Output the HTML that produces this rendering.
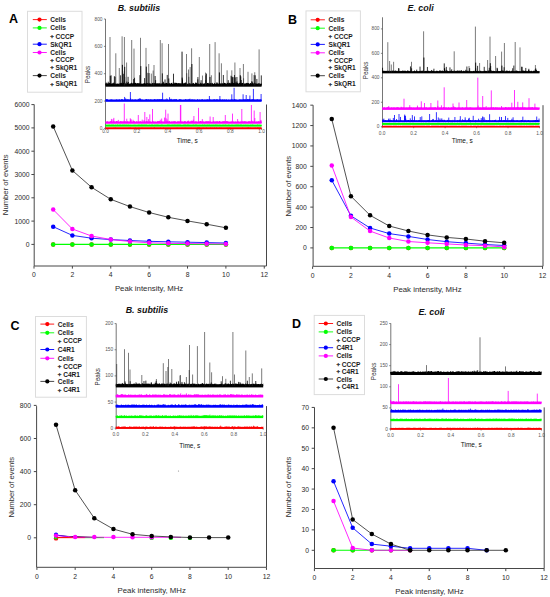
<!DOCTYPE html>
<html><head><meta charset="utf-8"><style>
html,body{margin:0;padding:0;background:#fff;width:550px;height:597px;overflow:hidden}
svg{display:block;font-family:"Liberation Sans", sans-serif}
</style></head><body>
<svg width="550" height="597" viewBox="0 0 550 597" font-family='"Liberation Sans", sans-serif'>
<rect width="550" height="597" fill="#fff"/>
<path d="M34.2 104.5 V266 H266.5 V104.5" fill="none" stroke="#474747" stroke-width="1"/>
<line x1="31.4" y1="244.4" x2="34.2" y2="244.4" stroke="#474747" stroke-width="1"/>
<text x="29.5" y="244.4" font-size="6.8" text-anchor="end" font-weight="normal" font-style="normal" fill="#2a2a2a" dominant-baseline="central">0</text>
<line x1="31.4" y1="221.1" x2="34.2" y2="221.1" stroke="#474747" stroke-width="1"/>
<text x="29.5" y="221.1" font-size="6.8" text-anchor="end" font-weight="normal" font-style="normal" fill="#2a2a2a" dominant-baseline="central">1000</text>
<line x1="31.4" y1="197.8" x2="34.2" y2="197.8" stroke="#474747" stroke-width="1"/>
<text x="29.5" y="197.8" font-size="6.8" text-anchor="end" font-weight="normal" font-style="normal" fill="#2a2a2a" dominant-baseline="central">2000</text>
<line x1="31.4" y1="174.5" x2="34.2" y2="174.5" stroke="#474747" stroke-width="1"/>
<text x="29.5" y="174.5" font-size="6.8" text-anchor="end" font-weight="normal" font-style="normal" fill="#2a2a2a" dominant-baseline="central">3000</text>
<line x1="31.4" y1="151.2" x2="34.2" y2="151.2" stroke="#474747" stroke-width="1"/>
<text x="29.5" y="151.2" font-size="6.8" text-anchor="end" font-weight="normal" font-style="normal" fill="#2a2a2a" dominant-baseline="central">4000</text>
<line x1="31.4" y1="127.9" x2="34.2" y2="127.9" stroke="#474747" stroke-width="1"/>
<text x="29.5" y="127.9" font-size="6.8" text-anchor="end" font-weight="normal" font-style="normal" fill="#2a2a2a" dominant-baseline="central">5000</text>
<line x1="31.4" y1="104.6" x2="34.2" y2="104.6" stroke="#474747" stroke-width="1"/>
<text x="29.5" y="104.6" font-size="6.8" text-anchor="end" font-weight="normal" font-style="normal" fill="#2a2a2a" dominant-baseline="central">6000</text>
<line x1="34" y1="266" x2="34" y2="268.6" stroke="#474747" stroke-width="1"/>
<text x="34" y="274.5" font-size="6.8" text-anchor="middle" font-weight="normal" font-style="normal" fill="#2a2a2a" dominant-baseline="central">0</text>
<line x1="72.38" y1="266" x2="72.38" y2="268.6" stroke="#474747" stroke-width="1"/>
<text x="72.38" y="274.5" font-size="6.8" text-anchor="middle" font-weight="normal" font-style="normal" fill="#2a2a2a" dominant-baseline="central">2</text>
<line x1="110.76" y1="266" x2="110.76" y2="268.6" stroke="#474747" stroke-width="1"/>
<text x="110.76" y="274.5" font-size="6.8" text-anchor="middle" font-weight="normal" font-style="normal" fill="#2a2a2a" dominant-baseline="central">4</text>
<line x1="149.14" y1="266" x2="149.14" y2="268.6" stroke="#474747" stroke-width="1"/>
<text x="149.14" y="274.5" font-size="6.8" text-anchor="middle" font-weight="normal" font-style="normal" fill="#2a2a2a" dominant-baseline="central">6</text>
<line x1="187.52" y1="266" x2="187.52" y2="268.6" stroke="#474747" stroke-width="1"/>
<text x="187.52" y="274.5" font-size="6.8" text-anchor="middle" font-weight="normal" font-style="normal" fill="#2a2a2a" dominant-baseline="central">8</text>
<line x1="225.9" y1="266" x2="225.9" y2="268.6" stroke="#474747" stroke-width="1"/>
<text x="225.9" y="274.5" font-size="6.8" text-anchor="middle" font-weight="normal" font-style="normal" fill="#2a2a2a" dominant-baseline="central">10</text>
<line x1="264.28" y1="266" x2="264.28" y2="268.6" stroke="#474747" stroke-width="1"/>
<text x="264.28" y="274.5" font-size="6.8" text-anchor="middle" font-weight="normal" font-style="normal" fill="#2a2a2a" dominant-baseline="central">12</text>
<text x="149.1" y="288.3" font-size="7.8" text-anchor="middle" font-weight="normal" font-style="normal" fill="#2a2a2a" dominant-baseline="central">Peak intensity, MHz</text>
<text x="5.2" y="184.8" font-size="7.7" text-anchor="middle" font-weight="normal" font-style="normal" fill="#2a2a2a" dominant-baseline="central" transform="rotate(-90 5.2 184.8)">Number of events</text>
<path d="M53.19 244.4 L72.38 244.4 L91.57 244.4 L110.76 244.4 L129.95 244.4 L149.14 244.4 L168.33 244.4 L187.52 244.4 L206.71 244.4 L225.9 244.4" fill="none" stroke="#ff0000" stroke-width="0"/>
<circle cx="53.19" cy="244.4" r="2.25" fill="#ff0000"/>
<circle cx="72.38" cy="244.4" r="2.25" fill="#ff0000"/>
<circle cx="91.57" cy="244.4" r="2.25" fill="#ff0000"/>
<circle cx="110.76" cy="244.4" r="2.25" fill="#ff0000"/>
<circle cx="129.95" cy="244.4" r="2.25" fill="#ff0000"/>
<circle cx="149.14" cy="244.4" r="2.25" fill="#ff0000"/>
<circle cx="168.33" cy="244.4" r="2.25" fill="#ff0000"/>
<circle cx="187.52" cy="244.4" r="2.25" fill="#ff0000"/>
<circle cx="206.71" cy="244.4" r="2.25" fill="#ff0000"/>
<circle cx="225.9" cy="244.4" r="2.25" fill="#ff0000"/>
<path d="M53.19 244.4 L72.38 244.4 L91.57 244.4 L110.76 244.4 L129.95 244.4 L149.14 244.4 L168.33 244.4 L187.52 244.4 L206.71 244.4 L225.9 244.4" fill="none" stroke="#00ff00" stroke-width="1.1"/>
<circle cx="53.19" cy="244.4" r="2.25" fill="#00ff00"/>
<circle cx="72.38" cy="244.4" r="2.25" fill="#00ff00"/>
<circle cx="91.57" cy="244.4" r="2.25" fill="#00ff00"/>
<circle cx="110.76" cy="244.4" r="2.25" fill="#00ff00"/>
<circle cx="129.95" cy="244.4" r="2.25" fill="#00ff00"/>
<circle cx="149.14" cy="244.4" r="2.25" fill="#00ff00"/>
<circle cx="168.33" cy="244.4" r="2.25" fill="#00ff00"/>
<circle cx="187.52" cy="244.4" r="2.25" fill="#00ff00"/>
<circle cx="206.71" cy="244.4" r="2.25" fill="#00ff00"/>
<circle cx="225.9" cy="244.4" r="2.25" fill="#00ff00"/>
<path d="M53.19 226.7 L72.38 235.4 L91.57 238.2 L110.76 239.6 L129.95 240.5 L149.14 241.3 L168.33 241.8 L187.52 242.2 L206.71 242.6 L225.9 243" fill="none" stroke="#0000ff" stroke-width="0.85"/>
<circle cx="53.19" cy="226.7" r="2.25" fill="#0000ff"/>
<circle cx="72.38" cy="235.4" r="2.25" fill="#0000ff"/>
<circle cx="91.57" cy="238.2" r="2.25" fill="#0000ff"/>
<circle cx="110.76" cy="239.6" r="2.25" fill="#0000ff"/>
<circle cx="129.95" cy="240.5" r="2.25" fill="#0000ff"/>
<circle cx="149.14" cy="241.3" r="2.25" fill="#0000ff"/>
<circle cx="168.33" cy="241.8" r="2.25" fill="#0000ff"/>
<circle cx="187.52" cy="242.2" r="2.25" fill="#0000ff"/>
<circle cx="206.71" cy="242.6" r="2.25" fill="#0000ff"/>
<circle cx="225.9" cy="243" r="2.25" fill="#0000ff"/>
<path d="M53.19 209.6 L72.38 229 L91.57 236 L110.76 239.5 L129.95 241.5 L149.14 242.8 L168.33 243.3 L187.52 243.6 L206.71 243.8 L225.9 244" fill="none" stroke="#ff00ff" stroke-width="0.85"/>
<circle cx="53.19" cy="209.6" r="2.25" fill="#ff00ff"/>
<circle cx="72.38" cy="229" r="2.25" fill="#ff00ff"/>
<circle cx="91.57" cy="236" r="2.25" fill="#ff00ff"/>
<circle cx="110.76" cy="239.5" r="2.25" fill="#ff00ff"/>
<circle cx="129.95" cy="241.5" r="2.25" fill="#ff00ff"/>
<circle cx="149.14" cy="242.8" r="2.25" fill="#ff00ff"/>
<circle cx="168.33" cy="243.3" r="2.25" fill="#ff00ff"/>
<circle cx="187.52" cy="243.6" r="2.25" fill="#ff00ff"/>
<circle cx="206.71" cy="243.8" r="2.25" fill="#ff00ff"/>
<circle cx="225.9" cy="244" r="2.25" fill="#ff00ff"/>
<path d="M53.19 126.4 L72.38 170.5 L91.57 187.3 L110.76 199.3 L129.95 206.6 L149.14 212.5 L168.33 217.3 L187.52 220.9 L206.71 224.2 L225.9 227.8" fill="none" stroke="#333" stroke-width="0.85"/>
<circle cx="53.19" cy="126.4" r="2.25" fill="#000000"/>
<circle cx="72.38" cy="170.5" r="2.25" fill="#000000"/>
<circle cx="91.57" cy="187.3" r="2.25" fill="#000000"/>
<circle cx="110.76" cy="199.3" r="2.25" fill="#000000"/>
<circle cx="129.95" cy="206.6" r="2.25" fill="#000000"/>
<circle cx="149.14" cy="212.5" r="2.25" fill="#000000"/>
<circle cx="168.33" cy="217.3" r="2.25" fill="#000000"/>
<circle cx="187.52" cy="220.9" r="2.25" fill="#000000"/>
<circle cx="206.71" cy="224.2" r="2.25" fill="#000000"/>
<circle cx="225.9" cy="227.8" r="2.25" fill="#000000"/>
<path d="M313.1 105.2 V266.3 H543 V105.2" fill="none" stroke="#474747" stroke-width="1"/>
<line x1="310.3" y1="247.9" x2="313.1" y2="247.9" stroke="#474747" stroke-width="1"/>
<text x="306.9" y="247.9" font-size="6.8" text-anchor="end" font-weight="normal" font-style="normal" fill="#2a2a2a" dominant-baseline="central">0</text>
<line x1="310.3" y1="227.51" x2="313.1" y2="227.51" stroke="#474747" stroke-width="1"/>
<text x="306.9" y="227.51" font-size="6.8" text-anchor="end" font-weight="normal" font-style="normal" fill="#2a2a2a" dominant-baseline="central">200</text>
<line x1="310.3" y1="207.12" x2="313.1" y2="207.12" stroke="#474747" stroke-width="1"/>
<text x="306.9" y="207.12" font-size="6.8" text-anchor="end" font-weight="normal" font-style="normal" fill="#2a2a2a" dominant-baseline="central">400</text>
<line x1="310.3" y1="186.73" x2="313.1" y2="186.73" stroke="#474747" stroke-width="1"/>
<text x="306.9" y="186.73" font-size="6.8" text-anchor="end" font-weight="normal" font-style="normal" fill="#2a2a2a" dominant-baseline="central">600</text>
<line x1="310.3" y1="166.34" x2="313.1" y2="166.34" stroke="#474747" stroke-width="1"/>
<text x="306.9" y="166.34" font-size="6.8" text-anchor="end" font-weight="normal" font-style="normal" fill="#2a2a2a" dominant-baseline="central">800</text>
<line x1="310.3" y1="145.95" x2="313.1" y2="145.95" stroke="#474747" stroke-width="1"/>
<text x="306.9" y="145.95" font-size="6.8" text-anchor="end" font-weight="normal" font-style="normal" fill="#2a2a2a" dominant-baseline="central">1000</text>
<line x1="310.3" y1="125.56" x2="313.1" y2="125.56" stroke="#474747" stroke-width="1"/>
<text x="306.9" y="125.56" font-size="6.8" text-anchor="end" font-weight="normal" font-style="normal" fill="#2a2a2a" dominant-baseline="central">1200</text>
<line x1="310.3" y1="105.17" x2="313.1" y2="105.17" stroke="#474747" stroke-width="1"/>
<text x="306.9" y="105.17" font-size="6.8" text-anchor="end" font-weight="normal" font-style="normal" fill="#2a2a2a" dominant-baseline="central">1400</text>
<line x1="312.6" y1="266.3" x2="312.6" y2="268.9" stroke="#474747" stroke-width="1"/>
<text x="312.6" y="275" font-size="6.8" text-anchor="middle" font-weight="normal" font-style="normal" fill="#2a2a2a" dominant-baseline="central">0</text>
<line x1="350.92" y1="266.3" x2="350.92" y2="268.9" stroke="#474747" stroke-width="1"/>
<text x="350.92" y="275" font-size="6.8" text-anchor="middle" font-weight="normal" font-style="normal" fill="#2a2a2a" dominant-baseline="central">2</text>
<line x1="389.24" y1="266.3" x2="389.24" y2="268.9" stroke="#474747" stroke-width="1"/>
<text x="389.24" y="275" font-size="6.8" text-anchor="middle" font-weight="normal" font-style="normal" fill="#2a2a2a" dominant-baseline="central">4</text>
<line x1="427.56" y1="266.3" x2="427.56" y2="268.9" stroke="#474747" stroke-width="1"/>
<text x="427.56" y="275" font-size="6.8" text-anchor="middle" font-weight="normal" font-style="normal" fill="#2a2a2a" dominant-baseline="central">6</text>
<line x1="465.88" y1="266.3" x2="465.88" y2="268.9" stroke="#474747" stroke-width="1"/>
<text x="465.88" y="275" font-size="6.8" text-anchor="middle" font-weight="normal" font-style="normal" fill="#2a2a2a" dominant-baseline="central">8</text>
<line x1="504.2" y1="266.3" x2="504.2" y2="268.9" stroke="#474747" stroke-width="1"/>
<text x="504.2" y="275" font-size="6.8" text-anchor="middle" font-weight="normal" font-style="normal" fill="#2a2a2a" dominant-baseline="central">10</text>
<line x1="542.52" y1="266.3" x2="542.52" y2="268.9" stroke="#474747" stroke-width="1"/>
<text x="542.52" y="275" font-size="6.8" text-anchor="middle" font-weight="normal" font-style="normal" fill="#2a2a2a" dominant-baseline="central">12</text>
<text x="427.4" y="289" font-size="7.8" text-anchor="middle" font-weight="normal" font-style="normal" fill="#2a2a2a" dominant-baseline="central">Peak intensity, MHz</text>
<text x="289" y="186.2" font-size="7.7" text-anchor="middle" font-weight="normal" font-style="normal" fill="#2a2a2a" dominant-baseline="central" transform="rotate(-90 289 186.2)">Number of events</text>
<path d="M331.76 247.9 L350.92 247.9 L370.08 247.9 L389.24 247.9 L408.4 247.9 L427.56 247.9 L446.72 247.9 L465.88 247.9 L485.04 247.9 L504.2 247.9" fill="none" stroke="#ff0000" stroke-width="0"/>
<circle cx="331.76" cy="247.9" r="2.25" fill="#ff0000"/>
<circle cx="350.92" cy="247.9" r="2.25" fill="#ff0000"/>
<circle cx="370.08" cy="247.9" r="2.25" fill="#ff0000"/>
<circle cx="389.24" cy="247.9" r="2.25" fill="#ff0000"/>
<circle cx="408.4" cy="247.9" r="2.25" fill="#ff0000"/>
<circle cx="427.56" cy="247.9" r="2.25" fill="#ff0000"/>
<circle cx="446.72" cy="247.9" r="2.25" fill="#ff0000"/>
<circle cx="465.88" cy="247.9" r="2.25" fill="#ff0000"/>
<circle cx="485.04" cy="247.9" r="2.25" fill="#ff0000"/>
<circle cx="504.2" cy="247.9" r="2.25" fill="#ff0000"/>
<path d="M331.76 247.9 L350.92 247.9 L370.08 247.9 L389.24 247.9 L408.4 247.9 L427.56 247.9 L446.72 247.9 L465.88 247.9 L485.04 247.9 L504.2 247.9" fill="none" stroke="#00ff00" stroke-width="1.1"/>
<circle cx="331.76" cy="247.9" r="2.25" fill="#00ff00"/>
<circle cx="350.92" cy="247.9" r="2.25" fill="#00ff00"/>
<circle cx="370.08" cy="247.9" r="2.25" fill="#00ff00"/>
<circle cx="389.24" cy="247.9" r="2.25" fill="#00ff00"/>
<circle cx="408.4" cy="247.9" r="2.25" fill="#00ff00"/>
<circle cx="427.56" cy="247.9" r="2.25" fill="#00ff00"/>
<circle cx="446.72" cy="247.9" r="2.25" fill="#00ff00"/>
<circle cx="465.88" cy="247.9" r="2.25" fill="#00ff00"/>
<circle cx="485.04" cy="247.9" r="2.25" fill="#00ff00"/>
<circle cx="504.2" cy="247.9" r="2.25" fill="#00ff00"/>
<path d="M331.76 180.2 L350.92 215.8 L370.08 228 L389.24 233.6 L408.4 236.4 L427.56 239.5 L446.72 241.7 L465.88 243.1 L485.04 244.5 L504.2 245.5" fill="none" stroke="#0000ff" stroke-width="0.85"/>
<circle cx="331.76" cy="180.2" r="2.25" fill="#0000ff"/>
<circle cx="350.92" cy="215.8" r="2.25" fill="#0000ff"/>
<circle cx="370.08" cy="228" r="2.25" fill="#0000ff"/>
<circle cx="389.24" cy="233.6" r="2.25" fill="#0000ff"/>
<circle cx="408.4" cy="236.4" r="2.25" fill="#0000ff"/>
<circle cx="427.56" cy="239.5" r="2.25" fill="#0000ff"/>
<circle cx="446.72" cy="241.7" r="2.25" fill="#0000ff"/>
<circle cx="465.88" cy="243.1" r="2.25" fill="#0000ff"/>
<circle cx="485.04" cy="244.5" r="2.25" fill="#0000ff"/>
<circle cx="504.2" cy="245.5" r="2.25" fill="#0000ff"/>
<path d="M331.76 165.5 L350.92 217 L370.08 231.1 L389.24 238 L408.4 241.5 L427.56 242.8 L446.72 243.9 L465.88 245 L485.04 245.7 L504.2 246.9" fill="none" stroke="#ff00ff" stroke-width="0.85"/>
<circle cx="331.76" cy="165.5" r="2.25" fill="#ff00ff"/>
<circle cx="350.92" cy="217" r="2.25" fill="#ff00ff"/>
<circle cx="370.08" cy="231.1" r="2.25" fill="#ff00ff"/>
<circle cx="389.24" cy="238" r="2.25" fill="#ff00ff"/>
<circle cx="408.4" cy="241.5" r="2.25" fill="#ff00ff"/>
<circle cx="427.56" cy="242.8" r="2.25" fill="#ff00ff"/>
<circle cx="446.72" cy="243.9" r="2.25" fill="#ff00ff"/>
<circle cx="465.88" cy="245" r="2.25" fill="#ff00ff"/>
<circle cx="485.04" cy="245.7" r="2.25" fill="#ff00ff"/>
<circle cx="504.2" cy="246.9" r="2.25" fill="#ff00ff"/>
<path d="M331.76 119 L350.92 196.2 L370.08 215.3 L389.24 226 L408.4 231 L427.56 234.9 L446.72 237.4 L465.88 239 L485.04 241.2 L504.2 242.8" fill="none" stroke="#333" stroke-width="0.85"/>
<circle cx="331.76" cy="119" r="2.25" fill="#000000"/>
<circle cx="350.92" cy="196.2" r="2.25" fill="#000000"/>
<circle cx="370.08" cy="215.3" r="2.25" fill="#000000"/>
<circle cx="389.24" cy="226" r="2.25" fill="#000000"/>
<circle cx="408.4" cy="231" r="2.25" fill="#000000"/>
<circle cx="427.56" cy="234.9" r="2.25" fill="#000000"/>
<circle cx="446.72" cy="237.4" r="2.25" fill="#000000"/>
<circle cx="465.88" cy="239" r="2.25" fill="#000000"/>
<circle cx="485.04" cy="241.2" r="2.25" fill="#000000"/>
<circle cx="504.2" cy="242.8" r="2.25" fill="#000000"/>
<path d="M36.6 406.1 V567.3 H266.5 V406.1" fill="none" stroke="#474747" stroke-width="1"/>
<line x1="33.8" y1="537.8" x2="36.6" y2="537.8" stroke="#474747" stroke-width="1"/>
<text x="31.1" y="537.8" font-size="6.8" text-anchor="end" font-weight="normal" font-style="normal" fill="#2a2a2a" dominant-baseline="central">0</text>
<line x1="33.8" y1="504.7" x2="36.6" y2="504.7" stroke="#474747" stroke-width="1"/>
<text x="31.1" y="504.7" font-size="6.8" text-anchor="end" font-weight="normal" font-style="normal" fill="#2a2a2a" dominant-baseline="central">200</text>
<line x1="33.8" y1="471.6" x2="36.6" y2="471.6" stroke="#474747" stroke-width="1"/>
<text x="31.1" y="471.6" font-size="6.8" text-anchor="end" font-weight="normal" font-style="normal" fill="#2a2a2a" dominant-baseline="central">400</text>
<line x1="33.8" y1="438.5" x2="36.6" y2="438.5" stroke="#474747" stroke-width="1"/>
<text x="31.1" y="438.5" font-size="6.8" text-anchor="end" font-weight="normal" font-style="normal" fill="#2a2a2a" dominant-baseline="central">600</text>
<line x1="33.8" y1="405.4" x2="36.6" y2="405.4" stroke="#474747" stroke-width="1"/>
<text x="31.1" y="405.4" font-size="6.8" text-anchor="end" font-weight="normal" font-style="normal" fill="#2a2a2a" dominant-baseline="central">800</text>
<line x1="36.9" y1="567.3" x2="36.9" y2="569.9" stroke="#474747" stroke-width="1"/>
<text x="36.9" y="576.5" font-size="6.8" text-anchor="middle" font-weight="normal" font-style="normal" fill="#2a2a2a" dominant-baseline="central">0</text>
<line x1="75.16" y1="567.3" x2="75.16" y2="569.9" stroke="#474747" stroke-width="1"/>
<text x="75.16" y="576.5" font-size="6.8" text-anchor="middle" font-weight="normal" font-style="normal" fill="#2a2a2a" dominant-baseline="central">2</text>
<line x1="113.42" y1="567.3" x2="113.42" y2="569.9" stroke="#474747" stroke-width="1"/>
<text x="113.42" y="576.5" font-size="6.8" text-anchor="middle" font-weight="normal" font-style="normal" fill="#2a2a2a" dominant-baseline="central">4</text>
<line x1="151.68" y1="567.3" x2="151.68" y2="569.9" stroke="#474747" stroke-width="1"/>
<text x="151.68" y="576.5" font-size="6.8" text-anchor="middle" font-weight="normal" font-style="normal" fill="#2a2a2a" dominant-baseline="central">6</text>
<line x1="189.94" y1="567.3" x2="189.94" y2="569.9" stroke="#474747" stroke-width="1"/>
<text x="189.94" y="576.5" font-size="6.8" text-anchor="middle" font-weight="normal" font-style="normal" fill="#2a2a2a" dominant-baseline="central">8</text>
<line x1="228.2" y1="567.3" x2="228.2" y2="569.9" stroke="#474747" stroke-width="1"/>
<text x="228.2" y="576.5" font-size="6.8" text-anchor="middle" font-weight="normal" font-style="normal" fill="#2a2a2a" dominant-baseline="central">10</text>
<line x1="266.46" y1="567.3" x2="266.46" y2="569.9" stroke="#474747" stroke-width="1"/>
<text x="266.46" y="576.5" font-size="6.8" text-anchor="middle" font-weight="normal" font-style="normal" fill="#2a2a2a" dominant-baseline="central">12</text>
<text x="151.75" y="590" font-size="7.8" text-anchor="middle" font-weight="normal" font-style="normal" fill="#2a2a2a" dominant-baseline="central">Peak intensity, MHz</text>
<text x="11.4" y="487.2" font-size="7.7" text-anchor="middle" font-weight="normal" font-style="normal" fill="#2a2a2a" dominant-baseline="central" transform="rotate(-90 11.4 487.2)">Number of events</text>
<circle cx="151.68" cy="537.9" r="2.2" fill="#00ff00"/><circle cx="170.81" cy="537.9" r="2.2" fill="#00ff00"/><circle cx="189.94" cy="537.9" r="2.2" fill="#00ff00"/><circle cx="56.03" cy="538.4" r="2.2" fill="#ff0000"/><circle cx="56.03" cy="537.6" r="2" fill="#00ff00"/><path d="M56 537.6 H85" stroke="#ff0000" stroke-width="1.1"/><path d="M85 537.6 H104" stroke="#00ff00" stroke-width="1.1"/><path d="M56 535 L68 536.6" stroke="#0000ff" stroke-width="1"/><circle cx="56.03" cy="534.7" r="2.1" fill="#0000ff"/><path d="M56 535.6 L75.16 537.2 H104" stroke="#ff00ff" stroke-width="0.8"/><path d="M104 537.4 H181" stroke="#ff55ff" stroke-width="1.2"/><circle cx="56.03" cy="535.6" r="2.2" fill="#ff00ff"/><circle cx="75.16" cy="537.1" r="2.25" fill="#ff00ff"/><circle cx="94.29" cy="537.1" r="2.25" fill="#ff00ff"/><circle cx="113.42" cy="537.1" r="2.25" fill="#ff00ff"/><circle cx="132.55" cy="537.2" r="2.25" fill="#ff00ff"/><circle cx="151.68" cy="537.2" r="2.2" fill="#ff00ff"/><circle cx="178.5" cy="471" r="0.6" fill="#888"/>
<path d="M56.03 424.8 L75.16 490.2 L94.29 518.2 L113.42 529.1 L132.55 534.3 L151.68 536 L170.81 536.9 L189.94 537.5 L209.07 537.6 L228.2 537.6" fill="none" stroke="#333" stroke-width="0.85"/>
<circle cx="56.03" cy="424.8" r="2.25" fill="#000000"/>
<circle cx="75.16" cy="490.2" r="2.25" fill="#000000"/>
<circle cx="94.29" cy="518.2" r="2.25" fill="#000000"/>
<circle cx="113.42" cy="529.1" r="2.25" fill="#000000"/>
<circle cx="132.55" cy="534.3" r="2.25" fill="#000000"/>
<circle cx="151.68" cy="536" r="2.25" fill="#000000"/>
<circle cx="170.81" cy="536.9" r="2.25" fill="#000000"/>
<circle cx="189.94" cy="537.5" r="2.25" fill="#000000"/>
<circle cx="209.07" cy="537.6" r="2.25" fill="#000000"/>
<circle cx="228.2" cy="537.6" r="2.25" fill="#000000"/>
<path d="M314.5 407.4 V568.5 H544.2 V407.4" fill="none" stroke="#474747" stroke-width="1"/>
<line x1="311.7" y1="550.3" x2="314.5" y2="550.3" stroke="#474747" stroke-width="1"/>
<text x="309.1" y="550.3" font-size="6.8" text-anchor="end" font-weight="normal" font-style="normal" fill="#2a2a2a" dominant-baseline="central">0</text>
<line x1="311.7" y1="529.89" x2="314.5" y2="529.89" stroke="#474747" stroke-width="1"/>
<text x="309.1" y="529.89" font-size="6.8" text-anchor="end" font-weight="normal" font-style="normal" fill="#2a2a2a" dominant-baseline="central">10</text>
<line x1="311.7" y1="509.48" x2="314.5" y2="509.48" stroke="#474747" stroke-width="1"/>
<text x="309.1" y="509.48" font-size="6.8" text-anchor="end" font-weight="normal" font-style="normal" fill="#2a2a2a" dominant-baseline="central">20</text>
<line x1="311.7" y1="489.07" x2="314.5" y2="489.07" stroke="#474747" stroke-width="1"/>
<text x="309.1" y="489.07" font-size="6.8" text-anchor="end" font-weight="normal" font-style="normal" fill="#2a2a2a" dominant-baseline="central">30</text>
<line x1="311.7" y1="468.66" x2="314.5" y2="468.66" stroke="#474747" stroke-width="1"/>
<text x="309.1" y="468.66" font-size="6.8" text-anchor="end" font-weight="normal" font-style="normal" fill="#2a2a2a" dominant-baseline="central">40</text>
<line x1="311.7" y1="448.25" x2="314.5" y2="448.25" stroke="#474747" stroke-width="1"/>
<text x="309.1" y="448.25" font-size="6.8" text-anchor="end" font-weight="normal" font-style="normal" fill="#2a2a2a" dominant-baseline="central">50</text>
<line x1="311.7" y1="427.84" x2="314.5" y2="427.84" stroke="#474747" stroke-width="1"/>
<text x="309.1" y="427.84" font-size="6.8" text-anchor="end" font-weight="normal" font-style="normal" fill="#2a2a2a" dominant-baseline="central">60</text>
<line x1="311.7" y1="407.43" x2="314.5" y2="407.43" stroke="#474747" stroke-width="1"/>
<text x="309.1" y="407.43" font-size="6.8" text-anchor="end" font-weight="normal" font-style="normal" fill="#2a2a2a" dominant-baseline="central">70</text>
<line x1="314.4" y1="568.5" x2="314.4" y2="571.1" stroke="#474747" stroke-width="1"/>
<text x="314.4" y="577.5" font-size="6.8" text-anchor="middle" font-weight="normal" font-style="normal" fill="#2a2a2a" dominant-baseline="central">0</text>
<line x1="352.68" y1="568.5" x2="352.68" y2="571.1" stroke="#474747" stroke-width="1"/>
<text x="352.68" y="577.5" font-size="6.8" text-anchor="middle" font-weight="normal" font-style="normal" fill="#2a2a2a" dominant-baseline="central">2</text>
<line x1="390.96" y1="568.5" x2="390.96" y2="571.1" stroke="#474747" stroke-width="1"/>
<text x="390.96" y="577.5" font-size="6.8" text-anchor="middle" font-weight="normal" font-style="normal" fill="#2a2a2a" dominant-baseline="central">4</text>
<line x1="429.24" y1="568.5" x2="429.24" y2="571.1" stroke="#474747" stroke-width="1"/>
<text x="429.24" y="577.5" font-size="6.8" text-anchor="middle" font-weight="normal" font-style="normal" fill="#2a2a2a" dominant-baseline="central">6</text>
<line x1="467.52" y1="568.5" x2="467.52" y2="571.1" stroke="#474747" stroke-width="1"/>
<text x="467.52" y="577.5" font-size="6.8" text-anchor="middle" font-weight="normal" font-style="normal" fill="#2a2a2a" dominant-baseline="central">8</text>
<line x1="505.8" y1="568.5" x2="505.8" y2="571.1" stroke="#474747" stroke-width="1"/>
<text x="505.8" y="577.5" font-size="6.8" text-anchor="middle" font-weight="normal" font-style="normal" fill="#2a2a2a" dominant-baseline="central">10</text>
<line x1="544.08" y1="568.5" x2="544.08" y2="571.1" stroke="#474747" stroke-width="1"/>
<text x="544.08" y="577.5" font-size="6.8" text-anchor="middle" font-weight="normal" font-style="normal" fill="#2a2a2a" dominant-baseline="central">12</text>
<text x="429.5" y="591" font-size="7.8" text-anchor="middle" font-weight="normal" font-style="normal" fill="#2a2a2a" dominant-baseline="central">Peak intensity, MHz</text>
<text x="288.7" y="487" font-size="7.7" text-anchor="middle" font-weight="normal" font-style="normal" fill="#2a2a2a" dominant-baseline="central" transform="rotate(-90 288.7 487)">Number of events</text>
<path d="M333.54 550.3 L352.68 550.3 L371.82 550.3 L390.96 550.3 L410.1 550.3" fill="none" stroke="#ff0000" stroke-width="0"/>
<circle cx="333.54" cy="550.3" r="2.25" fill="#ff0000"/>
<circle cx="352.68" cy="550.3" r="2.25" fill="#ff0000"/>
<circle cx="371.82" cy="550.3" r="2.25" fill="#ff0000"/>
<circle cx="390.96" cy="550.3" r="2.25" fill="#ff0000"/>
<circle cx="410.1" cy="550.3" r="2.25" fill="#ff0000"/>
<path d="M333.54 550.3 L352.68 550.3 L371.82 550.3 L390.96 550.3 L410.1 550.3" fill="none" stroke="#00ff00" stroke-width="1.1"/>
<circle cx="333.54" cy="550.3" r="2.25" fill="#00ff00"/>
<circle cx="352.68" cy="550.3" r="2.25" fill="#00ff00"/>
<circle cx="371.82" cy="550.3" r="2.25" fill="#00ff00"/>
<circle cx="390.96" cy="550.3" r="2.25" fill="#00ff00"/>
<circle cx="410.1" cy="550.3" r="2.25" fill="#00ff00"/>
<path d="M333.54 501.1 L352.68 548 L371.82 550.3 L390.96 550.3 L410.1 550.3" fill="none" stroke="#ff00ff" stroke-width="0.85"/>
<circle cx="333.54" cy="501.1" r="2.25" fill="#ff00ff"/>
<circle cx="352.68" cy="548" r="2.25" fill="#ff00ff"/>
<circle cx="371.82" cy="550.3" r="2.25" fill="#ff00ff"/>
<circle cx="390.96" cy="550.3" r="2.25" fill="#ff00ff"/>
<circle cx="410.1" cy="550.3" r="2.25" fill="#ff00ff"/>
<path d="M333.54 481.3 L352.68 527.8 L371.82 544.1 L390.96 546.2 L410.1 548.3 L429.24 548.3 L448.38 548.3 L467.52 548.3 L486.66 550.3" fill="none" stroke="#0000ff" stroke-width="0.85"/>
<circle cx="333.54" cy="481.3" r="2.25" fill="#0000ff"/>
<circle cx="352.68" cy="527.8" r="2.25" fill="#0000ff"/>
<circle cx="371.82" cy="544.1" r="2.25" fill="#0000ff"/>
<circle cx="390.96" cy="546.2" r="2.25" fill="#0000ff"/>
<circle cx="410.1" cy="548.3" r="2.25" fill="#0000ff"/>
<circle cx="429.24" cy="548.3" r="2.25" fill="#0000ff"/>
<circle cx="448.38" cy="548.3" r="2.25" fill="#0000ff"/>
<circle cx="467.52" cy="548.3" r="2.25" fill="#0000ff"/>
<circle cx="486.66" cy="550.3" r="2.25" fill="#0000ff"/>
<path d="M333.54 427.7 L352.68 519.5 L371.82 534 L390.96 544.1 L410.1 550.3 L429.24 550.3 L448.38 550.3 L467.52 550.3 L486.66 550.3 L505.8 550.3" fill="none" stroke="#333" stroke-width="0.85"/>
<circle cx="333.54" cy="427.7" r="2.25" fill="#000000"/>
<circle cx="352.68" cy="519.5" r="2.25" fill="#000000"/>
<circle cx="371.82" cy="534" r="2.25" fill="#000000"/>
<circle cx="390.96" cy="544.1" r="2.25" fill="#000000"/>
<circle cx="410.1" cy="550.3" r="2.25" fill="#000000"/>
<circle cx="429.24" cy="550.3" r="2.25" fill="#000000"/>
<circle cx="448.38" cy="550.3" r="2.25" fill="#000000"/>
<circle cx="467.52" cy="550.3" r="2.25" fill="#000000"/>
<circle cx="486.66" cy="550.3" r="2.25" fill="#000000"/>
<circle cx="505.8" cy="550.3" r="2.25" fill="#000000"/>
<rect x="27.5" y="11.3" width="54.5" height="80.9" fill="#fff" stroke="#dcdcdc" stroke-width="1"/>
<line x1="32.8" y1="19.6" x2="46.8" y2="19.6" stroke="#ff0000" stroke-width="0.9"/>
<circle cx="39.5" cy="19.6" r="2.1" fill="#ff0000"/>
<line x1="32.8" y1="27.9" x2="46.8" y2="27.9" stroke="#00ff00" stroke-width="0.9"/>
<circle cx="39.5" cy="27.9" r="2.1" fill="#00ff00"/>
<line x1="32.8" y1="44.2" x2="46.8" y2="44.2" stroke="#0000ff" stroke-width="0.9"/>
<circle cx="39.5" cy="44.2" r="2.1" fill="#0000ff"/>
<line x1="32.8" y1="52.5" x2="46.8" y2="52.5" stroke="#ff00ff" stroke-width="0.9"/>
<circle cx="39.5" cy="52.5" r="2.1" fill="#ff00ff"/>
<line x1="32.8" y1="75.6" x2="46.8" y2="75.6" stroke="#333" stroke-width="0.9"/>
<circle cx="39.5" cy="75.6" r="2.1" fill="#000000"/>
<text x="50.2" y="19.6" font-size="6.6" text-anchor="start" font-weight="bold" font-style="normal" fill="#1a1a1a" dominant-baseline="central">Cells</text>
<text x="50.2" y="27.9" font-size="6.6" text-anchor="start" font-weight="bold" font-style="normal" fill="#1a1a1a" dominant-baseline="central">Cells</text>
<text x="50.2" y="35.6" font-size="6.6" text-anchor="start" font-weight="bold" font-style="normal" fill="#1a1a1a" dominant-baseline="central"><tspan font-size="6" dy="0.6" stroke="#1a1a1a" stroke-width="0.25">+</tspan><tspan dy="-0.6"> CCCP</tspan></text>
<text x="50.2" y="44.2" font-size="6.6" text-anchor="start" font-weight="bold" font-style="normal" fill="#1a1a1a" dominant-baseline="central">SkQR1</text>
<text x="50.2" y="52.5" font-size="6.6" text-anchor="start" font-weight="bold" font-style="normal" fill="#1a1a1a" dominant-baseline="central">Cells</text>
<text x="50.2" y="59" font-size="6.6" text-anchor="start" font-weight="bold" font-style="normal" fill="#1a1a1a" dominant-baseline="central"><tspan font-size="6" dy="0.6" stroke="#1a1a1a" stroke-width="0.25">+</tspan><tspan dy="-0.6"> CCCP</tspan></text>
<text x="50.2" y="66.5" font-size="6.6" text-anchor="start" font-weight="bold" font-style="normal" fill="#1a1a1a" dominant-baseline="central"><tspan font-size="6" dy="0.6" stroke="#1a1a1a" stroke-width="0.25">+</tspan><tspan dy="-0.6"> SkQR1</tspan></text>
<text x="50.2" y="75.6" font-size="6.6" text-anchor="start" font-weight="bold" font-style="normal" fill="#1a1a1a" dominant-baseline="central">Cells</text>
<text x="50.2" y="83" font-size="6.6" text-anchor="start" font-weight="bold" font-style="normal" fill="#1a1a1a" dominant-baseline="central"><tspan font-size="6" dy="0.6" stroke="#1a1a1a" stroke-width="0.25">+</tspan><tspan dy="-0.6"> SkQR1</tspan></text>
<rect x="306" y="10.9" width="54.4" height="80.9" fill="#fff" stroke="#dcdcdc" stroke-width="1"/>
<line x1="310.7" y1="19.8" x2="324.9" y2="19.8" stroke="#ff0000" stroke-width="0.9"/>
<circle cx="317.7" cy="19.8" r="2.1" fill="#ff0000"/>
<line x1="310.7" y1="28.2" x2="324.9" y2="28.2" stroke="#00ff00" stroke-width="0.9"/>
<circle cx="317.7" cy="28.2" r="2.1" fill="#00ff00"/>
<line x1="310.7" y1="44.4" x2="324.9" y2="44.4" stroke="#0000ff" stroke-width="0.9"/>
<circle cx="317.7" cy="44.4" r="2.1" fill="#0000ff"/>
<line x1="310.7" y1="52.8" x2="324.9" y2="52.8" stroke="#ff00ff" stroke-width="0.9"/>
<circle cx="317.7" cy="52.8" r="2.1" fill="#ff00ff"/>
<line x1="310.7" y1="75.7" x2="324.9" y2="75.7" stroke="#333" stroke-width="0.9"/>
<circle cx="317.7" cy="75.7" r="2.1" fill="#000000"/>
<text x="328.6" y="19.8" font-size="6.6" text-anchor="start" font-weight="bold" font-style="normal" fill="#1a1a1a" dominant-baseline="central">Cells</text>
<text x="328.6" y="28.2" font-size="6.6" text-anchor="start" font-weight="bold" font-style="normal" fill="#1a1a1a" dominant-baseline="central">Cells</text>
<text x="328.6" y="35.5" font-size="6.6" text-anchor="start" font-weight="bold" font-style="normal" fill="#1a1a1a" dominant-baseline="central"><tspan font-size="6" dy="0.6" stroke="#1a1a1a" stroke-width="0.25">+</tspan><tspan dy="-0.6"> CCCP</tspan></text>
<text x="328.6" y="44.4" font-size="6.6" text-anchor="start" font-weight="bold" font-style="normal" fill="#1a1a1a" dominant-baseline="central">SkQR1</text>
<text x="328.6" y="52.8" font-size="6.6" text-anchor="start" font-weight="bold" font-style="normal" fill="#1a1a1a" dominant-baseline="central">Cells</text>
<text x="328.6" y="59.5" font-size="6.6" text-anchor="start" font-weight="bold" font-style="normal" fill="#1a1a1a" dominant-baseline="central"><tspan font-size="6" dy="0.6" stroke="#1a1a1a" stroke-width="0.25">+</tspan><tspan dy="-0.6"> CCCP</tspan></text>
<text x="328.6" y="66.5" font-size="6.6" text-anchor="start" font-weight="bold" font-style="normal" fill="#1a1a1a" dominant-baseline="central"><tspan font-size="6" dy="0.6" stroke="#1a1a1a" stroke-width="0.25">+</tspan><tspan dy="-0.6"> SkQR1</tspan></text>
<text x="328.6" y="75.7" font-size="6.6" text-anchor="start" font-weight="bold" font-style="normal" fill="#1a1a1a" dominant-baseline="central">Cells</text>
<text x="328.6" y="83.3" font-size="6.6" text-anchor="start" font-weight="bold" font-style="normal" fill="#1a1a1a" dominant-baseline="central"><tspan font-size="6" dy="0.6" stroke="#1a1a1a" stroke-width="0.25">+</tspan><tspan dy="-0.6"> SkQR1</tspan></text>
<rect x="35.5" y="316.5" width="50.9" height="80.7" fill="#fff" stroke="#dcdcdc" stroke-width="1"/>
<line x1="40.4" y1="324.1" x2="54.2" y2="324.1" stroke="#ff0000" stroke-width="0.9"/>
<circle cx="47.3" cy="324.1" r="2.1" fill="#ff0000"/>
<line x1="40.4" y1="332.8" x2="54.2" y2="332.8" stroke="#00ff00" stroke-width="0.9"/>
<circle cx="47.3" cy="332.8" r="2.1" fill="#00ff00"/>
<line x1="40.4" y1="349.5" x2="54.2" y2="349.5" stroke="#0000ff" stroke-width="0.9"/>
<circle cx="47.3" cy="349.5" r="2.1" fill="#0000ff"/>
<line x1="40.4" y1="358.3" x2="54.2" y2="358.3" stroke="#ff00ff" stroke-width="0.9"/>
<circle cx="47.3" cy="358.3" r="2.1" fill="#ff00ff"/>
<line x1="40.4" y1="381.4" x2="54.2" y2="381.4" stroke="#333" stroke-width="0.9"/>
<circle cx="47.3" cy="381.4" r="2.1" fill="#000000"/>
<text x="57.8" y="324.1" font-size="6.6" text-anchor="start" font-weight="bold" font-style="normal" fill="#1a1a1a" dominant-baseline="central">Cells</text>
<text x="57.8" y="332.8" font-size="6.6" text-anchor="start" font-weight="bold" font-style="normal" fill="#1a1a1a" dominant-baseline="central">Cells</text>
<text x="57.8" y="340.1" font-size="6.6" text-anchor="start" font-weight="bold" font-style="normal" fill="#1a1a1a" dominant-baseline="central"><tspan font-size="6" dy="0.6" stroke="#1a1a1a" stroke-width="0.25">+</tspan><tspan dy="-0.6"> CCCP</tspan></text>
<text x="57.8" y="349.5" font-size="6.6" text-anchor="start" font-weight="bold" font-style="normal" fill="#1a1a1a" dominant-baseline="central">C4R1</text>
<text x="57.8" y="358.3" font-size="6.6" text-anchor="start" font-weight="bold" font-style="normal" fill="#1a1a1a" dominant-baseline="central">Cells</text>
<text x="57.8" y="365.5" font-size="6.6" text-anchor="start" font-weight="bold" font-style="normal" fill="#1a1a1a" dominant-baseline="central"><tspan font-size="6" dy="0.6" stroke="#1a1a1a" stroke-width="0.25">+</tspan><tspan dy="-0.6"> CCCP</tspan></text>
<text x="57.8" y="373.5" font-size="6.6" text-anchor="start" font-weight="bold" font-style="normal" fill="#1a1a1a" dominant-baseline="central"><tspan font-size="6" dy="0.6" stroke="#1a1a1a" stroke-width="0.25">+</tspan><tspan dy="-0.6"> C4R1</tspan></text>
<text x="57.8" y="381.4" font-size="6.6" text-anchor="start" font-weight="bold" font-style="normal" fill="#1a1a1a" dominant-baseline="central">Cells</text>
<text x="57.8" y="389" font-size="6.6" text-anchor="start" font-weight="bold" font-style="normal" fill="#1a1a1a" dominant-baseline="central"><tspan font-size="6" dy="0.6" stroke="#1a1a1a" stroke-width="0.25">+</tspan><tspan dy="-0.6"> C4R1</tspan></text>
<rect x="314.2" y="315.4" width="50.3" height="79.2" fill="#fff" stroke="#dcdcdc" stroke-width="1"/>
<line x1="318.7" y1="323.5" x2="333.1" y2="323.5" stroke="#ff0000" stroke-width="0.9"/>
<circle cx="325.8" cy="323.5" r="2.1" fill="#ff0000"/>
<line x1="318.7" y1="331.9" x2="333.1" y2="331.9" stroke="#00ff00" stroke-width="0.9"/>
<circle cx="325.8" cy="331.9" r="2.1" fill="#00ff00"/>
<line x1="318.7" y1="347.7" x2="333.1" y2="347.7" stroke="#0000ff" stroke-width="0.9"/>
<circle cx="325.8" cy="347.7" r="2.1" fill="#0000ff"/>
<line x1="318.7" y1="355.9" x2="333.1" y2="355.9" stroke="#ff00ff" stroke-width="0.9"/>
<circle cx="325.8" cy="355.9" r="2.1" fill="#ff00ff"/>
<line x1="318.7" y1="379" x2="333.1" y2="379" stroke="#333" stroke-width="0.9"/>
<circle cx="325.8" cy="379" r="2.1" fill="#000000"/>
<text x="336.4" y="323.5" font-size="6.6" text-anchor="start" font-weight="bold" font-style="normal" fill="#1a1a1a" dominant-baseline="central">Cells</text>
<text x="336.4" y="331.9" font-size="6.6" text-anchor="start" font-weight="bold" font-style="normal" fill="#1a1a1a" dominant-baseline="central">Cells</text>
<text x="336.4" y="339.2" font-size="6.6" text-anchor="start" font-weight="bold" font-style="normal" fill="#1a1a1a" dominant-baseline="central"><tspan font-size="6" dy="0.6" stroke="#1a1a1a" stroke-width="0.25">+</tspan><tspan dy="-0.6"> CCCP</tspan></text>
<text x="336.4" y="347.7" font-size="6.6" text-anchor="start" font-weight="bold" font-style="normal" fill="#1a1a1a" dominant-baseline="central">C4R1</text>
<text x="336.4" y="355.9" font-size="6.6" text-anchor="start" font-weight="bold" font-style="normal" fill="#1a1a1a" dominant-baseline="central">Cells</text>
<text x="336.4" y="363.5" font-size="6.6" text-anchor="start" font-weight="bold" font-style="normal" fill="#1a1a1a" dominant-baseline="central"><tspan font-size="6" dy="0.6" stroke="#1a1a1a" stroke-width="0.25">+</tspan><tspan dy="-0.6"> CCCP</tspan></text>
<text x="336.4" y="370.5" font-size="6.6" text-anchor="start" font-weight="bold" font-style="normal" fill="#1a1a1a" dominant-baseline="central"><tspan font-size="6" dy="0.6" stroke="#1a1a1a" stroke-width="0.25">+</tspan><tspan dy="-0.6"> C4R1</tspan></text>
<text x="336.4" y="379" font-size="6.6" text-anchor="start" font-weight="bold" font-style="normal" fill="#1a1a1a" dominant-baseline="central">Cells</text>
<text x="336.4" y="386.3" font-size="6.6" text-anchor="start" font-weight="bold" font-style="normal" fill="#1a1a1a" dominant-baseline="central"><tspan font-size="6" dy="0.6" stroke="#1a1a1a" stroke-width="0.25">+</tspan><tspan dy="-0.6"> C4R1</tspan></text>
<text x="13.6" y="19" font-size="12.5" text-anchor="middle" font-weight="bold" font-style="normal" fill="#000" dominant-baseline="central">A</text>
<text x="292.4" y="20" font-size="12.5" text-anchor="middle" font-weight="bold" font-style="normal" fill="#000" dominant-baseline="central">B</text>
<text x="15" y="325.6" font-size="12.5" text-anchor="middle" font-weight="bold" font-style="normal" fill="#000" dominant-baseline="central">C</text>
<text x="296.5" y="323.8" font-size="12.5" text-anchor="middle" font-weight="bold" font-style="normal" fill="#000" dominant-baseline="central">D</text>
<rect x="105.5" y="19" width="156.1" height="109.4" fill="#fff"/>
<line x1="105.5" y1="19" x2="105.5" y2="128.4" stroke="#666" stroke-width="0.9"/>
<line x1="105.5" y1="128.4" x2="261.6" y2="128.4" stroke="#666" stroke-width="0.9"/>
<line x1="103.9" y1="128.4" x2="105.5" y2="128.4" stroke="#555" stroke-width="0.7"/>
<text x="102.5" y="128.4" font-size="4.8" text-anchor="end" font-weight="normal" font-style="normal" fill="#555" dominant-baseline="central">0</text>
<line x1="103.9" y1="101.05" x2="105.5" y2="101.05" stroke="#555" stroke-width="0.7"/>
<text x="102.5" y="101.05" font-size="4.8" text-anchor="end" font-weight="normal" font-style="normal" fill="#555" dominant-baseline="central">200</text>
<line x1="103.9" y1="73.7" x2="105.5" y2="73.7" stroke="#555" stroke-width="0.7"/>
<text x="102.5" y="73.7" font-size="4.8" text-anchor="end" font-weight="normal" font-style="normal" fill="#555" dominant-baseline="central">400</text>
<line x1="103.9" y1="46.35" x2="105.5" y2="46.35" stroke="#555" stroke-width="0.7"/>
<text x="102.5" y="46.35" font-size="4.8" text-anchor="end" font-weight="normal" font-style="normal" fill="#555" dominant-baseline="central">600</text>
<line x1="103.9" y1="19" x2="105.5" y2="19" stroke="#555" stroke-width="0.7"/>
<text x="102.5" y="19" font-size="4.8" text-anchor="end" font-weight="normal" font-style="normal" fill="#555" dominant-baseline="central">800</text>
<line x1="105.5" y1="128.4" x2="105.5" y2="129.9" stroke="#555" stroke-width="0.7"/>
<text x="105.5" y="131.8" font-size="4.8" text-anchor="middle" font-weight="normal" font-style="normal" fill="#555" dominant-baseline="central">0.0</text>
<line x1="136.72" y1="128.4" x2="136.72" y2="129.9" stroke="#555" stroke-width="0.7"/>
<text x="136.72" y="131.8" font-size="4.8" text-anchor="middle" font-weight="normal" font-style="normal" fill="#555" dominant-baseline="central">0.2</text>
<line x1="167.94" y1="128.4" x2="167.94" y2="129.9" stroke="#555" stroke-width="0.7"/>
<text x="167.94" y="131.8" font-size="4.8" text-anchor="middle" font-weight="normal" font-style="normal" fill="#555" dominant-baseline="central">0.4</text>
<line x1="199.16" y1="128.4" x2="199.16" y2="129.9" stroke="#555" stroke-width="0.7"/>
<text x="199.16" y="131.8" font-size="4.8" text-anchor="middle" font-weight="normal" font-style="normal" fill="#555" dominant-baseline="central">0.6</text>
<line x1="230.38" y1="128.4" x2="230.38" y2="129.9" stroke="#555" stroke-width="0.7"/>
<text x="230.38" y="131.8" font-size="4.8" text-anchor="middle" font-weight="normal" font-style="normal" fill="#555" dominant-baseline="central">0.8</text>
<line x1="261.6" y1="128.4" x2="261.6" y2="129.9" stroke="#555" stroke-width="0.7"/>
<text x="261.6" y="131.8" font-size="4.8" text-anchor="middle" font-weight="normal" font-style="normal" fill="#555" dominant-baseline="central">1.0</text>
<text x="87.9" y="74.5" font-size="6.3" text-anchor="middle" font-weight="normal" font-style="normal" fill="#333" dominant-baseline="central" transform="rotate(-90 87.9 74.5)">Peaks</text>
<text x="187.3" y="140.3" font-size="6.5" text-anchor="middle" font-weight="normal" font-style="normal" fill="#111" dominant-baseline="central">Time, s</text>
<text x="138.9" y="7.6" font-size="8.9" text-anchor="middle" font-weight="bold" font-style="italic" fill="#111" dominant-baseline="central">B. subtilis</text>
<rect x="105.5" y="127.55" width="156.1" height="1.7" fill="#ff0000"/>
<path d="M105.5 128.4 L105.5 127.49 L106 127.52 L106.5 127.42 L107 127.54 L107.5 127.44 L108 127.48 L108.5 127.54 L109 127.45 L109.5 127.54 L110 127.46 L110.5 127.54 L111 127.53 L111.5 127.47 L112 127.38 L112.5 127.53 L113 127.51 L113.51 127.42 L114.01 127.36 L114.51 127.43 L115.01 127.47 L115.51 127.35 L116.01 127.54 L116.51 127.38 L117.01 127.49 L117.51 127.52 L118.01 127.53 L118.51 127.49 L119.01 127.39 L119.51 127.51 L120.01 127.43 L120.51 127.42 L121.01 127.48 L121.51 127.44 L122.01 127.54 L122.51 127.54 L123.01 127.51 L123.51 127.41 L124.01 127.46 L124.51 127.49 L125.01 127.43 L125.51 127.46 L126.01 127.49 L126.51 127.39 L127.01 127.41 L127.51 127.5 L128.01 127.44 L128.51 127.44 L129.02 127.37 L129.52 127.4 L130.02 127.49 L130.52 127.35 L131.02 127.53 L131.52 127.47 L132.02 127.4 L132.52 127.52 L133.02 127.45 L133.52 127.54 L134.02 127.42 L134.52 127.4 L135.02 127.44 L135.52 127.37 L136.02 127.49 L136.52 127.41 L137.02 127.43 L137.52 127.43 L138.02 127.46 L138.52 127.38 L139.02 127.36 L139.52 127.46 L140.02 127.42 L140.52 127.54 L141.02 127.41 L141.52 127.42 L142.02 127.35 L142.52 127.39 L143.02 127.49 L143.52 127.47 L144.02 127.42 L144.53 127.55 L145.03 127.46 L145.53 127.52 L146.03 127.53 L146.53 127.54 L147.03 127.4 L147.53 127.52 L148.03 127.5 L148.53 127.47 L149.03 127.38 L149.53 127.53 L150.03 127.46 L150.53 127.44 L151.03 127.37 L151.53 127.39 L152.03 127.38 L152.53 127.49 L153.03 127.47 L153.53 127.48 L154.03 127.37 L154.53 127.36 L155.03 127.52 L155.53 127.51 L156.03 127.5 L156.53 127.5 L157.03 127.45 L157.53 127.43 L158.03 127.5 L158.53 127.55 L159.03 127.47 L159.53 127.48 L160.03 127.44 L160.54 127.36 L161.04 127.41 L161.54 127.45 L162.04 127.43 L162.54 127.41 L163.04 127.54 L163.54 127.37 L164.04 127.39 L164.54 127.38 L165.04 127.39 L165.54 127.47 L166.04 127.47 L166.54 127.53 L167.04 127.42 L167.54 127.54 L168.04 127.54 L168.54 127.51 L169.04 127.52 L169.54 127.48 L170.04 127.54 L170.54 127.55 L171.04 127.52 L171.54 127.53 L172.04 127.48 L172.54 127.54 L173.04 127.38 L173.54 127.43 L174.04 127.52 L174.54 127.5 L175.04 127.48 L175.54 127.48 L176.05 127.53 L176.55 127.38 L177.05 127.35 L177.55 127.46 L178.05 127.45 L178.55 127.53 L179.05 127.53 L179.55 127.48 L180.05 127.5 L180.55 127.38 L181.05 127.52 L181.55 127.55 L182.05 127.36 L182.55 127.44 L183.05 127.52 L183.55 127.44 L184.05 127.54 L184.55 127.44 L185.05 127.35 L185.55 127.38 L186.05 127.41 L186.55 127.5 L187.05 127.48 L187.55 127.52 L188.05 127.4 L188.55 127.44 L189.05 127.39 L189.55 127.48 L190.05 127.51 L190.55 127.39 L191.05 127.35 L191.56 127.38 L192.06 127.39 L192.56 127.39 L193.06 127.4 L193.56 127.5 L194.06 127.45 L194.56 127.48 L195.06 127.54 L195.56 127.54 L196.06 127.49 L196.56 127.5 L197.06 127.41 L197.56 127.36 L198.06 127.46 L198.56 127.36 L199.06 127.35 L199.56 127.36 L200.06 127.48 L200.56 127.51 L201.06 127.5 L201.56 127.51 L202.06 127.51 L202.56 127.43 L203.06 127.37 L203.56 127.38 L204.06 127.45 L204.56 127.42 L205.06 127.39 L205.56 127.53 L206.06 127.42 L206.56 127.37 L207.07 127.39 L207.57 127.4 L208.07 127.45 L208.57 127.51 L209.07 127.39 L209.57 127.48 L210.07 127.39 L210.57 127.36 L211.07 127.47 L211.57 127.47 L212.07 127.36 L212.57 127.41 L213.07 127.52 L213.57 127.52 L214.07 127.52 L214.57 127.37 L215.07 127.39 L215.57 127.52 L216.07 127.38 L216.57 127.35 L217.07 127.42 L217.57 127.48 L218.07 127.44 L218.57 127.52 L219.07 127.55 L219.57 127.36 L220.07 127.42 L220.57 127.44 L221.07 127.36 L221.57 127.46 L222.07 127.38 L222.58 127.38 L223.08 127.51 L223.58 127.5 L224.08 127.49 L224.58 127.5 L225.08 127.43 L225.58 127.5 L226.08 127.47 L226.58 127.52 L227.08 127.37 L227.58 127.48 L228.08 127.46 L228.58 127.43 L229.08 127.37 L229.58 127.47 L230.08 127.37 L230.58 127.45 L231.08 127.44 L231.58 127.45 L232.08 127.55 L232.58 127.46 L233.08 127.51 L233.58 127.55 L234.08 127.39 L234.58 127.52 L235.08 127.46 L235.58 127.4 L236.08 127.44 L236.58 127.48 L237.08 127.45 L237.58 127.44 L238.08 127.39 L238.59 127.53 L239.09 127.44 L239.59 127.5 L240.09 127.49 L240.59 127.4 L241.09 127.45 L241.59 127.44 L242.09 127.4 L242.59 127.37 L243.09 127.46 L243.59 127.43 L244.09 127.45 L244.59 127.45 L245.09 127.41 L245.59 127.46 L246.09 127.44 L246.59 127.45 L247.09 127.36 L247.59 127.41 L248.09 127.37 L248.59 127.36 L249.09 127.5 L249.59 127.44 L250.09 127.36 L250.59 127.38 L251.09 127.52 L251.59 127.53 L252.09 127.46 L252.59 127.54 L253.09 127.5 L253.59 127.54 L254.1 127.42 L254.6 127.39 L255.1 127.37 L255.6 127.52 L256.1 127.41 L256.6 127.42 L257.1 127.52 L257.6 127.37 L258.1 127.36 L258.6 127.51 L259.1 127.36 L259.6 127.47 L260.1 127.45 L260.6 127.35 L261.1 127.38 L261.6 127.52 L261.6 128.4 Z" fill="#ff0000"/>
<rect x="105.5" y="124.75" width="156.1" height="1.9" fill="#00ff00"/>
<path d="M105.5 125.7 L105.5 124.62 L106 124.6 L106.5 124.65 L107 124.69 L107.5 124.65 L108 124.53 L108.5 124.74 L109 124.58 L109.5 124.62 L110 124.74 L110.5 124.65 L111 124.56 L111.5 124.6 L112 124.73 L112.5 124.45 L113 124.51 L113.51 124.46 L114.01 124.72 L114.51 124.67 L115.01 124.74 L115.51 124.52 L116.01 124.67 L116.51 124.71 L117.01 124.62 L117.51 124.48 L118.01 124.5 L118.51 124.67 L119.01 124.71 L119.51 124.47 L120.01 124.58 L120.51 124.54 L121.01 124.72 L121.51 124.73 L122.01 124.54 L122.51 124.62 L123.01 124.73 L123.51 124.47 L124.01 124.56 L124.51 124.51 L125.01 124.72 L125.51 124.49 L126.01 124.73 L126.51 124.49 L127.01 124.61 L127.51 124.65 L128.01 124.58 L128.51 124.47 L129.02 124.67 L129.52 124.71 L130.02 124.59 L130.52 124.68 L131.02 124.72 L131.52 124.7 L132.02 124.73 L132.52 124.69 L133.02 124.66 L133.52 124.66 L134.02 124.52 L134.52 124.66 L135.02 124.6 L135.52 124.7 L136.02 124.65 L136.52 124.74 L137.02 124.67 L137.52 124.75 L138.02 124.53 L138.52 124.58 L139.02 124.69 L139.52 124.61 L140.02 124.47 L140.52 124.72 L141.02 124.5 L141.52 124.62 L142.02 124.6 L142.52 124.5 L143.02 124.63 L143.52 124.6 L144.02 124.54 L144.53 124.46 L145.03 124.65 L145.53 124.5 L146.03 124.54 L146.53 124.56 L147.03 124.63 L147.53 124.65 L148.03 124.73 L148.53 124.71 L149.03 124.73 L149.53 124.53 L150.03 124.67 L150.53 124.7 L151.03 124.72 L151.53 124.5 L152.03 124.49 L152.53 124.55 L153.03 124.67 L153.53 124.68 L154.03 124.66 L154.53 124.61 L155.03 124.7 L155.53 124.62 L156.03 124.67 L156.53 124.46 L157.03 124.46 L157.53 124.59 L158.03 124.68 L158.53 124.46 L159.03 124.66 L159.53 124.64 L160.03 124.75 L160.54 124.64 L161.04 124.61 L161.54 124.6 L162.04 124.69 L162.54 124.6 L163.04 124.75 L163.54 124.67 L164.04 124.72 L164.54 124.63 L165.04 124.74 L165.54 124.74 L166.04 124.66 L166.54 124.68 L167.04 124.57 L167.54 124.59 L168.04 124.52 L168.54 124.55 L169.04 124.54 L169.54 124.49 L170.04 124.63 L170.54 124.65 L171.04 124.45 L171.54 124.71 L172.04 124.53 L172.54 124.56 L173.04 124.74 L173.54 124.5 L174.04 124.48 L174.54 124.56 L175.04 124.53 L175.54 124.51 L176.05 124.71 L176.55 124.59 L177.05 124.6 L177.55 124.5 L178.05 124.51 L178.55 124.5 L179.05 124.57 L179.55 124.48 L180.05 124.55 L180.55 124.54 L181.05 124.68 L181.55 124.74 L182.05 124.71 L182.55 124.64 L183.05 124.72 L183.55 124.5 L184.05 124.58 L184.55 124.56 L185.05 124.56 L185.55 124.55 L186.05 124.6 L186.55 124.75 L187.05 124.51 L187.55 124.53 L188.05 124.6 L188.55 124.59 L189.05 124.55 L189.55 124.73 L190.05 124.53 L190.55 124.67 L191.05 124.73 L191.56 124.67 L192.06 124.53 L192.56 124.69 L193.06 124.53 L193.56 124.46 L194.06 124.6 L194.56 124.64 L195.06 124.61 L195.56 124.54 L196.06 124.52 L196.56 124.56 L197.06 124.56 L197.56 124.73 L198.06 124.71 L198.56 124.67 L199.06 124.53 L199.56 124.66 L200.06 124.58 L200.56 124.75 L201.06 124.73 L201.56 124.67 L202.06 124.55 L202.56 124.54 L203.06 124.55 L203.56 124.66 L204.06 124.6 L204.56 124.61 L205.06 124.61 L205.56 124.71 L206.06 124.48 L206.56 124.69 L207.07 124.46 L207.57 124.47 L208.07 124.74 L208.57 124.61 L209.07 124.5 L209.57 124.46 L210.07 124.62 L210.57 124.67 L211.07 124.69 L211.57 124.47 L212.07 124.69 L212.57 124.58 L213.07 124.71 L213.57 124.59 L214.07 124.46 L214.57 124.71 L215.07 124.5 L215.57 124.6 L216.07 124.48 L216.57 124.54 L217.07 124.68 L217.57 124.48 L218.07 124.6 L218.57 124.74 L219.07 124.75 L219.57 124.6 L220.07 124.61 L220.57 124.66 L221.07 124.71 L221.57 124.65 L222.07 124.66 L222.58 124.5 L223.08 124.75 L223.58 124.52 L224.08 124.5 L224.58 124.71 L225.08 124.47 L225.58 124.54 L226.08 124.48 L226.58 124.66 L227.08 124.64 L227.58 124.63 L228.08 124.45 L228.58 124.57 L229.08 124.64 L229.58 124.62 L230.08 124.67 L230.58 124.74 L231.08 124.72 L231.58 124.5 L232.08 124.66 L232.58 124.47 L233.08 124.68 L233.58 124.67 L234.08 124.6 L234.58 124.69 L235.08 124.64 L235.58 124.46 L236.08 124.48 L236.58 124.51 L237.08 124.56 L237.58 124.48 L238.08 124.47 L238.59 124.59 L239.09 124.53 L239.59 124.74 L240.09 124.53 L240.59 124.61 L241.09 124.52 L241.59 124.56 L242.09 124.66 L242.59 124.74 L243.09 124.47 L243.59 124.71 L244.09 124.61 L244.59 124.65 L245.09 124.66 L245.59 124.53 L246.09 124.46 L246.59 124.67 L247.09 124.55 L247.59 124.66 L248.09 124.58 L248.59 124.63 L249.09 124.7 L249.59 124.7 L250.09 124.69 L250.59 124.48 L251.09 124.6 L251.59 124.68 L252.09 124.48 L252.59 124.45 L253.09 124.62 L253.59 124.71 L254.1 124.69 L254.6 124.72 L255.1 124.65 L255.6 124.72 L256.1 124.68 L256.6 124.67 L257.1 124.58 L257.6 124.48 L258.1 124.53 L258.6 124.63 L259.1 124.63 L259.6 124.59 L260.1 124.64 L260.6 124.65 L261.1 124.73 L261.6 124.67 L261.6 125.7 Z" fill="#00ff00"/>
<rect x="105.5" y="121.85" width="156.1" height="1.9" fill="#ff00ff"/>
<path d="M105.5 122.8 L105.5 120.98 L106 121.74 L106.5 121.4 L107 121.28 L107.5 121.07 L108 121.66 L108.5 121.61 L109 121.63 L109.5 121.49 L110 121.45 L110.5 120.99 L111 121.09 L111.5 121.06 L112 121.83 L112.5 121.82 L113 121.21 L113.51 121.04 L114.01 121.42 L114.51 121.32 L115.01 121.85 L115.51 121.5 L116.01 121.02 L116.51 121.11 L117.01 121.08 L117.51 120.97 L118.01 121.63 L118.51 121.75 L119.01 121.71 L119.51 121.38 L120.01 121.24 L120.51 121 L121.01 121.2 L121.51 121.27 L122.01 121.16 L122.51 121.44 L123.01 121.35 L123.51 121.81 L124.01 121.15 L124.51 121.64 L125.01 121.02 L125.51 121.27 L126.01 121.58 L126.51 121.73 L127.01 121.62 L127.51 121.28 L128.01 121.22 L128.51 121.75 L129.02 121.79 L129.52 121.38 L130.02 121.33 L130.52 121.5 L131.02 121.65 L131.52 121.31 L132.02 121.84 L132.52 121.58 L133.02 121.44 L133.52 120.99 L134.02 121.27 L134.52 121.05 L135.02 121.42 L135.52 121.64 L136.02 121.63 L136.52 120.99 L137.02 121.22 L137.52 121.57 L138.02 121.83 L138.52 121.4 L139.02 121.24 L139.52 121.47 L140.02 121.62 L140.52 121.25 L141.02 121.02 L141.52 121.65 L142.02 121.82 L142.52 121.55 L143.02 121.47 L143.52 121.24 L144.02 121.67 L144.53 121.13 L145.03 121.18 L145.53 121.4 L146.03 121.67 L146.53 120.98 L147.03 121.57 L147.53 121.11 L148.03 121.64 L148.53 121.65 L149.03 121.17 L149.53 121.58 L150.03 120.99 L150.53 121.4 L151.03 121.68 L151.53 121.65 L152.03 121.47 L152.53 121.25 L153.03 121 L153.53 121.72 L154.03 121.5 L154.53 121.66 L155.03 120.97 L155.53 121.72 L156.03 121.8 L156.53 121.8 L157.03 121.5 L157.53 121.04 L158.03 121.05 L158.53 121.19 L159.03 120.95 L159.53 121.01 L160.03 121.55 L160.54 121.68 L161.04 121.01 L161.54 121.18 L162.04 121.82 L162.54 121.25 L163.04 121.51 L163.54 121.51 L164.04 121.55 L164.54 121.7 L165.04 121.85 L165.54 121.6 L166.04 121.53 L166.54 120.99 L167.04 121.74 L167.54 120.98 L168.04 121.66 L168.54 121.53 L169.04 121.11 L169.54 121.11 L170.04 121.46 L170.54 121.81 L171.04 121.42 L171.54 121.51 L172.04 121.02 L172.54 121.68 L173.04 121.52 L173.54 121.04 L174.04 121.82 L174.54 121.48 L175.04 121.12 L175.54 121.16 L176.05 121.81 L176.55 121.82 L177.05 121.79 L177.55 121.02 L178.05 121.62 L178.55 121.18 L179.05 121.04 L179.55 121.54 L180.05 121.6 L180.55 120.99 L181.05 121.29 L181.55 121.61 L182.05 121.21 L182.55 121.57 L183.05 121.6 L183.55 121.85 L184.05 121.17 L184.55 121.03 L185.05 121.28 L185.55 121 L186.05 121.83 L186.55 121.64 L187.05 121.42 L187.55 120.99 L188.05 120.99 L188.55 121.5 L189.05 121.62 L189.55 121.46 L190.05 121.41 L190.55 121.01 L191.05 121.69 L191.56 121.13 L192.06 121.19 L192.56 121.11 L193.06 121.15 L193.56 121.3 L194.06 121.55 L194.56 121.56 L195.06 121.52 L195.56 121.15 L196.06 121.78 L196.56 121.67 L197.06 121.17 L197.56 121.63 L198.06 121.79 L198.56 121.82 L199.06 121.35 L199.56 121.56 L200.06 120.97 L200.56 121.05 L201.06 120.96 L201.56 121.61 L202.06 121.77 L202.56 121.76 L203.06 121.4 L203.56 121.21 L204.06 121.45 L204.56 121.64 L205.06 121.47 L205.56 121.29 L206.06 121.24 L206.56 121.18 L207.07 121.09 L207.57 121.25 L208.07 121.74 L208.57 121.09 L209.07 121.59 L209.57 121.34 L210.07 121.51 L210.57 121.19 L211.07 121.67 L211.57 121.63 L212.07 121.63 L212.57 121.71 L213.07 121.05 L213.57 121.33 L214.07 121.56 L214.57 121.49 L215.07 120.96 L215.57 121.39 L216.07 121.64 L216.57 121.12 L217.07 121.26 L217.57 120.96 L218.07 121.76 L218.57 121.42 L219.07 121.11 L219.57 121.09 L220.07 121.03 L220.57 121.81 L221.07 121.59 L221.57 121.74 L222.07 121.68 L222.58 120.97 L223.08 121.33 L223.58 121.01 L224.08 121.51 L224.58 121.07 L225.08 121.45 L225.58 121.62 L226.08 121.15 L226.58 121 L227.08 121.75 L227.58 121.31 L228.08 121.29 L228.58 121.65 L229.08 121.52 L229.58 121.72 L230.08 121.67 L230.58 121.62 L231.08 121.31 L231.58 121.26 L232.08 121.67 L232.58 121.84 L233.08 121.56 L233.58 121.24 L234.08 121.68 L234.58 121.57 L235.08 121.67 L235.58 121.13 L236.08 121.36 L236.58 121.79 L237.08 121.76 L237.58 121.49 L238.08 121.35 L238.59 121.27 L239.09 121.77 L239.59 121.7 L240.09 121.22 L240.59 121.48 L241.09 121.6 L241.59 121.57 L242.09 120.99 L242.59 121.57 L243.09 121.34 L243.59 121.53 L244.09 121.48 L244.59 121.07 L245.09 120.95 L245.59 121.52 L246.09 121.67 L246.59 121.19 L247.09 121.67 L247.59 121.84 L248.09 121.04 L248.59 121.47 L249.09 121.11 L249.59 121.48 L250.09 121.06 L250.59 121.44 L251.09 121.7 L251.59 121.84 L252.09 121.35 L252.59 121.27 L253.09 121.03 L253.59 121.77 L254.1 121.29 L254.6 121.52 L255.1 121.4 L255.6 121.72 L256.1 121.6 L256.6 121.38 L257.1 121.02 L257.6 121.75 L258.1 121.41 L258.6 121.13 L259.1 120.98 L259.6 121.67 L260.1 121.74 L260.6 121 L261.1 120.97 L261.6 121.42 L261.6 122.8 Z" fill="#ff00ff"/>
<path d="M124.3 122.8 V103.5 M144.8 122.8 V112 M149.8 122.8 V114.4 M152.5 122.8 V109 M165.7 122.8 V109.7 M168 122.8 V113.6 M138.3 122.8 V115 M180.4 122.8 V105 M180.8 122.8 V105 M198.5 122.8 V107.9 M193.9 122.8 V116 M210.1 122.8 V116.5 M213.2 122.8 V117 M225.3 122.8 V115 M232.5 122.8 V113.6 M241.8 122.8 V109 M251.4 122.8 V105 M254.2 122.8 V110.5 M260.1 122.8 V112" fill="none" stroke="#ff00ff" stroke-width="0.8"/>
<path d="M113.83 122.8 V117.88 M166.05 122.8 V118.15 M202.34 122.8 V119.05 M130.52 122.8 V119.42 M140.17 122.8 V121.52 M237.62 122.8 V119 M134.06 122.8 V121.8 M167.9 122.8 V121.16 M165.38 122.8 V121.84 M144.07 122.8 V119.95 M245.57 122.8 V121.85 M193.28 122.8 V119.68 M111.45 122.8 V118.91 M123.88 122.8 V120.77 M191.36 122.8 V120.62 M153.3 122.8 V121.48 M196.45 122.8 V121.46 M208.35 122.8 V121.4 M173.93 122.8 V121.85 M202.11 122.8 V121.26 M142.22 122.8 V119.62 M227.25 122.8 V121.37 M133.53 122.8 V121.32 M122.21 122.8 V121.84 M172.72 122.8 V121.85 M174.49 122.8 V121.19 M111.86 122.8 V120.56 M118.34 122.8 V119.88 M226.89 122.8 V121.18 M113.97 122.8 V121.21 M164.48 122.8 V117.55 M126.76 122.8 V118.7 M260.99 122.8 V119.89 M232.72 122.8 V121.81 M258.75 122.8 V121.25 M254.83 122.8 V118.01 M131.27 122.8 V119.4 M250.76 122.8 V121.85 M160.28 122.8 V119.69 M130.28 122.8 V118.25 M148.43 122.8 V119.14 M127.91 122.8 V121.22 M249.1 122.8 V121.8 M146.53 122.8 V121.2 M155.31 122.8 V121.85 M133.93 122.8 V121.83 M251.67 122.8 V120.28 M245.27 122.8 V121.83 M228.02 122.8 V121.84 M188.35 122.8 V120.56 M161.66 122.8 V118.52 M192.16 122.8 V120.87 M243.26 122.8 V121.84 M260.5 122.8 V120.6 M167.04 122.8 V119.31 M146.83 122.8 V116.99 M195.63 122.8 V121.62 M224.86 122.8 V121.42 M133.09 122.8 V119.79 M113.04 122.8 V119.09" fill="none" stroke="#ff00ff" stroke-width="0.8"/>
<rect x="105.5" y="99.8" width="156.1" height="2" fill="#0000ff"/>
<path d="M105.5 100.8 L105.5 99.6 L106 99.29 L106.5 99.01 L107 99.33 L107.5 99.27 L108 99.55 L108.5 99.8 L109 99.77 L109.5 99.68 L110 99.31 L110.5 99.45 L111 99.39 L111.5 99.08 L112 99.69 L112.5 99.62 L113 99.28 L113.51 99.78 L114.01 99.8 L114.51 99.52 L115.01 99.71 L115.51 99.51 L116.01 99.62 L116.51 99.33 L117.01 99.33 L117.51 99.64 L118.01 99.3 L118.51 99.42 L119.01 99.69 L119.51 99.05 L120.01 99.61 L120.51 99.68 L121.01 99.72 L121.51 99.29 L122.01 99.1 L122.51 99.17 L123.01 99.48 L123.51 99.59 L124.01 99.79 L124.51 99.28 L125.01 99.35 L125.51 99.52 L126.01 99.28 L126.51 99.44 L127.01 99.05 L127.51 99.21 L128.01 99.6 L128.51 99.08 L129.02 99.76 L129.52 99.37 L130.02 99.48 L130.52 99.61 L131.02 99.75 L131.52 99.18 L132.02 99.79 L132.52 99.36 L133.02 99.05 L133.52 99.69 L134.02 99.64 L134.52 99.31 L135.02 99.39 L135.52 99.29 L136.02 99.15 L136.52 99.66 L137.02 99.55 L137.52 99.56 L138.02 99.76 L138.52 99.09 L139.02 99.17 L139.52 99.23 L140.02 99.79 L140.52 99.12 L141.02 99.2 L141.52 99.43 L142.02 99.21 L142.52 99.44 L143.02 99.62 L143.52 99.72 L144.02 99.61 L144.53 99.77 L145.03 99.53 L145.53 99.2 L146.03 99.24 L146.53 99.12 L147.03 99.23 L147.53 99.59 L148.03 99.36 L148.53 99.45 L149.03 99.17 L149.53 99.38 L150.03 99.59 L150.53 99.29 L151.03 99.03 L151.53 99.63 L152.03 99.1 L152.53 99.79 L153.03 99.59 L153.53 99.61 L154.03 99.2 L154.53 99.04 L155.03 99.2 L155.53 99.54 L156.03 99.1 L156.53 99.54 L157.03 99.61 L157.53 99.07 L158.03 99.3 L158.53 99.25 L159.03 99.27 L159.53 99.02 L160.03 99.42 L160.54 99.13 L161.04 99.24 L161.54 99.11 L162.04 99.45 L162.54 99.22 L163.04 99.34 L163.54 99.55 L164.04 99.63 L164.54 99.3 L165.04 99.74 L165.54 99.07 L166.04 99.68 L166.54 99.78 L167.04 99.71 L167.54 99.06 L168.04 99.52 L168.54 99.69 L169.04 99.78 L169.54 99.77 L170.04 99.25 L170.54 99.29 L171.04 99.24 L171.54 99.21 L172.04 99.75 L172.54 99.33 L173.04 99.51 L173.54 99.15 L174.04 99.14 L174.54 99.09 L175.04 99.75 L175.54 99.11 L176.05 99.07 L176.55 99.04 L177.05 99.71 L177.55 99.64 L178.05 99.71 L178.55 99.77 L179.05 99.12 L179.55 99.15 L180.05 99.29 L180.55 99.14 L181.05 99.29 L181.55 99.57 L182.05 99.72 L182.55 99.72 L183.05 99.19 L183.55 99.64 L184.05 99.54 L184.55 99.46 L185.05 99.78 L185.55 99.59 L186.05 99.57 L186.55 99.23 L187.05 99.51 L187.55 99.54 L188.05 99.03 L188.55 99.4 L189.05 99.12 L189.55 99.31 L190.05 99.78 L190.55 99.47 L191.05 99.45 L191.56 99.18 L192.06 99.52 L192.56 99.24 L193.06 99.37 L193.56 99.63 L194.06 99.11 L194.56 99.73 L195.06 99.14 L195.56 99.66 L196.06 99.8 L196.56 99.64 L197.06 99.19 L197.56 99.02 L198.06 99.8 L198.56 99.41 L199.06 99.41 L199.56 99.16 L200.06 99.65 L200.56 99.4 L201.06 99.52 L201.56 99.13 L202.06 99.59 L202.56 99.04 L203.06 99.57 L203.56 99.63 L204.06 99.24 L204.56 99.4 L205.06 99.71 L205.56 99.29 L206.06 99.74 L206.56 99.17 L207.07 99.24 L207.57 99.17 L208.07 99.3 L208.57 99.52 L209.07 99.48 L209.57 99.48 L210.07 99.09 L210.57 99.73 L211.07 99.09 L211.57 99.78 L212.07 99.64 L212.57 99.59 L213.07 99.08 L213.57 99.4 L214.07 99.5 L214.57 99.09 L215.07 99.61 L215.57 99.43 L216.07 99.37 L216.57 99.2 L217.07 99.2 L217.57 99.28 L218.07 99.52 L218.57 99.54 L219.07 99.68 L219.57 99.13 L220.07 99.27 L220.57 99.21 L221.07 99.66 L221.57 99.45 L222.07 99.18 L222.58 99.34 L223.08 99.7 L223.58 99.43 L224.08 99.09 L224.58 99.61 L225.08 99.65 L225.58 99.56 L226.08 99.24 L226.58 99.13 L227.08 99.68 L227.58 99.68 L228.08 99.6 L228.58 99.54 L229.08 99.38 L229.58 99.67 L230.08 99.54 L230.58 99.65 L231.08 99.02 L231.58 99.22 L232.08 99.72 L232.58 99.03 L233.08 99.72 L233.58 99.49 L234.08 99.01 L234.58 99.16 L235.08 99.21 L235.58 99.45 L236.08 99.64 L236.58 99.29 L237.08 99.71 L237.58 99.63 L238.08 99.49 L238.59 99.77 L239.09 99.48 L239.59 99.17 L240.09 99.25 L240.59 99.4 L241.09 99.29 L241.59 99.43 L242.09 99.69 L242.59 99.32 L243.09 99.48 L243.59 99.21 L244.09 99.07 L244.59 99.46 L245.09 99.34 L245.59 99.2 L246.09 99.46 L246.59 99.62 L247.09 99.22 L247.59 99.1 L248.09 99.18 L248.59 99.24 L249.09 99.12 L249.59 99.26 L250.09 99.29 L250.59 99.44 L251.09 99.55 L251.59 99.3 L252.09 99.72 L252.59 99.46 L253.09 99.17 L253.59 99.23 L254.1 99.3 L254.6 99.6 L255.1 99.46 L255.6 99.44 L256.1 99.3 L256.6 99.47 L257.1 99.26 L257.6 99.06 L258.1 99.65 L258.6 99.28 L259.1 99.18 L259.6 99.49 L260.1 99.41 L260.6 99.02 L261.1 99.77 L261.6 99.37 L261.6 100.8 Z" fill="#0000ff"/>
<path d="M130.4 100.8 V92 M162.6 100.8 V92.7 M234.1 100.8 V87.8 M231.8 100.8 V94.3 M243.1 100.8 V94.3 M246.2 100.8 V95 M249.9 100.8 V95.5 M253.4 100.8 V88.9 M261.1 100.8 V94 M209.4 100.8 V96 M219.9 100.8 V96" fill="none" stroke="#0000ff" stroke-width="0.8"/>
<path d="M130.61 100.8 V98.37 M252.33 100.8 V99.38 M121.28 100.8 V99.23 M189.96 100.8 V98.69 M185.45 100.8 V99.02 M234.9 100.8 V99.37 M169.56 100.8 V97.24 M138.29 100.8 V98.84 M166.77 100.8 V98.47 M124.61 100.8 V96.94 M160.99 100.8 V99.8 M148.33 100.8 V99.61 M107.58 100.8 V99.58 M171.15 100.8 V98.78 M160.47 100.8 V99.74 M140.53 100.8 V98.58 M252.22 100.8 V99.36 M139.67 100.8 V98.26 M166.69 100.8 V99.77 M125.68 100.8 V98.39" fill="none" stroke="#0000ff" stroke-width="0.8"/>
<rect x="105.5" y="84.1" width="156.1" height="2.6" fill="#000"/>
<path d="M105.5 85.4 L105.5 82.89 L106 83.15 L106.5 83.4 L107 83.26 L107.5 83.76 L108 82.65 L108.5 83.57 L109 83.14 L109.5 82.87 L110 82.88 L110.5 83.4 L111 83.66 L111.5 83.28 L112 83.91 L112.5 82.85 L113 83.57 L113.51 82.82 L114.01 83.7 L114.51 83.54 L115.01 83.72 L115.51 83.46 L116.01 83.82 L116.51 84.1 L117.01 83.02 L117.51 83.68 L118.01 83.73 L118.51 83.65 L119.01 83.38 L119.51 83.46 L120.01 83.14 L120.51 83.11 L121.01 83.56 L121.51 82.71 L122.01 82.82 L122.51 84.01 L123.01 82.86 L123.51 82.74 L124.01 82.92 L124.51 83.89 L125.01 82.85 L125.51 83.15 L126.01 84.08 L126.51 84.08 L127.01 82.67 L127.51 83.12 L128.01 83.72 L128.51 83.95 L129.02 83.89 L129.52 83.75 L130.02 82.94 L130.52 83.58 L131.02 83.87 L131.52 82.74 L132.02 82.91 L132.52 83.85 L133.02 82.76 L133.52 83.19 L134.02 82.93 L134.52 83.1 L135.02 82.76 L135.52 82.92 L136.02 82.84 L136.52 83.8 L137.02 83.06 L137.52 83.3 L138.02 82.99 L138.52 83.44 L139.02 82.78 L139.52 83.27 L140.02 83.7 L140.52 83.75 L141.02 83.89 L141.52 83.36 L142.02 84.01 L142.52 83.4 L143.02 83.88 L143.52 83.36 L144.02 83.35 L144.53 83.29 L145.03 82.81 L145.53 84.09 L146.03 82.84 L146.53 83.4 L147.03 83.26 L147.53 83.1 L148.03 82.84 L148.53 83.54 L149.03 83.47 L149.53 82.66 L150.03 83.99 L150.53 83.14 L151.03 83.15 L151.53 84.06 L152.03 83.19 L152.53 83.08 L153.03 82.7 L153.53 83.6 L154.03 82.63 L154.53 83.33 L155.03 83.37 L155.53 82.75 L156.03 84.05 L156.53 83.02 L157.03 83.16 L157.53 83.59 L158.03 82.81 L158.53 83.55 L159.03 83.39 L159.53 83.31 L160.03 82.94 L160.54 83.78 L161.04 83.45 L161.54 83.47 L162.04 83.27 L162.54 82.86 L163.04 83.66 L163.54 82.86 L164.04 83.49 L164.54 83.34 L165.04 83.69 L165.54 83.34 L166.04 82.64 L166.54 83.12 L167.04 82.91 L167.54 83.6 L168.04 83.62 L168.54 83.65 L169.04 83.22 L169.54 83.15 L170.04 82.92 L170.54 84.04 L171.04 83.02 L171.54 82.77 L172.04 83.28 L172.54 84.03 L173.04 83.65 L173.54 84.09 L174.04 83.82 L174.54 82.72 L175.04 83.19 L175.54 83.11 L176.05 82.92 L176.55 82.74 L177.05 83.18 L177.55 83.17 L178.05 83.16 L178.55 83.06 L179.05 83.21 L179.55 83.08 L180.05 83.78 L180.55 83.1 L181.05 83.41 L181.55 82.96 L182.05 83.95 L182.55 83.83 L183.05 84.04 L183.55 82.94 L184.05 82.73 L184.55 83.12 L185.05 83.55 L185.55 82.87 L186.05 82.92 L186.55 83.26 L187.05 83.71 L187.55 83.65 L188.05 83.47 L188.55 83.62 L189.05 83.45 L189.55 83.14 L190.05 82.7 L190.55 84.02 L191.05 83.25 L191.56 84.04 L192.06 83.92 L192.56 82.88 L193.06 83.24 L193.56 82.72 L194.06 83.43 L194.56 84.08 L195.06 83.52 L195.56 83.21 L196.06 82.69 L196.56 82.63 L197.06 83.39 L197.56 83.48 L198.06 83.95 L198.56 83.13 L199.06 83.78 L199.56 83.87 L200.06 84.08 L200.56 84.09 L201.06 83.07 L201.56 83.92 L202.06 82.65 L202.56 83.97 L203.06 82.8 L203.56 83.91 L204.06 84.07 L204.56 83.02 L205.06 83.74 L205.56 83 L206.06 83.82 L206.56 84.02 L207.07 82.94 L207.57 83.03 L208.07 82.82 L208.57 83.01 L209.07 83.97 L209.57 83.16 L210.07 83.04 L210.57 83.41 L211.07 82.7 L211.57 83.72 L212.07 82.65 L212.57 83.02 L213.07 84.08 L213.57 84.08 L214.07 83.12 L214.57 82.87 L215.07 83.98 L215.57 83.63 L216.07 83.01 L216.57 83.85 L217.07 82.81 L217.57 83.37 L218.07 84.01 L218.57 83.55 L219.07 83.24 L219.57 83.44 L220.07 83.08 L220.57 83.88 L221.07 82.9 L221.57 83.56 L222.07 83.13 L222.58 83.16 L223.08 83.47 L223.58 83.52 L224.08 82.92 L224.58 82.68 L225.08 82.92 L225.58 83.25 L226.08 83.66 L226.58 84.01 L227.08 82.64 L227.58 83.05 L228.08 82.86 L228.58 83.6 L229.08 83.19 L229.58 82.63 L230.08 82.85 L230.58 83.2 L231.08 83.64 L231.58 83.46 L232.08 82.77 L232.58 83.53 L233.08 83.07 L233.58 83.2 L234.08 82.76 L234.58 82.89 L235.08 83.68 L235.58 84.1 L236.08 83.71 L236.58 83.47 L237.08 83.22 L237.58 82.88 L238.08 82.77 L238.59 84.04 L239.09 82.85 L239.59 82.88 L240.09 82.8 L240.59 83.24 L241.09 83.69 L241.59 82.82 L242.09 82.89 L242.59 83.07 L243.09 82.73 L243.59 83.58 L244.09 83.97 L244.59 83.27 L245.09 82.9 L245.59 83.8 L246.09 82.97 L246.59 82.7 L247.09 83.75 L247.59 83.19 L248.09 83.08 L248.59 83.4 L249.09 83.79 L249.59 83.72 L250.09 82.97 L250.59 82.91 L251.09 83.41 L251.59 83.97 L252.09 82.89 L252.59 82.94 L253.09 83.75 L253.59 83.23 L254.1 82.75 L254.6 82.77 L255.1 83.32 L255.6 83.39 L256.1 83.22 L256.6 83.82 L257.1 83.81 L257.6 83.83 L258.1 83.05 L258.6 83.56 L259.1 83.25 L259.6 83.5 L260.1 83.32 L260.6 83.88 L261.1 84.03 L261.6 82.6 L261.6 85.4 Z" fill="#000"/>
<path d="M110 85.4 V37 M115.8 85.4 V53.3 M119.3 85.4 V68 M122.1 85.4 V36.3 M124.4 85.4 V37 M126.6 85.4 V62.5 M131.7 85.4 V40 M134 85.4 V48.6 M140.5 85.4 V37.8 M146 85.4 V47.9 M148.7 85.4 V64 M154 85.4 V65 M160.3 85.4 V40 M162.1 85.4 V43.2 M168.5 85.4 V44 M181.9 85.4 V51.7 M182.2 85.4 V51.7 M186.5 85.4 V54 M188.5 85.4 V69.5 M191.6 85.4 V48.3 M199.3 85.4 V57 M205.5 85.4 V72.6 M209.7 85.4 V44 M215.1 85.4 V42.1 M219.1 85.4 V53.3 M221.4 85.4 V63.3 M227.1 85.4 V70.3 M231.8 85.4 V70.3 M234.9 85.4 V62.5 M240 85.4 V68 M243.4 85.4 V64 M248 85.4 V71.8 M251.9 85.4 V73.4 M255 85.4 V75.7 M259.1 85.4 V49.4" fill="none" stroke="#222" stroke-width="0.6"/>
<path d="M110.3 85.4 V75.83 M122.4 85.4 V64.84 M124.7 85.4 V66.83 M126.9 85.4 V81.62 M140.8 85.4 V66.11 M146.3 85.4 V66.63 M149 85.4 V73.08 M168.8 85.4 V78.48 M182.2 85.4 V77.6 M182.5 85.4 V79.57 M191.9 85.4 V64.02 M205.8 85.4 V80.04 M210 85.4 V76.96 M219.4 85.4 V72.43 M235.2 85.4 V77.34 M240.3 85.4 V75.23 M248.3 85.4 V83.12 M252.2 85.4 V81.7" fill="none" stroke="#000" stroke-width="0.9"/>
<path d="M236.19 85.4 V84.1 M228.25 85.4 V80.17 M206.45 85.4 V73.57 M114.21 85.4 V84.07 M223.35 85.4 V74.98 M211.16 85.4 V83.81 M197.83 85.4 V79.31 M121.96 85.4 V83.73 M145.62 85.4 V84.08 M180.63 85.4 V84.05 M142.72 85.4 V84.07 M211.28 85.4 V84.1 M217.46 85.4 V84.02 M111.12 85.4 V75.32 M139.93 85.4 V75.14 M240.8 85.4 V76.38 M127.32 85.4 V83.12 M120.64 85.4 V75.29 M236.98 85.4 V81.37 M176.11 85.4 V83.67 M233.98 85.4 V82.9 M203.56 85.4 V84.07 M140.1 85.4 V84.1 M216.91 85.4 V82.24 M128.09 85.4 V76.84 M147.08 85.4 V83.33 M129.8 85.4 V83.88 M236.56 85.4 V83.69 M131.69 85.4 V82.8 M155.15 85.4 V76 M123.32 85.4 V73.79 M114.37 85.4 V76.21 M209.82 85.4 V84 M180.03 85.4 V83.84 M145.74 85.4 V84.01 M162.36 85.4 V73.39 M261.3 85.4 V75.39 M120.73 85.4 V83.83 M245.4 85.4 V84.1 M218.9 85.4 V83.82 M258.26 85.4 V84.1 M231.48 85.4 V83.66 M127.38 85.4 V84.1 M235.41 85.4 V82.49 M134.51 85.4 V83.19 M247.86 85.4 V83.99 M194.69 85.4 V84.07 M133.62 85.4 V79.07 M216.58 85.4 V84.02 M117.87 85.4 V84.09 M200.5 85.4 V82.76 M148.25 85.4 V84 M201.1 85.4 V80.2 M232.19 85.4 V81.92 M137.08 85.4 V84.1 M219.88 85.4 V83.35 M218.15 85.4 V84.1 M232.04 85.4 V83.69 M236.92 85.4 V76.99 M182.46 85.4 V84.1 M247.58 85.4 V82.91 M241.62 85.4 V83.89 M134.54 85.4 V77.77 M162.8 85.4 V84.05 M163.44 85.4 V81.78 M106.22 85.4 V82.55 M175.08 85.4 V82.59 M124.35 85.4 V80.09 M232.96 85.4 V76.97 M155.6 85.4 V80.14 M165.03 85.4 V79.43 M115.05 85.4 V76.79 M254.43 85.4 V82.77 M185.63 85.4 V82.46 M189.38 85.4 V84.1 M256.52 85.4 V83.98 M133.97 85.4 V84.09 M144.6 85.4 V78.1 M110.19 85.4 V84.09 M214.61 85.4 V84.02 M108.26 85.4 V81.73 M195.49 85.4 V82.53 M215.18 85.4 V84.09 M241.23 85.4 V80.04 M112.55 85.4 V84.08 M182.55 85.4 V82.72 M149.15 85.4 V84.08 M168.82 85.4 V84.07 M197.88 85.4 V77.08 M128.48 85.4 V82.03 M222.04 85.4 V84.05 M234.44 85.4 V75.03 M166.18 85.4 V83.28 M236.58 85.4 V82.5 M167.26 85.4 V74.93 M226.78 85.4 V83.67 M143.02 85.4 V83.69 M173.49 85.4 V73.71 M231.06 85.4 V75.73 M232.73 85.4 V77.4 M113.86 85.4 V82.58 M255.02 85.4 V75.13 M144.41 85.4 V83.27 M204.26 85.4 V83.57 M188.36 85.4 V84.1 M173.1 85.4 V82.69 M108.75 85.4 V84.07 M256.87 85.4 V78.95 M251.76 85.4 V81.31 M231.83 85.4 V76.49" fill="none" stroke="#000" stroke-width="0.8"/>
<path d="M243.59 85.4 V78.27 M205.65 85.4 V75.35 M211.4 85.4 V75.25 M190.15 85.4 V67.05 M202.48 85.4 V75.54 M186.72 85.4 V73.24 M253.93 85.4 V75.08 M153.17 85.4 V70.54 M124.29 85.4 V71.21 M254.74 85.4 V72.23 M147.4 85.4 V72.82 M188.83 85.4 V76.83 M124.84 85.4 V77.04 M151.33 85.4 V73.58" fill="none" stroke="#222" stroke-width="0.6"/>
<rect x="382.5" y="17.3" width="157" height="109.4" fill="#fff"/>
<line x1="382.5" y1="17.3" x2="382.5" y2="126.7" stroke="#666" stroke-width="0.9"/>
<line x1="382.5" y1="126.7" x2="539.5" y2="126.7" stroke="#666" stroke-width="0.9"/>
<line x1="380.9" y1="126.7" x2="382.5" y2="126.7" stroke="#555" stroke-width="0.7"/>
<text x="379.5" y="126.7" font-size="4.8" text-anchor="end" font-weight="normal" font-style="normal" fill="#555" dominant-baseline="central">0</text>
<line x1="380.9" y1="102.25" x2="382.5" y2="102.25" stroke="#555" stroke-width="0.7"/>
<text x="379.5" y="102.25" font-size="4.8" text-anchor="end" font-weight="normal" font-style="normal" fill="#555" dominant-baseline="central">200</text>
<line x1="380.9" y1="77.8" x2="382.5" y2="77.8" stroke="#555" stroke-width="0.7"/>
<text x="379.5" y="77.8" font-size="4.8" text-anchor="end" font-weight="normal" font-style="normal" fill="#555" dominant-baseline="central">400</text>
<line x1="380.9" y1="53.35" x2="382.5" y2="53.35" stroke="#555" stroke-width="0.7"/>
<text x="379.5" y="53.35" font-size="4.8" text-anchor="end" font-weight="normal" font-style="normal" fill="#555" dominant-baseline="central">600</text>
<line x1="380.9" y1="28.9" x2="382.5" y2="28.9" stroke="#555" stroke-width="0.7"/>
<text x="379.5" y="28.9" font-size="4.8" text-anchor="end" font-weight="normal" font-style="normal" fill="#555" dominant-baseline="central">800</text>
<line x1="382.2" y1="126.7" x2="382.2" y2="128.2" stroke="#555" stroke-width="0.7"/>
<text x="382.2" y="133" font-size="4.8" text-anchor="middle" font-weight="normal" font-style="normal" fill="#555" dominant-baseline="central">0.0</text>
<line x1="413.66" y1="126.7" x2="413.66" y2="128.2" stroke="#555" stroke-width="0.7"/>
<text x="413.66" y="133" font-size="4.8" text-anchor="middle" font-weight="normal" font-style="normal" fill="#555" dominant-baseline="central">0.2</text>
<line x1="445.12" y1="126.7" x2="445.12" y2="128.2" stroke="#555" stroke-width="0.7"/>
<text x="445.12" y="133" font-size="4.8" text-anchor="middle" font-weight="normal" font-style="normal" fill="#555" dominant-baseline="central">0.4</text>
<line x1="476.58" y1="126.7" x2="476.58" y2="128.2" stroke="#555" stroke-width="0.7"/>
<text x="476.58" y="133" font-size="4.8" text-anchor="middle" font-weight="normal" font-style="normal" fill="#555" dominant-baseline="central">0.6</text>
<line x1="508.04" y1="126.7" x2="508.04" y2="128.2" stroke="#555" stroke-width="0.7"/>
<text x="508.04" y="133" font-size="4.8" text-anchor="middle" font-weight="normal" font-style="normal" fill="#555" dominant-baseline="central">0.8</text>
<line x1="539.5" y1="126.7" x2="539.5" y2="128.2" stroke="#555" stroke-width="0.7"/>
<text x="539.5" y="133" font-size="4.8" text-anchor="middle" font-weight="normal" font-style="normal" fill="#555" dominant-baseline="central">1.0</text>
<text x="365.8" y="70.4" font-size="6.3" text-anchor="middle" font-weight="normal" font-style="normal" fill="#333" dominant-baseline="central" transform="rotate(-90 365.8 70.4)">Peaks</text>
<text x="462.3" y="140.3" font-size="6.5" text-anchor="middle" font-weight="normal" font-style="normal" fill="#111" dominant-baseline="central">Time, s</text>
<text x="420.6" y="7.6" font-size="8.9" text-anchor="middle" font-weight="bold" font-style="italic" fill="#111" dominant-baseline="central">E. coli</text>
<rect x="382.2" y="125.9" width="157.3" height="1.6" fill="#ff0000"/>
<path d="M382.2 126.7 L382.2 125.84 L382.7 125.85 L383.2 125.88 L383.7 125.79 L384.2 125.73 L384.7 125.78 L385.21 125.79 L385.71 125.77 L386.21 125.86 L386.71 125.76 L387.21 125.81 L387.71 125.79 L388.21 125.78 L388.71 125.81 L389.21 125.84 L389.71 125.85 L390.22 125.86 L390.72 125.8 L391.22 125.82 L391.72 125.78 L392.22 125.9 L392.72 125.83 L393.22 125.73 L393.72 125.85 L394.22 125.79 L394.72 125.8 L395.22 125.84 L395.73 125.7 L396.23 125.84 L396.73 125.75 L397.23 125.87 L397.73 125.89 L398.23 125.73 L398.73 125.81 L399.23 125.89 L399.73 125.82 L400.23 125.81 L400.74 125.75 L401.24 125.88 L401.74 125.85 L402.24 125.71 L402.74 125.75 L403.24 125.87 L403.74 125.83 L404.24 125.83 L404.74 125.76 L405.24 125.78 L405.74 125.73 L406.25 125.74 L406.75 125.8 L407.25 125.75 L407.75 125.75 L408.25 125.75 L408.75 125.8 L409.25 125.74 L409.75 125.76 L410.25 125.72 L410.75 125.87 L411.26 125.73 L411.76 125.9 L412.26 125.75 L412.76 125.78 L413.26 125.8 L413.76 125.71 L414.26 125.79 L414.76 125.82 L415.26 125.74 L415.76 125.73 L416.26 125.78 L416.77 125.82 L417.27 125.81 L417.77 125.81 L418.27 125.76 L418.77 125.84 L419.27 125.82 L419.77 125.79 L420.27 125.82 L420.77 125.84 L421.27 125.74 L421.78 125.73 L422.28 125.8 L422.78 125.81 L423.28 125.86 L423.78 125.84 L424.28 125.87 L424.78 125.78 L425.28 125.78 L425.78 125.88 L426.28 125.72 L426.79 125.84 L427.29 125.73 L427.79 125.73 L428.29 125.71 L428.79 125.86 L429.29 125.81 L429.79 125.72 L430.29 125.9 L430.79 125.89 L431.29 125.79 L431.79 125.8 L432.3 125.72 L432.8 125.75 L433.3 125.79 L433.8 125.7 L434.3 125.8 L434.8 125.8 L435.3 125.76 L435.8 125.82 L436.3 125.83 L436.8 125.78 L437.31 125.83 L437.81 125.71 L438.31 125.76 L438.81 125.79 L439.31 125.88 L439.81 125.83 L440.31 125.82 L440.81 125.79 L441.31 125.79 L441.81 125.72 L442.31 125.71 L442.82 125.8 L443.32 125.81 L443.82 125.78 L444.32 125.7 L444.82 125.83 L445.32 125.79 L445.82 125.74 L446.32 125.87 L446.82 125.84 L447.32 125.7 L447.83 125.73 L448.33 125.8 L448.83 125.88 L449.33 125.72 L449.83 125.76 L450.33 125.74 L450.83 125.7 L451.33 125.72 L451.83 125.82 L452.33 125.87 L452.83 125.84 L453.34 125.8 L453.84 125.8 L454.34 125.86 L454.84 125.86 L455.34 125.77 L455.84 125.78 L456.34 125.83 L456.84 125.7 L457.34 125.77 L457.84 125.89 L458.35 125.82 L458.85 125.74 L459.35 125.84 L459.85 125.76 L460.35 125.9 L460.85 125.84 L461.35 125.73 L461.85 125.78 L462.35 125.77 L462.85 125.86 L463.35 125.8 L463.86 125.79 L464.36 125.85 L464.86 125.77 L465.36 125.79 L465.86 125.7 L466.36 125.79 L466.86 125.82 L467.36 125.88 L467.86 125.87 L468.36 125.75 L468.87 125.88 L469.37 125.88 L469.87 125.87 L470.37 125.8 L470.87 125.74 L471.37 125.78 L471.87 125.74 L472.37 125.89 L472.87 125.9 L473.37 125.75 L473.87 125.84 L474.38 125.76 L474.88 125.83 L475.38 125.87 L475.88 125.85 L476.38 125.88 L476.88 125.72 L477.38 125.78 L477.88 125.83 L478.38 125.81 L478.88 125.82 L479.39 125.89 L479.89 125.72 L480.39 125.78 L480.89 125.71 L481.39 125.81 L481.89 125.78 L482.39 125.85 L482.89 125.89 L483.39 125.71 L483.89 125.73 L484.39 125.84 L484.9 125.72 L485.4 125.74 L485.9 125.84 L486.4 125.78 L486.9 125.71 L487.4 125.8 L487.9 125.71 L488.4 125.85 L488.9 125.82 L489.4 125.76 L489.91 125.86 L490.41 125.84 L490.91 125.72 L491.41 125.8 L491.91 125.74 L492.41 125.85 L492.91 125.87 L493.41 125.83 L493.91 125.86 L494.41 125.71 L494.91 125.84 L495.42 125.79 L495.92 125.88 L496.42 125.79 L496.92 125.82 L497.42 125.82 L497.92 125.89 L498.42 125.88 L498.92 125.73 L499.42 125.83 L499.92 125.85 L500.43 125.86 L500.93 125.84 L501.43 125.85 L501.93 125.89 L502.43 125.77 L502.93 125.83 L503.43 125.87 L503.93 125.76 L504.43 125.88 L504.93 125.85 L505.44 125.73 L505.94 125.87 L506.44 125.81 L506.94 125.73 L507.44 125.74 L507.94 125.87 L508.44 125.83 L508.94 125.76 L509.44 125.82 L509.94 125.71 L510.44 125.86 L510.95 125.71 L511.45 125.8 L511.95 125.85 L512.45 125.81 L512.95 125.87 L513.45 125.76 L513.95 125.85 L514.45 125.72 L514.95 125.78 L515.45 125.83 L515.96 125.85 L516.46 125.78 L516.96 125.86 L517.46 125.73 L517.96 125.88 L518.46 125.8 L518.96 125.79 L519.46 125.85 L519.96 125.75 L520.46 125.82 L520.96 125.77 L521.47 125.79 L521.97 125.84 L522.47 125.82 L522.97 125.88 L523.47 125.86 L523.97 125.73 L524.47 125.84 L524.97 125.77 L525.47 125.88 L525.97 125.79 L526.48 125.83 L526.98 125.8 L527.48 125.84 L527.98 125.89 L528.48 125.84 L528.98 125.85 L529.48 125.87 L529.98 125.76 L530.48 125.84 L530.98 125.82 L531.48 125.72 L531.99 125.75 L532.49 125.72 L532.99 125.73 L533.49 125.87 L533.99 125.84 L534.49 125.89 L534.99 125.76 L535.49 125.77 L535.99 125.83 L536.49 125.82 L537 125.77 L537.5 125.76 L538 125.85 L538.5 125.73 L539 125.83 L539.5 125.77 L539.5 126.7 Z" fill="#ff0000"/>
<rect x="382.2" y="123.1" width="157.3" height="1.8" fill="#00ff00"/>
<path d="M382.2 124 L382.2 123.05 L382.7 123.07 L383.2 122.83 L383.7 122.88 L384.2 122.89 L384.7 123.09 L385.21 123.09 L385.71 123.05 L386.21 123.04 L386.71 123.01 L387.21 122.99 L387.71 123.09 L388.21 123.01 L388.71 122.91 L389.21 123.05 L389.71 122.85 L390.22 122.93 L390.72 122.89 L391.22 123.02 L391.72 122.97 L392.22 122.89 L392.72 123 L393.22 123.1 L393.72 122.85 L394.22 122.87 L394.72 123.01 L395.22 123.09 L395.73 122.84 L396.23 122.92 L396.73 123.09 L397.23 123.03 L397.73 123.07 L398.23 122.86 L398.73 123.04 L399.23 122.83 L399.73 122.88 L400.23 123.07 L400.74 122.89 L401.24 122.98 L401.74 122.88 L402.24 122.85 L402.74 123.02 L403.24 123.07 L403.74 122.82 L404.24 122.97 L404.74 122.82 L405.24 122.89 L405.74 122.88 L406.25 122.85 L406.75 122.91 L407.25 122.96 L407.75 123.08 L408.25 122.89 L408.75 122.97 L409.25 122.95 L409.75 122.82 L410.25 123.06 L410.75 122.87 L411.26 123.09 L411.76 122.89 L412.26 122.86 L412.76 123.02 L413.26 122.94 L413.76 122.81 L414.26 122.91 L414.76 122.94 L415.26 123.03 L415.76 123.08 L416.26 122.99 L416.77 122.98 L417.27 123.04 L417.77 123.01 L418.27 123.06 L418.77 122.89 L419.27 122.9 L419.77 123.03 L420.27 123.03 L420.77 122.95 L421.27 122.97 L421.78 122.82 L422.28 122.99 L422.78 123.01 L423.28 122.83 L423.78 123.06 L424.28 122.93 L424.78 123 L425.28 122.86 L425.78 122.94 L426.28 122.87 L426.79 123.05 L427.29 122.9 L427.79 122.92 L428.29 122.96 L428.79 122.87 L429.29 122.85 L429.79 123.07 L430.29 123.01 L430.79 122.99 L431.29 123.04 L431.79 123.08 L432.3 123.02 L432.8 123.04 L433.3 122.89 L433.8 122.97 L434.3 123.07 L434.8 123 L435.3 122.96 L435.8 122.99 L436.3 123.05 L436.8 123.08 L437.31 123.1 L437.81 122.8 L438.31 122.87 L438.81 123.07 L439.31 122.88 L439.81 122.81 L440.31 122.93 L440.81 123.07 L441.31 122.95 L441.81 122.97 L442.31 123.04 L442.82 122.94 L443.32 123.1 L443.82 122.82 L444.32 122.91 L444.82 122.91 L445.32 122.82 L445.82 122.9 L446.32 123.02 L446.82 123.03 L447.32 123.06 L447.83 123.09 L448.33 122.87 L448.83 122.85 L449.33 123.01 L449.83 123.04 L450.33 122.91 L450.83 122.85 L451.33 122.82 L451.83 123.05 L452.33 122.86 L452.83 122.85 L453.34 122.88 L453.84 123 L454.34 123.04 L454.84 122.85 L455.34 123 L455.84 122.99 L456.34 122.93 L456.84 122.99 L457.34 122.85 L457.84 123.03 L458.35 123.09 L458.85 122.93 L459.35 122.91 L459.85 122.85 L460.35 122.89 L460.85 122.83 L461.35 122.82 L461.85 122.95 L462.35 122.95 L462.85 123.05 L463.35 123.01 L463.86 122.93 L464.36 123.08 L464.86 122.89 L465.36 123.05 L465.86 122.97 L466.36 122.81 L466.86 123.07 L467.36 123.09 L467.86 122.97 L468.36 123.04 L468.87 122.88 L469.37 123.1 L469.87 122.85 L470.37 122.84 L470.87 122.86 L471.37 122.97 L471.87 123.02 L472.37 122.9 L472.87 122.95 L473.37 122.97 L473.87 123 L474.38 122.97 L474.88 122.9 L475.38 122.85 L475.88 122.83 L476.38 123.05 L476.88 123.01 L477.38 122.97 L477.88 122.93 L478.38 123 L478.88 123.04 L479.39 123.07 L479.89 123 L480.39 122.96 L480.89 122.81 L481.39 122.83 L481.89 122.84 L482.39 122.81 L482.89 122.81 L483.39 122.91 L483.89 122.86 L484.39 123.08 L484.9 122.9 L485.4 122.92 L485.9 123.01 L486.4 122.93 L486.9 122.81 L487.4 122.96 L487.9 122.91 L488.4 123.01 L488.9 123 L489.4 122.83 L489.91 123.09 L490.41 123.04 L490.91 122.9 L491.41 122.97 L491.91 123.07 L492.41 122.9 L492.91 122.99 L493.41 122.93 L493.91 122.98 L494.41 122.94 L494.91 122.93 L495.42 122.98 L495.92 123.07 L496.42 123.05 L496.92 122.83 L497.42 122.94 L497.92 123.07 L498.42 122.84 L498.92 123.02 L499.42 123.07 L499.92 122.94 L500.43 123.02 L500.93 122.95 L501.43 122.93 L501.93 123.03 L502.43 122.93 L502.93 123.07 L503.43 122.95 L503.93 122.92 L504.43 123.08 L504.93 122.98 L505.44 123.08 L505.94 122.97 L506.44 122.84 L506.94 122.93 L507.44 122.89 L507.94 122.87 L508.44 123.07 L508.94 122.8 L509.44 122.88 L509.94 123.07 L510.44 122.85 L510.95 122.98 L511.45 123.05 L511.95 122.81 L512.45 122.93 L512.95 122.87 L513.45 123.06 L513.95 122.87 L514.45 123.08 L514.95 123.03 L515.45 122.99 L515.96 123.1 L516.46 122.92 L516.96 123.04 L517.46 123.01 L517.96 122.89 L518.46 122.97 L518.96 122.83 L519.46 122.91 L519.96 122.84 L520.46 122.93 L520.96 122.82 L521.47 122.84 L521.97 123.05 L522.47 122.88 L522.97 123 L523.47 122.87 L523.97 122.9 L524.47 122.85 L524.97 123.06 L525.47 122.99 L525.97 122.88 L526.48 122.82 L526.98 122.88 L527.48 123.09 L527.98 122.92 L528.48 123.07 L528.98 122.94 L529.48 122.86 L529.98 123.07 L530.48 122.82 L530.98 122.9 L531.48 123.02 L531.99 123.04 L532.49 122.97 L532.99 122.85 L533.49 122.93 L533.99 123.07 L534.49 123.09 L534.99 123.07 L535.49 122.86 L535.99 123.04 L536.49 122.93 L537 123.01 L537.5 122.89 L538 122.99 L538.5 123.06 L539 122.84 L539.5 122.94 L539.5 124 Z" fill="#00ff00"/>
<rect x="382.2" y="120.55" width="157.3" height="1.7" fill="#0000ff"/>
<path d="M382.2 121.4 L382.2 120.14 L382.7 120.07 L383.2 119.98 L383.7 120.54 L384.2 120.34 L384.7 120.46 L385.21 120.25 L385.71 120.03 L386.21 120.07 L386.71 120.53 L387.21 120.44 L387.71 120.06 L388.21 120.14 L388.71 120.31 L389.21 120.26 L389.71 120.46 L390.22 120.04 L390.72 120.31 L391.22 120.03 L391.72 120.18 L392.22 120.5 L392.72 120.35 L393.22 120.42 L393.72 120.01 L394.22 120.2 L394.72 120.52 L395.22 120.45 L395.73 120.33 L396.23 120.27 L396.73 120.2 L397.23 120.32 L397.73 120.34 L398.23 120.55 L398.73 120.2 L399.23 120.35 L399.73 120.54 L400.23 120.27 L400.74 119.96 L401.24 120.52 L401.74 120.46 L402.24 120.15 L402.74 120.39 L403.24 120.39 L403.74 120.25 L404.24 120.39 L404.74 120.21 L405.24 120.23 L405.74 119.98 L406.25 119.95 L406.75 120.53 L407.25 120.21 L407.75 120.09 L408.25 120.03 L408.75 120.09 L409.25 120.17 L409.75 120.17 L410.25 120.33 L410.75 120.38 L411.26 120.07 L411.76 120.03 L412.26 119.99 L412.76 120.14 L413.26 120.37 L413.76 120.09 L414.26 120.11 L414.76 120.24 L415.26 120.17 L415.76 120.34 L416.26 120.22 L416.77 120.31 L417.27 120.51 L417.77 120.35 L418.27 120.36 L418.77 119.96 L419.27 120.26 L419.77 120.33 L420.27 120.4 L420.77 120.41 L421.27 120.34 L421.78 120.47 L422.28 120.55 L422.78 120.03 L423.28 120.28 L423.78 120.28 L424.28 120.21 L424.78 120.37 L425.28 120.45 L425.78 120.51 L426.28 120.37 L426.79 120.36 L427.29 120.11 L427.79 120.22 L428.29 119.99 L428.79 120.35 L429.29 120 L429.79 120.2 L430.29 120.5 L430.79 120.44 L431.29 120.2 L431.79 119.96 L432.3 120.34 L432.8 120.09 L433.3 120.29 L433.8 120.03 L434.3 120.51 L434.8 120.26 L435.3 120.01 L435.8 120.38 L436.3 120.4 L436.8 120.54 L437.31 120.45 L437.81 120.39 L438.31 120.13 L438.81 120.42 L439.31 120.31 L439.81 120.43 L440.31 120.19 L440.81 120.03 L441.31 120.16 L441.81 120.43 L442.31 120.11 L442.82 119.97 L443.32 120.19 L443.82 120.5 L444.32 120.06 L444.82 120.02 L445.32 120.35 L445.82 120.47 L446.32 120.44 L446.82 120.23 L447.32 120.02 L447.83 120.17 L448.33 120 L448.83 120.42 L449.33 120.35 L449.83 120.1 L450.33 120.16 L450.83 120.31 L451.33 120.14 L451.83 120.35 L452.33 120.52 L452.83 120.3 L453.34 120.52 L453.84 120.17 L454.34 120.35 L454.84 120.25 L455.34 120.19 L455.84 120.4 L456.34 120.27 L456.84 120.54 L457.34 119.99 L457.84 120.21 L458.35 119.96 L458.85 120.52 L459.35 120.18 L459.85 120.12 L460.35 120.35 L460.85 120.49 L461.35 120.46 L461.85 120.46 L462.35 120.09 L462.85 120.5 L463.35 120.06 L463.86 120.3 L464.36 120.23 L464.86 120.2 L465.36 120.22 L465.86 120.16 L466.36 120.19 L466.86 120.35 L467.36 120.11 L467.86 120.4 L468.36 120.12 L468.87 120.09 L469.37 120.08 L469.87 120.36 L470.37 120.09 L470.87 119.96 L471.37 120.28 L471.87 120.38 L472.37 120.24 L472.87 119.99 L473.37 120.47 L473.87 120.54 L474.38 120.26 L474.88 120.16 L475.38 120.09 L475.88 120.33 L476.38 119.96 L476.88 120.41 L477.38 120.1 L477.88 120.5 L478.38 120.53 L478.88 120.47 L479.39 120.51 L479.89 120.25 L480.39 120.22 L480.89 120.44 L481.39 119.99 L481.89 120.33 L482.39 120.46 L482.89 120.44 L483.39 120.11 L483.89 120 L484.39 120.45 L484.9 120.53 L485.4 120.08 L485.9 120.4 L486.4 119.96 L486.9 120.25 L487.4 120.17 L487.9 120.34 L488.4 120.07 L488.9 120.27 L489.4 120.36 L489.91 120.01 L490.41 120.49 L490.91 120.11 L491.41 120.51 L491.91 120.16 L492.41 120.31 L492.91 120.03 L493.41 120.51 L493.91 120.21 L494.41 120.3 L494.91 120 L495.42 119.98 L495.92 120.17 L496.42 120.42 L496.92 120.4 L497.42 120.39 L497.92 120.29 L498.42 120.41 L498.92 120.43 L499.42 120.09 L499.92 120.16 L500.43 120.37 L500.93 119.95 L501.43 120.42 L501.93 120.21 L502.43 120.46 L502.93 120.03 L503.43 120.03 L503.93 120.39 L504.43 120.1 L504.93 120.06 L505.44 120.38 L505.94 120.35 L506.44 120.26 L506.94 120.02 L507.44 120.45 L507.94 120.14 L508.44 120.19 L508.94 120.28 L509.44 120.2 L509.94 120.02 L510.44 120.42 L510.95 120.02 L511.45 120.33 L511.95 120.08 L512.45 120.03 L512.95 120.44 L513.45 120.03 L513.95 119.95 L514.45 120.37 L514.95 120.54 L515.45 120.48 L515.96 119.97 L516.46 120.54 L516.96 120 L517.46 120.46 L517.96 120.11 L518.46 120.49 L518.96 120.45 L519.46 120.14 L519.96 120.5 L520.46 120.35 L520.96 120 L521.47 120.12 L521.97 120.02 L522.47 119.96 L522.97 120.53 L523.47 120.41 L523.97 120.07 L524.47 120.14 L524.97 120.53 L525.47 120.25 L525.97 120.41 L526.48 120.29 L526.98 120.49 L527.48 120.54 L527.98 119.96 L528.48 120.36 L528.98 120.02 L529.48 120.48 L529.98 120.26 L530.48 120.47 L530.98 120.29 L531.48 120.44 L531.99 120.14 L532.49 120.46 L532.99 120.11 L533.49 120.25 L533.99 120.48 L534.49 120.34 L534.99 120.25 L535.49 120 L535.99 120.34 L536.49 120.42 L537 119.97 L537.5 120.02 L538 120.11 L538.5 120.39 L539 120.44 L539.5 120.39 L539.5 121.4 Z" fill="#0000ff"/>
<path d="M394.5 121.4 V115 M399 121.4 V114 M405.5 121.4 V115.8 M414.5 121.4 V116.4 M421.8 121.4 V116.4 M429.6 121.4 V114 M436.4 121.4 V112.2 M482.7 121.4 V116.4 M489.6 121.4 V114.2 M501.5 121.4 V117" fill="none" stroke="#0000ff" stroke-width="0.8"/>
<path d="M393.04 121.4 V120.55 M462.23 121.4 V120.14 M469.76 121.4 V120.26 M383.87 121.4 V118.59 M484.93 121.4 V119.58 M468.53 121.4 V118.58 M536.73 121.4 V116.54 M495.1 121.4 V120.17 M432.26 121.4 V120.11 M535.24 121.4 V120.2 M442.83 121.4 V120.14 M404.7 121.4 V114.58 M383.03 121.4 V119.2 M527.9 121.4 V120.45 M478.3 121.4 V120.23 M420.07 121.4 V120.5 M400.47 121.4 V116.95 M505.52 121.4 V116.05 M389.99 121.4 V118.54 M433.22 121.4 V118.93 M468.55 121.4 V120.36 M535.03 121.4 V120.55 M499.58 121.4 V116.82 M462.44 121.4 V119.3 M538.67 121.4 V120.47 M481.22 121.4 V118.09 M441.79 121.4 V118.38 M444.1 121.4 V119.68 M478.6 121.4 V118.69 M432.87 121.4 V119.06 M467.62 121.4 V120.48 M478.55 121.4 V120.44 M525.15 121.4 V119.91 M495.7 121.4 V119.7 M457.17 121.4 V120.49 M404.55 121.4 V115.77 M465.37 121.4 V119.69 M465.17 121.4 V117.32 M419.74 121.4 V120.52 M511.48 121.4 V119.96 M482.95 121.4 V117.15 M522.83 121.4 V116.63 M389 121.4 V120.22 M513.09 121.4 V117.27 M401.55 121.4 V120.53 M421.76 121.4 V120.54 M438.3 121.4 V117.44 M464.21 121.4 V119.99 M396.04 121.4 V120.18 M539.02 121.4 V118.54 M452.88 121.4 V119.89 M507.77 121.4 V117.93 M405.78 121.4 V118.66 M439.92 121.4 V119.7 M419.58 121.4 V120.24 M435.7 121.4 V120.22 M384.99 121.4 V120.5 M471.95 121.4 V120.55 M410.27 121.4 V118.33 M425.39 121.4 V120.35 M420.24 121.4 V117.07 M396.57 121.4 V119.01 M517.3 121.4 V120.5 M448.76 121.4 V117.57 M479.39 121.4 V120.24 M389.11 121.4 V120.03 M439.96 121.4 V118.38 M428.64 121.4 V120.14 M484.16 121.4 V117.35 M437.63 121.4 V120.21 M473.23 121.4 V115.8 M412.34 121.4 V115.05 M494.18 121.4 V120.24 M486.9 121.4 V120.34 M393.33 121.4 V117.96 M441.88 121.4 V119.68 M460.32 121.4 V116.16 M501.28 121.4 V120.55 M475.44 121.4 V119.96 M454.9 121.4 V117 M447.46 121.4 V119.91 M522.25 121.4 V120.04 M459.48 121.4 V119.75 M511.92 121.4 V118.74 M498.67 121.4 V120.16 M388.58 121.4 V118.66 M469.32 121.4 V117.82 M503.3 121.4 V120.54 M416.92 121.4 V120.55 M510.79 121.4 V120.54" fill="none" stroke="#0000ff" stroke-width="0.8"/>
<rect x="382.2" y="107.7" width="157.3" height="2.2" fill="#ff00ff"/>
<path d="M382.2 108.8 L382.2 107.65 L382.7 107.25 L383.2 107.36 L383.7 107.67 L384.2 107.29 L384.7 107.27 L385.21 107.41 L385.71 107.67 L386.21 107.29 L386.71 107.45 L387.21 107.35 L387.71 107.1 L388.21 107.21 L388.71 107.18 L389.21 107.61 L389.71 107.5 L390.22 107.39 L390.72 107.7 L391.22 107.11 L391.72 107.54 L392.22 107.54 L392.72 107.51 L393.22 107.55 L393.72 107.18 L394.22 107.37 L394.72 107.39 L395.22 107.45 L395.73 107.67 L396.23 107.52 L396.73 107.18 L397.23 107.22 L397.73 107.19 L398.23 107.55 L398.73 107.58 L399.23 107.67 L399.73 107.38 L400.23 107.48 L400.74 107.42 L401.24 107.41 L401.74 107.35 L402.24 107.48 L402.74 107.22 L403.24 107.58 L403.74 107.15 L404.24 107.37 L404.74 107.67 L405.24 107.51 L405.74 107.38 L406.25 107.45 L406.75 107.36 L407.25 107.51 L407.75 107.54 L408.25 107.22 L408.75 107.53 L409.25 107.27 L409.75 107.22 L410.25 107.34 L410.75 107.43 L411.26 107.14 L411.76 107.43 L412.26 107.17 L412.76 107.67 L413.26 107.44 L413.76 107.32 L414.26 107.67 L414.76 107.18 L415.26 107.66 L415.76 107.34 L416.26 107.59 L416.77 107.15 L417.27 107.36 L417.77 107.22 L418.27 107.4 L418.77 107.3 L419.27 107.3 L419.77 107.52 L420.27 107.57 L420.77 107.2 L421.27 107.61 L421.78 107.15 L422.28 107.58 L422.78 107.64 L423.28 107.64 L423.78 107.23 L424.28 107.13 L424.78 107.45 L425.28 107.3 L425.78 107.55 L426.28 107.16 L426.79 107.29 L427.29 107.61 L427.79 107.67 L428.29 107.28 L428.79 107.67 L429.29 107.2 L429.79 107.52 L430.29 107.56 L430.79 107.35 L431.29 107.51 L431.79 107.36 L432.3 107.61 L432.8 107.15 L433.3 107.51 L433.8 107.2 L434.3 107.61 L434.8 107.22 L435.3 107.11 L435.8 107.47 L436.3 107.68 L436.8 107.47 L437.31 107.32 L437.81 107.57 L438.31 107.37 L438.81 107.64 L439.31 107.42 L439.81 107.26 L440.31 107.44 L440.81 107.29 L441.31 107.63 L441.81 107.2 L442.31 107.63 L442.82 107.15 L443.32 107.1 L443.82 107.14 L444.32 107.38 L444.82 107.53 L445.32 107.49 L445.82 107.25 L446.32 107.4 L446.82 107.14 L447.32 107.64 L447.83 107.41 L448.33 107.18 L448.83 107.34 L449.33 107.38 L449.83 107.65 L450.33 107.62 L450.83 107.54 L451.33 107.16 L451.83 107.19 L452.33 107.56 L452.83 107.15 L453.34 107.68 L453.84 107.34 L454.34 107.12 L454.84 107.49 L455.34 107.13 L455.84 107.31 L456.34 107.67 L456.84 107.5 L457.34 107.43 L457.84 107.55 L458.35 107.25 L458.85 107.59 L459.35 107.23 L459.85 107.52 L460.35 107.66 L460.85 107.36 L461.35 107.64 L461.85 107.37 L462.35 107.23 L462.85 107.34 L463.35 107.42 L463.86 107.68 L464.36 107.39 L464.86 107.64 L465.36 107.31 L465.86 107.62 L466.36 107.35 L466.86 107.49 L467.36 107.48 L467.86 107.3 L468.36 107.6 L468.87 107.6 L469.37 107.14 L469.87 107.5 L470.37 107.19 L470.87 107.18 L471.37 107.41 L471.87 107.61 L472.37 107.64 L472.87 107.17 L473.37 107.63 L473.87 107.4 L474.38 107.38 L474.88 107.63 L475.38 107.42 L475.88 107.6 L476.38 107.38 L476.88 107.4 L477.38 107.48 L477.88 107.58 L478.38 107.46 L478.88 107.58 L479.39 107.62 L479.89 107.56 L480.39 107.18 L480.89 107.4 L481.39 107.17 L481.89 107.69 L482.39 107.13 L482.89 107.41 L483.39 107.23 L483.89 107.36 L484.39 107.29 L484.9 107.56 L485.4 107.25 L485.9 107.61 L486.4 107.54 L486.9 107.68 L487.4 107.46 L487.9 107.39 L488.4 107.52 L488.9 107.17 L489.4 107.65 L489.91 107.35 L490.41 107.56 L490.91 107.34 L491.41 107.23 L491.91 107.27 L492.41 107.66 L492.91 107.55 L493.41 107.34 L493.91 107.11 L494.41 107.68 L494.91 107.33 L495.42 107.28 L495.92 107.21 L496.42 107.49 L496.92 107.21 L497.42 107.42 L497.92 107.15 L498.42 107.69 L498.92 107.14 L499.42 107.45 L499.92 107.46 L500.43 107.65 L500.93 107.55 L501.43 107.26 L501.93 107.29 L502.43 107.61 L502.93 107.49 L503.43 107.62 L503.93 107.58 L504.43 107.57 L504.93 107.5 L505.44 107.11 L505.94 107.1 L506.44 107.23 L506.94 107.41 L507.44 107.4 L507.94 107.23 L508.44 107.16 L508.94 107.25 L509.44 107.32 L509.94 107.58 L510.44 107.32 L510.95 107.19 L511.45 107.23 L511.95 107.64 L512.45 107.27 L512.95 107.49 L513.45 107.6 L513.95 107.12 L514.45 107.3 L514.95 107.25 L515.45 107.62 L515.96 107.2 L516.46 107.14 L516.96 107.16 L517.46 107.25 L517.96 107.2 L518.46 107.22 L518.96 107.35 L519.46 107.44 L519.96 107.2 L520.46 107.23 L520.96 107.18 L521.47 107.52 L521.97 107.12 L522.47 107.38 L522.97 107.13 L523.47 107.63 L523.97 107.12 L524.47 107.23 L524.97 107.55 L525.47 107.2 L525.97 107.56 L526.48 107.58 L526.98 107.43 L527.48 107.56 L527.98 107.4 L528.48 107.16 L528.98 107.29 L529.48 107.27 L529.98 107.46 L530.48 107.23 L530.98 107.22 L531.48 107.29 L531.99 107.13 L532.49 107.2 L532.99 107.46 L533.49 107.65 L533.99 107.31 L534.49 107.2 L534.99 107.5 L535.49 107.34 L535.99 107.2 L536.49 107.22 L537 107.7 L537.5 107.41 L538 107.69 L538.5 107.63 L539 107.21 L539.5 107.45 L539.5 108.8 Z" fill="#ff00ff"/>
<path d="M404 108.8 V98.7 M421.3 108.8 V101.3 M424.5 108.8 V103 M430.9 108.8 V103 M437.8 108.8 V100.5 M444.2 108.8 V87.3 M453 108.8 V103.5 M459 108.8 V102.5 M466.7 108.8 V100 M477.8 108.8 V77.6 M482.7 108.8 V96 M491.3 108.8 V90.4 M501.5 108.8 V106 M511.8 108.8 V102.7 M514.5 108.8 V90 M517.8 108.8 V101.8 M522.7 108.8 V102.4 M529 108.8 V98.2 M534.9 108.8 V103.6" fill="none" stroke="#ff00ff" stroke-width="0.8"/>
<path d="M477.33 108.8 V107.41 M434.96 108.8 V107.67 M437.84 108.8 V105.89 M479.61 108.8 V107.63 M396.04 108.8 V107.64 M492.5 108.8 V107.44 M486.18 108.8 V106.12 M401.19 108.8 V106.74 M388.73 108.8 V106.03 M411.16 108.8 V107.64 M532.85 108.8 V107.56 M417.47 108.8 V105.59 M478.19 108.8 V105.56 M444.23 108.8 V107.33 M532.54 108.8 V107.31 M537.7 108.8 V107.68 M512.86 108.8 V107.69 M465.13 108.8 V107.7 M409.78 108.8 V105.17 M453.7 108.8 V106.11 M421.65 108.8 V107.57 M398.07 108.8 V107.19 M517.83 108.8 V107.29 M441.45 108.8 V105.3 M522.79 108.8 V106.81" fill="none" stroke="#ff00ff" stroke-width="0.8"/>
<rect x="382.2" y="71.45" width="157.3" height="1.9" fill="#000"/>
<path d="M382.2 72.4 L382.2 71.37 L382.7 70.83 L383.2 71.01 L383.7 70.49 L384.2 71.09 L384.7 70.79 L385.21 70.82 L385.71 71.07 L386.21 70.93 L386.71 70.77 L387.21 70.54 L387.71 70.95 L388.21 71.09 L388.71 70.47 L389.21 71.39 L389.71 70.62 L390.22 70.77 L390.72 70.89 L391.22 71 L391.72 70.7 L392.22 70.56 L392.72 70.72 L393.22 70.7 L393.72 71.41 L394.22 71.12 L394.72 71.31 L395.22 70.5 L395.73 70.56 L396.23 71.31 L396.73 70.86 L397.23 70.87 L397.73 71.4 L398.23 71.06 L398.73 70.7 L399.23 70.81 L399.73 71.17 L400.23 70.69 L400.74 71.16 L401.24 70.91 L401.74 71.03 L402.24 70.47 L402.74 70.8 L403.24 70.65 L403.74 70.77 L404.24 71.07 L404.74 70.49 L405.24 70.74 L405.74 70.76 L406.25 71.17 L406.75 71.29 L407.25 70.87 L407.75 70.62 L408.25 70.66 L408.75 71.1 L409.25 71.31 L409.75 70.93 L410.25 70.57 L410.75 71.29 L411.26 70.71 L411.76 71.28 L412.26 71.14 L412.76 71.4 L413.26 71.15 L413.76 71.07 L414.26 70.48 L414.76 70.49 L415.26 71.26 L415.76 71.14 L416.26 70.51 L416.77 71.25 L417.27 71.13 L417.77 71.01 L418.27 71.34 L418.77 71.19 L419.27 71.06 L419.77 71.06 L420.27 70.49 L420.77 71.18 L421.27 71.25 L421.78 70.54 L422.28 71 L422.78 70.61 L423.28 70.81 L423.78 70.67 L424.28 71.14 L424.78 71.3 L425.28 70.69 L425.78 70.98 L426.28 70.89 L426.79 70.78 L427.29 70.7 L427.79 71.17 L428.29 71.09 L428.79 70.53 L429.29 70.92 L429.79 71.16 L430.29 70.82 L430.79 71.19 L431.29 70.68 L431.79 71.41 L432.3 70.62 L432.8 70.88 L433.3 71.1 L433.8 70.51 L434.3 71.18 L434.8 71.21 L435.3 71.38 L435.8 70.9 L436.3 70.7 L436.8 70.77 L437.31 71.04 L437.81 70.64 L438.31 71.34 L438.81 71.14 L439.31 70.81 L439.81 70.48 L440.31 70.82 L440.81 70.76 L441.31 70.68 L441.81 71.06 L442.31 70.51 L442.82 70.71 L443.32 71.11 L443.82 71.06 L444.32 70.64 L444.82 71.1 L445.32 71.26 L445.82 70.58 L446.32 70.92 L446.82 70.93 L447.32 70.78 L447.83 70.55 L448.33 71.32 L448.83 71.11 L449.33 71.38 L449.83 71.04 L450.33 70.95 L450.83 70.6 L451.33 70.78 L451.83 70.87 L452.33 71.05 L452.83 70.88 L453.34 71.18 L453.84 70.61 L454.34 70.66 L454.84 70.61 L455.34 71.3 L455.84 70.78 L456.34 70.7 L456.84 70.95 L457.34 70.55 L457.84 70.55 L458.35 70.71 L458.85 70.63 L459.35 70.8 L459.85 70.57 L460.35 71.32 L460.85 70.75 L461.35 70.75 L461.85 70.84 L462.35 71.17 L462.85 71.38 L463.35 70.85 L463.86 70.63 L464.36 71.18 L464.86 71.24 L465.36 71.23 L465.86 71.36 L466.36 70.77 L466.86 70.48 L467.36 70.65 L467.86 71.09 L468.36 70.75 L468.87 71.38 L469.37 70.61 L469.87 71.12 L470.37 71.45 L470.87 70.82 L471.37 71.31 L471.87 71.17 L472.37 71.39 L472.87 71 L473.37 70.9 L473.87 70.64 L474.38 71.41 L474.88 70.62 L475.38 71.34 L475.88 71.23 L476.38 70.82 L476.88 71.11 L477.38 71.12 L477.88 70.88 L478.38 71.23 L478.88 70.66 L479.39 71.24 L479.89 70.61 L480.39 70.64 L480.89 70.91 L481.39 71.42 L481.89 70.67 L482.39 71.42 L482.89 70.95 L483.39 71.03 L483.89 71.39 L484.39 70.82 L484.9 70.73 L485.4 70.87 L485.9 71.05 L486.4 70.94 L486.9 70.86 L487.4 71.22 L487.9 70.58 L488.4 70.45 L488.9 70.65 L489.4 70.49 L489.91 71.12 L490.41 70.46 L490.91 71.38 L491.41 70.97 L491.91 71.32 L492.41 71 L492.91 70.77 L493.41 70.74 L493.91 71 L494.41 71.11 L494.91 71.26 L495.42 71.05 L495.92 71.17 L496.42 71.26 L496.92 70.71 L497.42 70.93 L497.92 71.01 L498.42 71.25 L498.92 70.75 L499.42 71.25 L499.92 71.18 L500.43 70.89 L500.93 70.75 L501.43 70.48 L501.93 70.7 L502.43 70.5 L502.93 70.53 L503.43 70.73 L503.93 70.73 L504.43 71.39 L504.93 71.24 L505.44 71.44 L505.94 70.59 L506.44 70.73 L506.94 70.82 L507.44 71.19 L507.94 71.09 L508.44 71.29 L508.94 70.82 L509.44 70.46 L509.94 71.14 L510.44 71.41 L510.95 71.27 L511.45 71.09 L511.95 70.55 L512.45 70.65 L512.95 70.99 L513.45 71.35 L513.95 71.34 L514.45 71.3 L514.95 70.67 L515.45 70.98 L515.96 70.46 L516.46 70.54 L516.96 70.66 L517.46 70.97 L517.96 70.63 L518.46 71.32 L518.96 71.34 L519.46 70.89 L519.96 70.94 L520.46 71.24 L520.96 71.2 L521.47 71.43 L521.97 70.54 L522.47 70.74 L522.97 70.5 L523.47 70.47 L523.97 71.01 L524.47 70.72 L524.97 71.07 L525.47 70.64 L525.97 70.61 L526.48 71.32 L526.98 71.44 L527.48 71.24 L527.98 70.86 L528.48 71.07 L528.98 71.44 L529.48 70.62 L529.98 70.66 L530.48 70.99 L530.98 71.41 L531.48 70.56 L531.99 70.92 L532.49 71.38 L532.99 71.13 L533.49 70.83 L533.99 70.56 L534.49 70.97 L534.99 70.81 L535.49 71.24 L535.99 71.21 L536.49 70.54 L537 71.07 L537.5 71.35 L538 70.86 L538.5 71.32 L539 71.25 L539.5 70.99 L539.5 72.4 Z" fill="#000"/>
<path d="M387.8 72.4 V42.2 M389.6 72.4 V61 M391.3 72.4 V64.5 M393.6 72.4 V61.8 M411.5 72.4 V61.8 M423.6 72.4 V31.3 M444.2 72.4 V63.3 M454.2 72.4 V51.3 M444.4 72.4 V63.6 M469 72.4 V66 M475.4 72.4 V26.6 M479.6 72.4 V63 M487.6 72.4 V60 M490 72.4 V36.6 M495.6 72.4 V56 M501.6 72.4 V51.6 M504.4 72.4 V43 M515.2 72.4 V42 M520 72.4 V47.4 M535.4 72.4 V65" fill="none" stroke="#222" stroke-width="0.6"/>
<path d="M393.9 72.4 V70.49 M423.9 72.4 V57.53 M444.5 72.4 V68.28 M444.7 72.4 V68.51 M475.7 72.4 V62.61 M490.3 72.4 V63.19 M501.9 72.4 V65.61" fill="none" stroke="#000" stroke-width="0.9"/>
<path d="M388.22 72.4 V71.45 M535.75 72.4 V68.35 M388.19 72.4 V71.45 M420.02 72.4 V66.61 M416.74 72.4 V69.63 M528.54 72.4 V69.89 M526.8 72.4 V71.34 M406.33 72.4 V71.45 M501.3 72.4 V71.44 M535.28 72.4 V69.3 M411.61 72.4 V68.3 M407.81 72.4 V70.64 M398.84 72.4 V68.53 M522.14 72.4 V66.83 M382.56 72.4 V67.75 M469.64 72.4 V68.13 M461.24 72.4 V70.02 M475.72 72.4 V68.38 M394.41 72.4 V71.45 M468 72.4 V71.3 M444.64 72.4 V71.45 M499.39 72.4 V71.45 M512.71 72.4 V68.24 M454.24 72.4 V71.44 M484.45 72.4 V71.4 M449.69 72.4 V71.44 M535.8 72.4 V70.47 M437.65 72.4 V71.45 M497.06 72.4 V67.77 M515.64 72.4 V71.44 M440.02 72.4 V71.28 M502.13 72.4 V71.43 M477.59 72.4 V65.83 M503.13 72.4 V71.45 M394 72.4 V71.44 M491.12 72.4 V70.16 M464.02 72.4 V70.88 M446.28 72.4 V70.08 M484.22 72.4 V66.83 M497.45 72.4 V68.42 M525.79 72.4 V67.93 M494.93 72.4 V71.45 M489.3 72.4 V67.77 M449.96 72.4 V67.39 M410.48 72.4 V66.42 M451.69 72.4 V69.33 M421.94 72.4 V71.29 M437.02 72.4 V71.25 M397.1 72.4 V70.93 M536.49 72.4 V69.77 M528.84 72.4 V68.79 M513.83 72.4 V65.55 M500.6 72.4 V71.33 M421.49 72.4 V71.03 M385.49 72.4 V71.38 M521.61 72.4 V66.76 M433.91 72.4 V68.71 M504.1 72.4 V67.22 M507.19 72.4 V70.55 M398.69 72.4 V68.08 M431.54 72.4 V69.97 M439.95 72.4 V70.52 M534.1 72.4 V71.42 M465.71 72.4 V69.8 M466.89 72.4 V66.5 M446.3 72.4 V66.87 M490.7 72.4 V66.02 M396.3 72.4 V71.39 M427.41 72.4 V66.98 M384.34 72.4 V71.34" fill="none" stroke="#000" stroke-width="0.8"/>
<rect x="116.2" y="323.5" width="147" height="104.7" fill="#fff"/>
<line x1="116.2" y1="323.5" x2="116.2" y2="428.2" stroke="#666" stroke-width="0.9"/>
<line x1="116.2" y1="428.2" x2="263.2" y2="428.2" stroke="#666" stroke-width="0.9"/>
<line x1="114.6" y1="428.2" x2="116.2" y2="428.2" stroke="#555" stroke-width="0.7"/>
<text x="113.2" y="428.2" font-size="4.8" text-anchor="end" font-weight="normal" font-style="normal" fill="#555" dominant-baseline="central">0</text>
<line x1="114.6" y1="402.05" x2="116.2" y2="402.05" stroke="#555" stroke-width="0.7"/>
<text x="113.2" y="402.05" font-size="4.8" text-anchor="end" font-weight="normal" font-style="normal" fill="#555" dominant-baseline="central">50</text>
<line x1="114.6" y1="375.9" x2="116.2" y2="375.9" stroke="#555" stroke-width="0.7"/>
<text x="113.2" y="375.9" font-size="4.8" text-anchor="end" font-weight="normal" font-style="normal" fill="#555" dominant-baseline="central">100</text>
<line x1="114.6" y1="349.75" x2="116.2" y2="349.75" stroke="#555" stroke-width="0.7"/>
<text x="113.2" y="349.75" font-size="4.8" text-anchor="end" font-weight="normal" font-style="normal" fill="#555" dominant-baseline="central">150</text>
<line x1="114.6" y1="323.6" x2="116.2" y2="323.6" stroke="#555" stroke-width="0.7"/>
<text x="113.2" y="323.6" font-size="4.8" text-anchor="end" font-weight="normal" font-style="normal" fill="#555" dominant-baseline="central">200</text>
<line x1="115.8" y1="428.2" x2="115.8" y2="429.7" stroke="#555" stroke-width="0.7"/>
<text x="115.8" y="434" font-size="4.8" text-anchor="middle" font-weight="normal" font-style="normal" fill="#555" dominant-baseline="central">0.0</text>
<line x1="145.28" y1="428.2" x2="145.28" y2="429.7" stroke="#555" stroke-width="0.7"/>
<text x="145.28" y="434" font-size="4.8" text-anchor="middle" font-weight="normal" font-style="normal" fill="#555" dominant-baseline="central">0.2</text>
<line x1="174.76" y1="428.2" x2="174.76" y2="429.7" stroke="#555" stroke-width="0.7"/>
<text x="174.76" y="434" font-size="4.8" text-anchor="middle" font-weight="normal" font-style="normal" fill="#555" dominant-baseline="central">0.4</text>
<line x1="204.24" y1="428.2" x2="204.24" y2="429.7" stroke="#555" stroke-width="0.7"/>
<text x="204.24" y="434" font-size="4.8" text-anchor="middle" font-weight="normal" font-style="normal" fill="#555" dominant-baseline="central">0.6</text>
<line x1="233.72" y1="428.2" x2="233.72" y2="429.7" stroke="#555" stroke-width="0.7"/>
<text x="233.72" y="434" font-size="4.8" text-anchor="middle" font-weight="normal" font-style="normal" fill="#555" dominant-baseline="central">0.8</text>
<line x1="263.2" y1="428.2" x2="263.2" y2="429.7" stroke="#555" stroke-width="0.7"/>
<text x="263.2" y="434" font-size="4.8" text-anchor="middle" font-weight="normal" font-style="normal" fill="#555" dominant-baseline="central">1.0</text>
<text x="97.3" y="376.8" font-size="6.3" text-anchor="middle" font-weight="normal" font-style="normal" fill="#333" dominant-baseline="central" transform="rotate(-90 97.3 376.8)">Peaks</text>
<text x="189.8" y="445" font-size="6.5" text-anchor="middle" font-weight="normal" font-style="normal" fill="#111" dominant-baseline="central">Time, s</text>
<text x="146.9" y="309.9" font-size="8.9" text-anchor="middle" font-weight="bold" font-style="italic" fill="#111" dominant-baseline="central">B. subtilis</text>
<rect x="115.8" y="427.1" width="147.4" height="1.8" fill="#ff0000"/>
<path d="M115.8 428 L115.8 426.53 L116.3 426.31 L116.8 426.96 L117.3 426.75 L117.81 426.55 L118.31 426.55 L118.81 426.5 L119.31 426.5 L119.81 426.9 L120.31 426.89 L120.81 427.08 L121.31 426.55 L121.82 426.93 L122.32 426.89 L122.82 426.33 L123.32 426.59 L123.82 426.63 L124.32 426.58 L124.82 426.62 L125.33 426.54 L125.83 426.86 L126.33 427.05 L126.83 427.05 L127.33 427.09 L127.83 426.81 L128.33 426.99 L128.84 427.01 L129.34 426.71 L129.84 426.32 L130.34 426.55 L130.84 426.88 L131.34 426.48 L131.84 426.96 L132.34 427.02 L132.85 426.86 L133.35 426.77 L133.85 426.55 L134.35 426.74 L134.85 426.52 L135.35 427.02 L135.85 426.35 L136.36 426.83 L136.86 426.43 L137.36 427.08 L137.86 426.44 L138.36 426.92 L138.86 426.42 L139.36 426.46 L139.87 426.56 L140.37 426.88 L140.87 427.09 L141.37 426.95 L141.87 426.38 L142.37 426.97 L142.87 426.57 L143.37 426.63 L143.88 426.57 L144.38 426.96 L144.88 426.99 L145.38 427.02 L145.88 426.31 L146.38 426.79 L146.88 426.58 L147.39 426.64 L147.89 426.92 L148.39 427.05 L148.89 427.09 L149.39 426.42 L149.89 427 L150.39 426.33 L150.9 426.81 L151.4 426.52 L151.9 426.99 L152.4 426.47 L152.9 426.9 L153.4 426.81 L153.9 426.68 L154.4 427.01 L154.91 426.9 L155.41 426.46 L155.91 426.87 L156.41 426.8 L156.91 426.49 L157.41 426.92 L157.91 426.94 L158.42 426.92 L158.92 426.79 L159.42 426.81 L159.92 426.59 L160.42 426.72 L160.92 426.4 L161.42 427.06 L161.93 426.57 L162.43 426.43 L162.93 426.91 L163.43 427.08 L163.93 426.75 L164.43 427.01 L164.93 426.73 L165.43 426.53 L165.94 427.03 L166.44 427.01 L166.94 426.72 L167.44 426.96 L167.94 426.92 L168.44 426.75 L168.94 427.01 L169.45 427.05 L169.95 426.81 L170.45 426.72 L170.95 426.35 L171.45 426.66 L171.95 427.04 L172.45 426.92 L172.96 426.5 L173.46 426.65 L173.96 426.4 L174.46 426.33 L174.96 426.41 L175.46 427.01 L175.96 426.35 L176.46 426.68 L176.97 426.91 L177.47 426.96 L177.97 426.41 L178.47 426.93 L178.97 427.03 L179.47 426.89 L179.97 426.36 L180.48 426.73 L180.98 426.51 L181.48 427.04 L181.98 426.74 L182.48 426.85 L182.98 426.94 L183.48 426.57 L183.99 426.81 L184.49 427 L184.99 426.31 L185.49 426.71 L185.99 426.96 L186.49 427.09 L186.99 426.58 L187.49 426.69 L188 427.08 L188.5 426.72 L189 426.51 L189.5 426.67 L190 426.91 L190.5 426.7 L191 426.62 L191.51 426.58 L192.01 426.98 L192.51 426.46 L193.01 426.34 L193.51 426.51 L194.01 426.41 L194.51 426.81 L195.01 426.38 L195.52 426.95 L196.02 426.92 L196.52 426.62 L197.02 426.38 L197.52 427.03 L198.02 426.93 L198.52 427.07 L199.03 426.75 L199.53 426.99 L200.03 426.95 L200.53 426.5 L201.03 426.63 L201.53 426.35 L202.03 426.78 L202.54 426.56 L203.04 427.09 L203.54 426.34 L204.04 426.91 L204.54 426.72 L205.04 426.69 L205.54 426.34 L206.04 426.71 L206.55 426.31 L207.05 426.6 L207.55 426.93 L208.05 426.43 L208.55 426.94 L209.05 426.3 L209.55 426.73 L210.06 426.92 L210.56 426.33 L211.06 426.84 L211.56 426.77 L212.06 426.83 L212.56 426.57 L213.06 427.08 L213.57 426.8 L214.07 426.97 L214.57 426.44 L215.07 427.1 L215.57 426.61 L216.07 426.89 L216.57 426.74 L217.07 426.65 L217.58 426.53 L218.08 426.99 L218.58 426.91 L219.08 427 L219.58 426.33 L220.08 426.98 L220.58 426.99 L221.09 426.68 L221.59 426.63 L222.09 426.39 L222.59 427.05 L223.09 426.91 L223.59 426.97 L224.09 426.63 L224.6 426.74 L225.1 426.77 L225.6 426.39 L226.1 426.57 L226.6 426.41 L227.1 426.33 L227.6 426.88 L228.1 426.35 L228.61 426.77 L229.11 427.06 L229.61 426.37 L230.11 427.02 L230.61 427.09 L231.11 426.87 L231.61 426.87 L232.12 426.33 L232.62 426.4 L233.12 426.76 L233.62 426.68 L234.12 426.42 L234.62 426.45 L235.12 426.58 L235.63 426.69 L236.13 427.01 L236.63 426.91 L237.13 426.57 L237.63 426.63 L238.13 426.46 L238.63 426.38 L239.13 426.33 L239.64 426.95 L240.14 427.04 L240.64 426.38 L241.14 426.64 L241.64 426.95 L242.14 426.55 L242.64 426.9 L243.15 426.91 L243.65 426.81 L244.15 426.68 L244.65 426.56 L245.15 427.04 L245.65 426.51 L246.15 426.6 L246.66 426.72 L247.16 426.56 L247.66 426.46 L248.16 427.09 L248.66 426.72 L249.16 426.56 L249.66 426.53 L250.16 426.58 L250.67 426.96 L251.17 426.33 L251.67 426.47 L252.17 426.91 L252.67 426.76 L253.17 426.33 L253.67 426.93 L254.18 426.77 L254.68 426.33 L255.18 426.38 L255.68 426.91 L256.18 426.51 L256.68 426.81 L257.18 426.57 L257.69 426.49 L258.19 427 L258.69 426.92 L259.19 426.93 L259.69 426.89 L260.19 427.07 L260.69 426.99 L261.19 426.78 L261.7 426.76 L262.2 427.04 L262.7 426.63 L263.2 426.35 L263.2 428 Z" fill="#ff0000"/>
<path d="M200.84 428 V427.03 M219.63 428 V426.97 M141.66 428 V426.93 M118.4 428 V426.64 M139.52 428 V427.02 M257.67 428 V426.42 M238.96 428 V426.7 M209.34 428 V426.57 M258.24 428 V427.09 M228.74 428 V427.06 M153.5 428 V426.27 M204.41 428 V426.18 M244.79 428 V426.79 M145.03 428 V427.1 M194.64 428 V426.53 M155.96 428 V427.1 M116.5 428 V427.09 M218.37 428 V427.1 M149.7 428 V427.07 M220.62 428 V425.66 M118.65 428 V427.1 M253.56 428 V425.73 M137.71 428 V427.04 M192.79 428 V427.05 M177.32 428 V426.94 M153.91 428 V427.1 M128.17 428 V427.09 M129.27 428 V426.74 M218.48 428 V427.07 M232.5 428 V426.52" fill="none" stroke="#ff0000" stroke-width="0.8"/>
<rect x="115.8" y="416.1" width="147.4" height="2" fill="#00ff00"/>
<path d="M115.8 417.1 L115.8 415.76 L116.3 415.61 L116.8 415.91 L117.3 415.17 L117.81 415.54 L118.31 416.05 L118.81 415.95 L119.31 415.41 L119.81 415.71 L120.31 415.38 L120.81 415.87 L121.31 415.3 L121.82 415.3 L122.32 416.01 L122.82 415.51 L123.32 415.91 L123.82 415.39 L124.32 415.3 L124.82 415.31 L125.33 415.87 L125.83 416.01 L126.33 415.44 L126.83 415.53 L127.33 415.96 L127.83 415.91 L128.33 415.52 L128.84 415.99 L129.34 415.47 L129.84 415.86 L130.34 415.84 L130.84 415.68 L131.34 415.57 L131.84 415.38 L132.34 416.07 L132.85 415.38 L133.35 415.88 L133.85 415.81 L134.35 415.46 L134.85 415.41 L135.35 415.49 L135.85 415.2 L136.36 415.9 L136.86 415.79 L137.36 415.44 L137.86 415.84 L138.36 415.94 L138.86 415.87 L139.36 415.33 L139.87 415.27 L140.37 415.38 L140.87 415.14 L141.37 415.31 L141.87 415.79 L142.37 415.78 L142.87 415.38 L143.37 416.04 L143.88 415.49 L144.38 416.01 L144.88 416.05 L145.38 415.59 L145.88 415.95 L146.38 415.17 L146.88 415.22 L147.39 415.64 L147.89 415.9 L148.39 415.98 L148.89 415.59 L149.39 415.58 L149.89 415.74 L150.39 415.38 L150.9 415.57 L151.4 415.32 L151.9 415.99 L152.4 416.03 L152.9 415.71 L153.4 415.62 L153.9 415.85 L154.4 415.43 L154.91 415.88 L155.41 415.78 L155.91 415.62 L156.41 415.39 L156.91 415.33 L157.41 415.73 L157.91 415.65 L158.42 415.17 L158.92 415.17 L159.42 415.48 L159.92 416 L160.42 415.64 L160.92 415.46 L161.42 415.82 L161.93 416.06 L162.43 415.12 L162.93 415.19 L163.43 415.97 L163.93 415.63 L164.43 415.48 L164.93 415.8 L165.43 416.03 L165.94 415.35 L166.44 415.33 L166.94 415.66 L167.44 416.01 L167.94 415.71 L168.44 416.01 L168.94 415.14 L169.45 416.05 L169.95 415.81 L170.45 415.33 L170.95 415.96 L171.45 415.99 L171.95 416.03 L172.45 415.94 L172.96 415.57 L173.46 415.27 L173.96 415.93 L174.46 415.93 L174.96 415.34 L175.46 415.67 L175.96 415.76 L176.46 415.98 L176.97 415.86 L177.47 415.13 L177.97 415.98 L178.47 415.84 L178.97 415.36 L179.47 415.21 L179.97 415.2 L180.48 415.63 L180.98 415.14 L181.48 415.5 L181.98 415.81 L182.48 415.63 L182.98 415.38 L183.48 415.37 L183.99 415.97 L184.49 415.91 L184.99 415.14 L185.49 415.99 L185.99 415.29 L186.49 415.76 L186.99 415.85 L187.49 415.84 L188 415.63 L188.5 415.11 L189 415.95 L189.5 415.25 L190 415.78 L190.5 415.93 L191 415.36 L191.51 415.76 L192.01 415.91 L192.51 415.68 L193.01 415.28 L193.51 415.24 L194.01 415.53 L194.51 416.09 L195.01 415.34 L195.52 415.49 L196.02 415.2 L196.52 415.15 L197.02 415.77 L197.52 415.25 L198.02 415.28 L198.52 415.83 L199.03 415.73 L199.53 415.73 L200.03 415.75 L200.53 415.72 L201.03 415.99 L201.53 415.87 L202.03 415.19 L202.54 415.69 L203.04 415.46 L203.54 415.21 L204.04 415.34 L204.54 415.86 L205.04 415.18 L205.54 415.3 L206.04 415.11 L206.55 415.37 L207.05 415.35 L207.55 415.29 L208.05 415.85 L208.55 415.44 L209.05 415.72 L209.55 415.26 L210.06 415.97 L210.56 415.56 L211.06 415.76 L211.56 415.28 L212.06 415.75 L212.56 415.26 L213.06 415.25 L213.57 415.22 L214.07 415.96 L214.57 415.16 L215.07 415.36 L215.57 415.42 L216.07 415.45 L216.57 416.05 L217.07 415.23 L217.58 415.55 L218.08 415.64 L218.58 415.76 L219.08 415.32 L219.58 415.32 L220.08 415.23 L220.58 415.89 L221.09 415.76 L221.59 415.85 L222.09 416 L222.59 415.77 L223.09 416.07 L223.59 415.3 L224.09 415.87 L224.6 416.03 L225.1 416.03 L225.6 415.36 L226.1 415.9 L226.6 415.64 L227.1 415.7 L227.6 415.3 L228.1 415.15 L228.61 415.79 L229.11 415.47 L229.61 415.21 L230.11 415.63 L230.61 415.2 L231.11 415.37 L231.61 415.79 L232.12 415.23 L232.62 415.53 L233.12 415.99 L233.62 415.51 L234.12 415.27 L234.62 415.58 L235.12 415.62 L235.63 415.68 L236.13 415.22 L236.63 415.43 L237.13 415.89 L237.63 415.74 L238.13 415.74 L238.63 415.14 L239.13 415.4 L239.64 415.98 L240.14 415.19 L240.64 416.07 L241.14 415.51 L241.64 415.67 L242.14 415.38 L242.64 415.67 L243.15 416.01 L243.65 415.58 L244.15 415.28 L244.65 415.31 L245.15 415.74 L245.65 415.88 L246.15 415.36 L246.66 415.3 L247.16 415.88 L247.66 415.22 L248.16 415.11 L248.66 415.67 L249.16 415.72 L249.66 415.39 L250.16 415.17 L250.67 415.9 L251.17 415.8 L251.67 415.77 L252.17 415.37 L252.67 415.91 L253.17 415.55 L253.67 415.6 L254.18 415.43 L254.68 415.96 L255.18 415.14 L255.68 415.1 L256.18 415.54 L256.68 415.3 L257.18 415.92 L257.69 415.19 L258.19 415.55 L258.69 415.34 L259.19 415.23 L259.69 415.74 L260.19 415.18 L260.69 415.89 L261.19 416.08 L261.7 415.6 L262.2 415.2 L262.7 415.2 L263.2 415.15 L263.2 417.1 Z" fill="#00ff00"/>
<path d="M191.09 417.1 V414.88 M198.34 417.1 V416.1 M208.82 417.1 V415.32 M178.28 417.1 V415.77 M154 417.1 V416.07 M177.75 417.1 V415.9 M184.83 417.1 V416.1 M116.64 417.1 V416.04 M221.47 417.1 V415.47 M150.74 417.1 V416.07 M191.96 417.1 V416.09 M204.67 417.1 V414.99 M145.57 417.1 V415.8 M222.04 417.1 V415.47 M220.76 417.1 V415.56 M155.97 417.1 V415.22 M252.16 417.1 V416.1 M254.96 417.1 V415.97 M128.53 417.1 V416.1 M233.26 417.1 V415.63 M136.75 417.1 V415.95 M209.95 417.1 V414.61 M165.33 417.1 V415.42 M151.93 417.1 V416.09 M139.56 417.1 V416 M206.92 417.1 V416.06 M139.67 417.1 V416.08 M128.33 417.1 V416.09 M162.35 417.1 V415.91 M142.86 417.1 V415.93" fill="none" stroke="#00ff00" stroke-width="0.8"/>
<rect x="115.8" y="405.5" width="147.4" height="2.2" fill="#0000ff"/>
<path d="M115.8 406.6 L115.8 404.97 L116.3 404.33 L116.8 404.92 L117.3 404.37 L117.81 404.93 L118.31 405.26 L118.81 404.79 L119.31 405.33 L119.81 405.3 L120.31 405.41 L120.81 404.66 L121.31 404.34 L121.82 405.02 L122.32 405.08 L122.82 404.99 L123.32 405.08 L123.82 404.67 L124.32 405.03 L124.82 405.32 L125.33 404.46 L125.83 404.81 L126.33 405.49 L126.83 404.48 L127.33 404.63 L127.83 405.07 L128.33 404.74 L128.84 404.4 L129.34 405.02 L129.84 404.98 L130.34 405.14 L130.84 404.83 L131.34 404.7 L131.84 404.62 L132.34 404.36 L132.85 405.33 L133.35 405.06 L133.85 404.48 L134.35 404.55 L134.85 404.79 L135.35 404.69 L135.85 405.09 L136.36 404.37 L136.86 404.84 L137.36 405.02 L137.86 405.28 L138.36 405.36 L138.86 404.42 L139.36 404.54 L139.87 405.47 L140.37 405.11 L140.87 404.92 L141.37 404.91 L141.87 405.06 L142.37 404.43 L142.87 405.08 L143.37 404.86 L143.88 404.38 L144.38 404.73 L144.88 404.93 L145.38 405.1 L145.88 405.04 L146.38 404.77 L146.88 404.56 L147.39 405.19 L147.89 405.06 L148.39 405.03 L148.89 405.06 L149.39 404.4 L149.89 404.85 L150.39 405.17 L150.9 405.1 L151.4 404.51 L151.9 405.31 L152.4 404.67 L152.9 405.47 L153.4 405.27 L153.9 405.43 L154.4 404.53 L154.91 405.32 L155.41 405.23 L155.91 405.43 L156.41 405.18 L156.91 404.62 L157.41 404.64 L157.91 404.41 L158.42 404.36 L158.92 404.84 L159.42 404.39 L159.92 405.39 L160.42 404.39 L160.92 404.98 L161.42 405.27 L161.93 404.6 L162.43 404.47 L162.93 405.04 L163.43 405.39 L163.93 404.45 L164.43 404.6 L164.93 404.78 L165.43 404.33 L165.94 405.45 L166.44 405.43 L166.94 405.35 L167.44 405.47 L167.94 404.65 L168.44 404.74 L168.94 405.37 L169.45 405.31 L169.95 405.28 L170.45 404.77 L170.95 404.69 L171.45 404.34 L171.95 405.07 L172.45 404.33 L172.96 404.98 L173.46 405.03 L173.96 405.2 L174.46 405.22 L174.96 404.33 L175.46 404.31 L175.96 404.65 L176.46 405.29 L176.97 405.28 L177.47 405.32 L177.97 405.08 L178.47 404.62 L178.97 405.43 L179.47 404.86 L179.97 404.68 L180.48 405.46 L180.98 404.97 L181.48 404.55 L181.98 404.81 L182.48 404.96 L182.98 404.44 L183.48 404.78 L183.99 405.1 L184.49 405.02 L184.99 404.37 L185.49 404.47 L185.99 404.4 L186.49 404.83 L186.99 405.33 L187.49 405.29 L188 405.04 L188.5 404.67 L189 405.49 L189.5 404.54 L190 404.56 L190.5 404.88 L191 405.49 L191.51 404.54 L192.01 405 L192.51 404.7 L193.01 404.82 L193.51 404.63 L194.01 405.01 L194.51 404.35 L195.01 404.35 L195.52 404.39 L196.02 404.76 L196.52 405.12 L197.02 405.05 L197.52 405.18 L198.02 404.42 L198.52 404.55 L199.03 404.55 L199.53 404.51 L200.03 404.31 L200.53 404.67 L201.03 405.12 L201.53 404.59 L202.03 405.19 L202.54 404.77 L203.04 405.31 L203.54 404.47 L204.04 404.91 L204.54 405.17 L205.04 404.39 L205.54 405.4 L206.04 404.38 L206.55 404.59 L207.05 405.32 L207.55 404.59 L208.05 404.81 L208.55 404.41 L209.05 404.8 L209.55 404.99 L210.06 404.38 L210.56 405.4 L211.06 404.57 L211.56 405.38 L212.06 405.17 L212.56 405.36 L213.06 404.45 L213.57 404.97 L214.07 404.63 L214.57 405.19 L215.07 404.62 L215.57 404.72 L216.07 405.38 L216.57 404.91 L217.07 404.63 L217.58 405.24 L218.08 404.71 L218.58 405.17 L219.08 405.06 L219.58 404.4 L220.08 404.37 L220.58 404.3 L221.09 404.99 L221.59 404.81 L222.09 404.53 L222.59 404.59 L223.09 404.95 L223.59 404.46 L224.09 405.02 L224.6 404.36 L225.1 404.93 L225.6 405.36 L226.1 404.6 L226.6 405.33 L227.1 404.68 L227.6 405.44 L228.1 404.31 L228.61 404.85 L229.11 404.61 L229.61 405.34 L230.11 404.74 L230.61 405.05 L231.11 405.2 L231.61 404.52 L232.12 405.46 L232.62 404.93 L233.12 405.4 L233.62 404.48 L234.12 404.43 L234.62 405.46 L235.12 404.94 L235.63 404.94 L236.13 404.64 L236.63 404.63 L237.13 405.09 L237.63 404.38 L238.13 405.28 L238.63 405.34 L239.13 404.52 L239.64 405.36 L240.14 405.28 L240.64 404.9 L241.14 405.1 L241.64 405.3 L242.14 404.38 L242.64 404.93 L243.15 404.56 L243.65 405.2 L244.15 404.4 L244.65 405.23 L245.15 404.41 L245.65 404.76 L246.15 404.33 L246.66 404.57 L247.16 404.74 L247.66 404.86 L248.16 404.47 L248.66 404.97 L249.16 405.38 L249.66 404.4 L250.16 404.53 L250.67 404.68 L251.17 404.61 L251.67 405.22 L252.17 404.94 L252.67 404.51 L253.17 404.35 L253.67 404.39 L254.18 405.31 L254.68 404.68 L255.18 404.84 L255.68 405.01 L256.18 405.3 L256.68 405.34 L257.18 404.94 L257.69 404.91 L258.19 405.18 L258.69 405.06 L259.19 404.84 L259.69 404.59 L260.19 404.79 L260.69 405.31 L261.19 404.44 L261.7 405.06 L262.2 404.35 L262.7 404.32 L263.2 405.33 L263.2 406.6 Z" fill="#0000ff"/>
<path d="M201.63 406.6 V404.14 M172.55 406.6 V405.25 M162.06 406.6 V405.5 M145.95 406.6 V405.5 M157.7 406.6 V405.13 M198.79 406.6 V404.22 M216.84 406.6 V405.43 M255.74 406.6 V405.12 M195.87 406.6 V404.54 M214.54 406.6 V405.43 M204.95 406.6 V405.46 M258.67 406.6 V405.48 M259.2 406.6 V405.5 M117.25 406.6 V405.25 M146.13 406.6 V405.3 M133.22 406.6 V404.62 M214.42 406.6 V405.02 M252.39 406.6 V404.04 M215.77 406.6 V404.96 M116.06 406.6 V405.5 M178.67 406.6 V404.13 M161.94 406.6 V405.22 M117.1 406.6 V405.39 M248.83 406.6 V405.19 M237.31 406.6 V405.5 M145.68 406.6 V405.49 M238.48 406.6 V405.5 M253.19 406.6 V405.47 M245.58 406.6 V405.29 M163.48 406.6 V404.15" fill="none" stroke="#0000ff" stroke-width="0.8"/>
<rect x="115.8" y="395.3" width="147.4" height="2.2" fill="#ff00ff"/>
<path d="M115.8 396.4 L115.8 394.81 L116.3 394.46 L116.8 395.22 L117.3 394.3 L117.81 394.12 L118.31 395.17 L118.81 394.4 L119.31 394.98 L119.81 395.12 L120.31 394.86 L120.81 394.51 L121.31 394.16 L121.82 394.11 L122.32 394.11 L122.82 394.55 L123.32 394.52 L123.82 395.11 L124.32 394.43 L124.82 394.64 L125.33 394.87 L125.83 394.22 L126.33 394.99 L126.83 395.13 L127.33 395.11 L127.83 395.12 L128.33 394.59 L128.84 394.34 L129.34 395.11 L129.84 394.7 L130.34 394.61 L130.84 394.63 L131.34 394.8 L131.84 394.65 L132.34 395.28 L132.85 395.23 L133.35 394.79 L133.85 395.02 L134.35 394.39 L134.85 395.01 L135.35 394.31 L135.85 395.01 L136.36 395.19 L136.86 394.73 L137.36 394.83 L137.86 394.9 L138.36 394.38 L138.86 395.03 L139.36 394.5 L139.87 394.3 L140.37 394.76 L140.87 394.7 L141.37 394.19 L141.87 394.58 L142.37 395.08 L142.87 395.22 L143.37 395.2 L143.88 394.9 L144.38 395.19 L144.88 394.52 L145.38 394.79 L145.88 394.93 L146.38 394.69 L146.88 394.18 L147.39 395.01 L147.89 395.11 L148.39 394.93 L148.89 394.91 L149.39 394.21 L149.89 394.45 L150.39 394.79 L150.9 395.1 L151.4 395.25 L151.9 395.15 L152.4 394.28 L152.9 394.52 L153.4 395.11 L153.9 394.55 L154.4 395.23 L154.91 394.69 L155.41 394.9 L155.91 395.18 L156.41 394.41 L156.91 394.44 L157.41 394.69 L157.91 395.1 L158.42 394.5 L158.92 394.78 L159.42 394.51 L159.92 395.19 L160.42 394.22 L160.92 395.3 L161.42 395.03 L161.93 394.82 L162.43 395.06 L162.93 395.19 L163.43 394.48 L163.93 394.11 L164.43 394.9 L164.93 394.98 L165.43 394.5 L165.94 395.03 L166.44 394.82 L166.94 394.47 L167.44 394.78 L167.94 395.11 L168.44 395.22 L168.94 394.65 L169.45 394.11 L169.95 394.2 L170.45 395.18 L170.95 394.7 L171.45 394.71 L171.95 395.07 L172.45 394.5 L172.96 394.71 L173.46 394.33 L173.96 394.95 L174.46 394.18 L174.96 394.32 L175.46 394.73 L175.96 395.13 L176.46 394.72 L176.97 395.15 L177.47 394.48 L177.97 394.46 L178.47 394.61 L178.97 394.13 L179.47 395.25 L179.97 394.44 L180.48 394.34 L180.98 395.16 L181.48 394.91 L181.98 395.24 L182.48 394.6 L182.98 394.43 L183.48 394.88 L183.99 394.47 L184.49 394.86 L184.99 394.45 L185.49 394.97 L185.99 394.13 L186.49 394.77 L186.99 395.3 L187.49 395.19 L188 394.43 L188.5 394.26 L189 394.54 L189.5 395.11 L190 394.25 L190.5 394.44 L191 395.16 L191.51 394.84 L192.01 394.49 L192.51 395.3 L193.01 395.25 L193.51 394.88 L194.01 394.25 L194.51 394.1 L195.01 394.92 L195.52 394.21 L196.02 394.36 L196.52 394.26 L197.02 394.59 L197.52 394.14 L198.02 394.53 L198.52 394.16 L199.03 394.62 L199.53 395.06 L200.03 394.68 L200.53 394.72 L201.03 394.9 L201.53 394.85 L202.03 394.69 L202.54 394.59 L203.04 395.03 L203.54 394.97 L204.04 394.7 L204.54 394.7 L205.04 394.8 L205.54 394.5 L206.04 395.08 L206.55 394.66 L207.05 394.97 L207.55 394.38 L208.05 394.46 L208.55 394.36 L209.05 394.68 L209.55 395 L210.06 394.19 L210.56 394.69 L211.06 394.85 L211.56 394.95 L212.06 394.82 L212.56 394.45 L213.06 394.32 L213.57 394.72 L214.07 394.42 L214.57 395.04 L215.07 394.76 L215.57 394.87 L216.07 394.93 L216.57 394.87 L217.07 394.39 L217.58 394.42 L218.08 395.05 L218.58 395.02 L219.08 394.36 L219.58 394.51 L220.08 394.49 L220.58 394.54 L221.09 394.47 L221.59 394.97 L222.09 395.23 L222.59 394.87 L223.09 395.26 L223.59 394.15 L224.09 394.67 L224.6 394.5 L225.1 394.14 L225.6 394.33 L226.1 395.02 L226.6 394.9 L227.1 395.17 L227.6 394.35 L228.1 394.42 L228.61 394.71 L229.11 394.86 L229.61 394.98 L230.11 394.72 L230.61 394.45 L231.11 394.23 L231.61 394.28 L232.12 394.26 L232.62 394.77 L233.12 394.79 L233.62 394.92 L234.12 394.13 L234.62 395.08 L235.12 395.11 L235.63 394.96 L236.13 394.19 L236.63 394.28 L237.13 394.9 L237.63 394.28 L238.13 394.23 L238.63 394.79 L239.13 395.07 L239.64 394.37 L240.14 394.85 L240.64 395.16 L241.14 394.22 L241.64 394.77 L242.14 394.82 L242.64 394.59 L243.15 394.99 L243.65 395.28 L244.15 394.83 L244.65 394.84 L245.15 395.29 L245.65 394.85 L246.15 394.39 L246.66 394.9 L247.16 394.48 L247.66 394.55 L248.16 395.07 L248.66 395.28 L249.16 394.49 L249.66 394.57 L250.16 394.95 L250.67 395.06 L251.17 394.27 L251.67 394.21 L252.17 395.02 L252.67 394.6 L253.17 394.61 L253.67 394.91 L254.18 395.26 L254.68 394.91 L255.18 394.53 L255.68 394.58 L256.18 394.69 L256.68 395.15 L257.18 395.04 L257.69 394.93 L258.19 394.8 L258.69 394.86 L259.19 394.22 L259.69 395.16 L260.19 394.12 L260.69 395.01 L261.19 394.27 L261.7 395.01 L262.2 394.6 L262.7 394.85 L263.2 395.25 L263.2 396.4 Z" fill="#ff00ff"/>
<path d="M233.19 396.4 V394.24 M155.48 396.4 V394.36 M186.43 396.4 V393.38 M123.82 396.4 V395.19 M149.38 396.4 V394.81 M230.47 396.4 V394.11 M196.63 396.4 V395.18 M233.67 396.4 V395.3 M154.12 396.4 V394.45 M180.72 396.4 V393.34 M129.21 396.4 V395.1 M147.12 396.4 V395.3 M129.58 396.4 V395.3 M170.18 396.4 V395.14 M190.65 396.4 V395.25 M219.27 396.4 V395.03 M260.52 396.4 V395.29 M191.06 396.4 V395.06 M170.61 396.4 V394.02 M146.68 396.4 V393.95 M168.54 396.4 V395.22 M206.42 396.4 V394.94 M157.66 396.4 V395.3 M256.6 396.4 V395.2 M132.66 396.4 V394.73 M194.22 396.4 V395.23 M164.21 396.4 V394.09 M165.71 396.4 V395.15 M256.85 396.4 V395.21 M175.06 396.4 V395.29" fill="none" stroke="#ff00ff" stroke-width="0.8"/>
<rect x="115.8" y="384.6" width="147.4" height="2.8" fill="#000"/>
<path d="M115.8 386 L115.8 383.67 L116.3 383.67 L116.8 383.98 L117.3 384.03 L117.81 384.27 L118.31 383.49 L118.81 383.96 L119.31 383.44 L119.81 384.08 L120.31 383.57 L120.81 384.56 L121.31 384.29 L121.82 383.26 L122.32 383.64 L122.82 383.65 L123.32 383.9 L123.82 383.94 L124.32 384.32 L124.82 384.36 L125.33 383.7 L125.83 383.63 L126.33 384.24 L126.83 383.7 L127.33 384.41 L127.83 383.74 L128.33 384.36 L128.84 383.89 L129.34 384.16 L129.84 383.83 L130.34 384.41 L130.84 383.92 L131.34 383.74 L131.84 384.41 L132.34 384.17 L132.85 383.65 L133.35 383.84 L133.85 383.74 L134.35 383.51 L134.85 383.8 L135.35 384.29 L135.85 383.98 L136.36 383.44 L136.86 383.81 L137.36 383.55 L137.86 384.09 L138.36 383.97 L138.86 383.24 L139.36 383.45 L139.87 383.69 L140.37 384.45 L140.87 383.74 L141.37 384.55 L141.87 383.29 L142.37 383.24 L142.87 383.58 L143.37 384.23 L143.88 383.42 L144.38 384.35 L144.88 383.44 L145.38 383.87 L145.88 384.58 L146.38 383.35 L146.88 383.98 L147.39 383.44 L147.89 383.64 L148.39 383.85 L148.89 383.39 L149.39 384.32 L149.89 383.34 L150.39 384.13 L150.9 384.56 L151.4 384.13 L151.9 384.51 L152.4 384.5 L152.9 383.73 L153.4 384.43 L153.9 384.38 L154.4 384.19 L154.91 384.21 L155.41 383.31 L155.91 383.33 L156.41 383.38 L156.91 383.21 L157.41 383.98 L157.91 383.49 L158.42 384.21 L158.92 383.3 L159.42 383.47 L159.92 383.57 L160.42 384.28 L160.92 384.47 L161.42 383.3 L161.93 383.83 L162.43 383.74 L162.93 383.39 L163.43 384.4 L163.93 383.62 L164.43 383.95 L164.93 383.5 L165.43 383.96 L165.94 384.32 L166.44 383.26 L166.94 384.21 L167.44 383.56 L167.94 383.44 L168.44 384.25 L168.94 383.63 L169.45 384.05 L169.95 384.29 L170.45 384.3 L170.95 383.26 L171.45 384.08 L171.95 383.89 L172.45 383.9 L172.96 384.56 L173.46 383.55 L173.96 383.56 L174.46 383.37 L174.96 384.1 L175.46 384.31 L175.96 384.11 L176.46 383.57 L176.97 383.68 L177.47 384.03 L177.97 383.87 L178.47 384.38 L178.97 383.31 L179.47 383.94 L179.97 383.89 L180.48 383.5 L180.98 384.32 L181.48 383.59 L181.98 384.11 L182.48 383.46 L182.98 384.47 L183.48 384.21 L183.99 383.71 L184.49 383.92 L184.99 384.07 L185.49 383.79 L185.99 384.3 L186.49 383.99 L186.99 384.6 L187.49 383.48 L188 384.24 L188.5 383.44 L189 383.83 L189.5 383.76 L190 383.72 L190.5 384.42 L191 383.51 L191.51 384.19 L192.01 383.39 L192.51 383.5 L193.01 383.65 L193.51 383.46 L194.01 383.99 L194.51 383.66 L195.01 383.27 L195.52 384.34 L196.02 384.46 L196.52 384.02 L197.02 383.89 L197.52 384.39 L198.02 384.29 L198.52 383.39 L199.03 384.06 L199.53 384.39 L200.03 384.34 L200.53 383.79 L201.03 384.33 L201.53 383.93 L202.03 383.85 L202.54 383.98 L203.04 383.89 L203.54 383.43 L204.04 384.58 L204.54 383.3 L205.04 384.32 L205.54 384.55 L206.04 383.53 L206.55 383.8 L207.05 383.85 L207.55 384.3 L208.05 383.51 L208.55 384.17 L209.05 383.58 L209.55 384.28 L210.06 383.8 L210.56 383.69 L211.06 384.08 L211.56 383.93 L212.06 384.51 L212.56 383.7 L213.06 383.63 L213.57 384.39 L214.07 383.83 L214.57 383.57 L215.07 384.46 L215.57 383.43 L216.07 383.38 L216.57 384.53 L217.07 384.25 L217.58 384.48 L218.08 384.25 L218.58 384.48 L219.08 383.91 L219.58 384.25 L220.08 384.18 L220.58 383.95 L221.09 384.08 L221.59 383.5 L222.09 383.59 L222.59 384.44 L223.09 384.29 L223.59 384.59 L224.09 384.14 L224.6 384.45 L225.1 383.62 L225.6 383.51 L226.1 383.21 L226.6 384.31 L227.1 384.55 L227.6 383.54 L228.1 384.02 L228.61 383.3 L229.11 384.05 L229.61 384.16 L230.11 384.5 L230.61 383.27 L231.11 383.88 L231.61 383.98 L232.12 383.99 L232.62 383.52 L233.12 383.44 L233.62 383.93 L234.12 384.35 L234.62 384.03 L235.12 383.35 L235.63 384.03 L236.13 383.67 L236.63 383.82 L237.13 383.95 L237.63 383.8 L238.13 384.26 L238.63 383.82 L239.13 383.39 L239.64 384.49 L240.14 384.08 L240.64 383.37 L241.14 383.23 L241.64 384.58 L242.14 383.72 L242.64 383.72 L243.15 383.42 L243.65 383.94 L244.15 384.42 L244.65 384.18 L245.15 383.6 L245.65 383.58 L246.15 384.31 L246.66 383.7 L247.16 383.68 L247.66 383.68 L248.16 384.57 L248.66 383.98 L249.16 384.15 L249.66 383.76 L250.16 384.13 L250.67 384.42 L251.17 383.66 L251.67 384.2 L252.17 383.49 L252.67 384.17 L253.17 383.84 L253.67 383.47 L254.18 384.44 L254.68 383.58 L255.18 384.5 L255.68 383.29 L256.18 384.56 L256.68 383.59 L257.18 384.08 L257.69 384.35 L258.19 384.05 L258.69 383.9 L259.19 384.02 L259.69 384.43 L260.19 383.87 L260.69 384.18 L261.19 383.25 L261.7 384.06 L262.2 383.99 L262.7 384.28 L263.2 383.24 L263.2 386 Z" fill="#000"/>
<path d="M116.7 386 V364 M124.5 386 V349.2 M128.5 386 V352.8 M130 386 V369.5 M141.8 386 V375 M156.4 386 V379 M163.3 386 V363.2 M166 386 V371 M167.8 386 V367 M168.5 386 V359 M171.8 386 V369 M180.4 386 V375 M186.4 386 V377 M189.5 386 V345 M180 386 V375.6 M189.2 386 V370 M192.6 386 V374.5 M197.4 386 V346.1 M204.6 386 V332 M209.8 386 V362.5 M211.6 386 V372.3 M222.5 386 V376.2 M225.8 386 V378.8 M232.9 386 V332 M234.5 386 V374.5 M245.8 386 V350.5 M249.3 386 V377 M252.3 386 V373.4 M261.7 386 V368.4" fill="none" stroke="#222" stroke-width="0.6"/>
<path d="M163.23 386 V383.52 M238.52 386 V384.36 M227.13 386 V384.51 M131.94 386 V384.6 M181.98 386 V381.93 M145.73 386 V384.26 M228.24 386 V384.52 M138.3 386 V384.04 M178.5 386 V381.29 M248.07 386 V384.55 M198.47 386 V384.31 M120.79 386 V384.25 M250.76 386 V384.49 M202.2 386 V383.17 M125.1 386 V381.44 M131.89 386 V384.49 M221.32 386 V384.6 M171.14 386 V384.59 M185.57 386 V384.6 M138.07 386 V384.56 M127.81 386 V384.6 M144.47 386 V384.05 M135.99 386 V382.39 M177.25 386 V384.54 M151.32 386 V382.23 M122.71 386 V382.96 M130.18 386 V381.23 M175.97 386 V383.75 M243.05 386 V384.6 M125.24 386 V383.27 M202.41 386 V383.1 M156.75 386 V384.11 M143.31 386 V384.27 M157.31 386 V383.8 M159.88 386 V384.52 M210.5 386 V384.6 M233.89 386 V384.11 M149.54 386 V384.59 M190.79 386 V384.09 M221.86 386 V384.39 M176.56 386 V381.76 M156.16 386 V380.82 M247.36 386 V380.72 M254.84 386 V384.53 M235.83 386 V383.68 M145.87 386 V380.63 M211.27 386 V382.48 M198.05 386 V384.6 M243.05 386 V384.58 M153.99 386 V383.66 M144.39 386 V384.2 M220.98 386 V384.6 M213.18 386 V384.6 M185.91 386 V383.5 M217.11 386 V384.6 M143.97 386 V381.06 M173.44 386 V384.29 M171.02 386 V383.25 M224.94 386 V383.5 M175.11 386 V383.86 M191.77 386 V384.57 M255.75 386 V381.01 M230.39 386 V380.69 M184.43 386 V382.24 M151.27 386 V382.96 M221.19 386 V381.29 M238.64 386 V381.88 M155.25 386 V382.65 M185.86 386 V384.48 M170.11 386 V382.56 M240.02 386 V382.19 M214.48 386 V384.58 M138.75 386 V383.87 M147.05 386 V384.45 M130.9 386 V384.59 M221.49 386 V384.56 M240.78 386 V384.46 M240.92 386 V384.49 M155.23 386 V384.35 M117.58 386 V384.27" fill="none" stroke="#000" stroke-width="0.8"/>
<rect x="390.8" y="323.4" width="150.7" height="105.6" fill="#fff"/>
<line x1="390.8" y1="323.4" x2="390.8" y2="429" stroke="#666" stroke-width="0.9"/>
<line x1="390.8" y1="429" x2="541.5" y2="429" stroke="#666" stroke-width="0.9"/>
<line x1="389.2" y1="429" x2="390.8" y2="429" stroke="#555" stroke-width="0.7"/>
<text x="387.8" y="429" font-size="4.8" text-anchor="end" font-weight="normal" font-style="normal" fill="#555" dominant-baseline="central">0</text>
<line x1="389.2" y1="407.9" x2="390.8" y2="407.9" stroke="#555" stroke-width="0.7"/>
<text x="387.8" y="407.9" font-size="4.8" text-anchor="end" font-weight="normal" font-style="normal" fill="#555" dominant-baseline="central">50</text>
<line x1="389.2" y1="386.8" x2="390.8" y2="386.8" stroke="#555" stroke-width="0.7"/>
<text x="387.8" y="386.8" font-size="4.8" text-anchor="end" font-weight="normal" font-style="normal" fill="#555" dominant-baseline="central">100</text>
<line x1="389.2" y1="365.7" x2="390.8" y2="365.7" stroke="#555" stroke-width="0.7"/>
<text x="387.8" y="365.7" font-size="4.8" text-anchor="end" font-weight="normal" font-style="normal" fill="#555" dominant-baseline="central">150</text>
<line x1="389.2" y1="344.6" x2="390.8" y2="344.6" stroke="#555" stroke-width="0.7"/>
<text x="387.8" y="344.6" font-size="4.8" text-anchor="end" font-weight="normal" font-style="normal" fill="#555" dominant-baseline="central">200</text>
<line x1="389.2" y1="323.5" x2="390.8" y2="323.5" stroke="#555" stroke-width="0.7"/>
<text x="387.8" y="323.5" font-size="4.8" text-anchor="end" font-weight="normal" font-style="normal" fill="#555" dominant-baseline="central">250</text>
<line x1="390.5" y1="429" x2="390.5" y2="430.5" stroke="#555" stroke-width="0.7"/>
<text x="390.5" y="435" font-size="4.8" text-anchor="middle" font-weight="normal" font-style="normal" fill="#555" dominant-baseline="central">0.0</text>
<line x1="420.7" y1="429" x2="420.7" y2="430.5" stroke="#555" stroke-width="0.7"/>
<text x="420.7" y="435" font-size="4.8" text-anchor="middle" font-weight="normal" font-style="normal" fill="#555" dominant-baseline="central">0.2</text>
<line x1="450.9" y1="429" x2="450.9" y2="430.5" stroke="#555" stroke-width="0.7"/>
<text x="450.9" y="435" font-size="4.8" text-anchor="middle" font-weight="normal" font-style="normal" fill="#555" dominant-baseline="central">0.4</text>
<line x1="481.1" y1="429" x2="481.1" y2="430.5" stroke="#555" stroke-width="0.7"/>
<text x="481.1" y="435" font-size="4.8" text-anchor="middle" font-weight="normal" font-style="normal" fill="#555" dominant-baseline="central">0.6</text>
<line x1="511.3" y1="429" x2="511.3" y2="430.5" stroke="#555" stroke-width="0.7"/>
<text x="511.3" y="435" font-size="4.8" text-anchor="middle" font-weight="normal" font-style="normal" fill="#555" dominant-baseline="central">0.8</text>
<line x1="541.5" y1="429" x2="541.5" y2="430.5" stroke="#555" stroke-width="0.7"/>
<text x="541.5" y="435" font-size="4.8" text-anchor="middle" font-weight="normal" font-style="normal" fill="#555" dominant-baseline="central">1.0</text>
<text x="373.1" y="371.4" font-size="6.3" text-anchor="middle" font-weight="normal" font-style="normal" fill="#333" dominant-baseline="central" transform="rotate(-90 373.1 371.4)">Peaks</text>
<text x="471.3" y="444.2" font-size="6.5" text-anchor="middle" font-weight="normal" font-style="normal" fill="#111" dominant-baseline="central">Time, s</text>
<text x="431.5" y="311.8" font-size="8.9" text-anchor="middle" font-weight="bold" font-style="italic" fill="#111" dominant-baseline="central">E. coli</text>
<rect x="390.5" y="428.15" width="151" height="1.7" fill="#ff0000"/>
<path d="M390.5 429 L390.5 427.96 L391 428.14 L391.5 427.72 L392 427.96 L392.5 428.15 L393 427.67 L393.5 428.04 L394 428.02 L394.5 428.14 L395 428.1 L395.5 427.8 L396 427.86 L396.5 427.9 L397 428.03 L397.5 428.01 L398 427.66 L398.5 427.96 L399 427.66 L399.5 427.71 L400 428.09 L400.5 427.73 L401 428.14 L401.5 427.79 L402 427.75 L402.5 427.8 L403 427.88 L403.5 427.74 L404 428.07 L404.5 427.88 L405 428.02 L405.5 427.95 L406 428.05 L406.5 427.8 L407 427.86 L407.5 427.76 L408 427.84 L408.5 427.85 L409 427.69 L409.5 427.74 L410 427.87 L410.5 427.99 L411 427.69 L411.5 427.96 L412 428.1 L412.5 427.98 L413 427.8 L413.5 427.68 L414 427.83 L414.5 427.82 L415 427.68 L415.5 427.76 L416 427.93 L416.5 427.92 L417 427.77 L417.5 427.99 L418 428.1 L418.5 427.84 L419 427.75 L419.5 428.03 L420 427.81 L420.5 427.7 L421 428.09 L421.5 428.08 L422 427.9 L422.5 427.98 L423 427.68 L423.5 427.65 L424 427.93 L424.5 427.75 L425 427.83 L425.5 428.06 L426 427.66 L426.5 428.06 L427 428.11 L427.5 427.92 L428 428.14 L428.5 427.91 L429 427.94 L429.5 427.67 L430 427.94 L430.5 427.73 L431 427.76 L431.5 427.86 L432 428.03 L432.5 428 L433 427.9 L433.5 427.95 L434 427.83 L434.5 427.9 L435 427.99 L435.5 427.85 L436 427.65 L436.5 428.05 L437 427.98 L437.5 428.14 L438 428.1 L438.5 428.12 L439 427.94 L439.5 427.73 L440 427.8 L440.5 427.67 L441 427.73 L441.5 427.86 L442 427.86 L442.5 428.14 L443 427.96 L443.5 428.02 L444 427.84 L444.5 428.12 L445 427.88 L445.5 427.96 L446 427.9 L446.5 427.95 L447 428.1 L447.5 427.78 L448 427.75 L448.5 427.85 L449 428.09 L449.5 427.85 L450 427.71 L450.5 427.66 L451 427.77 L451.5 428.13 L452 427.71 L452.5 427.82 L453 428.01 L453.5 427.69 L454 427.74 L454.5 427.7 L455 428.03 L455.5 427.86 L456 427.96 L456.5 428 L457 427.77 L457.5 427.84 L458 427.98 L458.5 427.88 L459 427.69 L459.5 427.87 L460 427.69 L460.5 427.87 L461 427.65 L461.5 428.14 L462 427.92 L462.5 427.87 L463 427.79 L463.5 427.67 L464 427.84 L464.5 427.91 L465 427.83 L465.5 427.88 L466 427.8 L466.5 427.68 L467 428.14 L467.5 427.99 L468 427.71 L468.5 428.12 L469 427.75 L469.5 428.13 L470 427.83 L470.5 427.75 L471 428.03 L471.5 427.96 L472 428.04 L472.5 427.8 L473 427.89 L473.5 427.85 L474 427.99 L474.5 427.86 L475 427.67 L475.5 427.76 L476 427.67 L476.5 428.03 L477 427.89 L477.5 427.96 L478 427.98 L478.5 427.75 L479 428.06 L479.5 427.87 L480 427.76 L480.5 427.68 L481 428.14 L481.5 428.01 L482 427.9 L482.5 427.68 L483 428.07 L483.5 427.73 L484 427.95 L484.5 427.88 L485 427.69 L485.5 428.12 L486 427.99 L486.5 428.07 L487 428.08 L487.5 428 L488 427.8 L488.5 427.86 L489 428.09 L489.5 427.75 L490 427.9 L490.5 428.08 L491 427.74 L491.5 427.74 L492 428.04 L492.5 427.68 L493 427.74 L493.5 428.04 L494 428.15 L494.5 427.72 L495 427.74 L495.5 428.1 L496 427.77 L496.5 427.76 L497 427.83 L497.5 427.73 L498 427.66 L498.5 427.99 L499 427.73 L499.5 427.69 L500 427.99 L500.5 427.81 L501 427.81 L501.5 427.73 L502 427.87 L502.5 428.01 L503 428.02 L503.5 427.88 L504 428.08 L504.5 427.72 L505 427.71 L505.5 428.03 L506 427.8 L506.5 427.81 L507 428.09 L507.5 427.76 L508 427.77 L508.5 428 L509 428.1 L509.5 428.01 L510 427.76 L510.5 427.92 L511 427.74 L511.5 428.07 L512 428.1 L512.5 427.98 L513 427.71 L513.5 428.07 L514 428.11 L514.5 427.77 L515 428.1 L515.5 427.82 L516 428.11 L516.5 428.03 L517 427.82 L517.5 427.71 L518 427.95 L518.5 427.93 L519 428.13 L519.5 427.98 L520 428.03 L520.5 427.76 L521 427.79 L521.5 427.76 L522 427.88 L522.5 427.8 L523 428.09 L523.5 427.96 L524 428 L524.5 428.01 L525 427.78 L525.5 428.04 L526 427.99 L526.5 428.01 L527 427.72 L527.5 427.83 L528 427.91 L528.5 427.96 L529 427.69 L529.5 427.68 L530 427.93 L530.5 427.87 L531 427.72 L531.5 428.02 L532 428.02 L532.5 428.1 L533 427.9 L533.5 427.77 L534 428.07 L534.5 427.93 L535 427.65 L535.5 427.91 L536 427.96 L536.5 427.73 L537 427.7 L537.5 427.96 L538 428.09 L538.5 427.83 L539 427.78 L539.5 427.69 L540 427.82 L540.5 428 L541 427.89 L541.5 428.01 L541.5 429 Z" fill="#ff0000"/>
<path d="M457.85 429 V428.05 M528.25 429 V427.41 M530.38 429 V428.04 M536.12 429 V428.15 M529.58 429 V427.89 M522.25 429 V428.08 M540.12 429 V428.15 M518.52 429 V427.6 M447.01 429 V427.58 M422.76 429 V427.72 M461.24 429 V428.08 M420.18 429 V427.64 M500.87 429 V428.15 M538.18 429 V428.14 M447.16 429 V428.08 M477.55 429 V427.44 M533.22 429 V427.9 M445.7 429 V428.15 M400.89 429 V428.01 M478.57 429 V428.06" fill="none" stroke="#ff0000" stroke-width="0.8"/>
<rect x="390.5" y="419.2" width="151" height="2" fill="#00ff00"/>
<path d="M390.5 420.2 L390.5 418.41 L391 418.87 L391.5 418.92 L392 418.87 L392.5 419.06 L393 418.45 L393.5 418.73 L394 418.77 L394.5 418.86 L395 419 L395.5 418.95 L396 418.81 L396.5 418.84 L397 418.42 L397.5 418.75 L398 419.03 L398.5 419.16 L399 419.07 L399.5 418.92 L400 418.57 L400.5 418.49 L401 419.01 L401.5 418.58 L402 418.85 L402.5 418.77 L403 418.77 L403.5 419.17 L404 419.15 L404.5 418.67 L405 418.65 L405.5 418.9 L406 418.46 L406.5 418.54 L407 418.96 L407.5 419.15 L408 418.76 L408.5 418.68 L409 419.02 L409.5 419.16 L410 418.81 L410.5 419.17 L411 418.61 L411.5 418.7 L412 418.98 L412.5 418.84 L413 419.01 L413.5 419.05 L414 419.05 L414.5 418.55 L415 418.84 L415.5 418.63 L416 418.92 L416.5 418.55 L417 418.72 L417.5 418.68 L418 418.89 L418.5 418.75 L419 419.05 L419.5 418.42 L420 418.66 L420.5 418.77 L421 418.69 L421.5 419.12 L422 418.93 L422.5 419.02 L423 418.53 L423.5 419.19 L424 418.84 L424.5 418.51 L425 418.57 L425.5 418.62 L426 418.96 L426.5 419.01 L427 418.64 L427.5 418.96 L428 418.62 L428.5 418.92 L429 418.59 L429.5 418.74 L430 418.55 L430.5 418.41 L431 418.9 L431.5 418.41 L432 419.19 L432.5 418.5 L433 419.18 L433.5 418.76 L434 418.89 L434.5 418.58 L435 418.95 L435.5 419.03 L436 418.57 L436.5 418.76 L437 418.6 L437.5 418.81 L438 419.17 L438.5 418.58 L439 419.03 L439.5 418.82 L440 419.2 L440.5 418.99 L441 418.67 L441.5 418.59 L442 418.69 L442.5 418.85 L443 418.61 L443.5 418.66 L444 419.04 L444.5 418.77 L445 418.72 L445.5 418.62 L446 419.04 L446.5 418.95 L447 418.93 L447.5 419.12 L448 418.92 L448.5 418.62 L449 418.74 L449.5 419.06 L450 418.61 L450.5 419.11 L451 418.6 L451.5 419.08 L452 419.12 L452.5 419 L453 418.79 L453.5 418.98 L454 418.49 L454.5 418.45 L455 418.97 L455.5 418.6 L456 418.64 L456.5 418.75 L457 419 L457.5 418.44 L458 418.43 L458.5 419.19 L459 418.94 L459.5 418.94 L460 419.04 L460.5 418.86 L461 418.48 L461.5 419.18 L462 418.53 L462.5 418.95 L463 419.19 L463.5 418.48 L464 418.98 L464.5 419.03 L465 419.11 L465.5 418.91 L466 419.1 L466.5 419.06 L467 419 L467.5 418.74 L468 418.84 L468.5 418.96 L469 418.78 L469.5 418.58 L470 418.62 L470.5 418.93 L471 418.47 L471.5 418.57 L472 418.75 L472.5 418.82 L473 418.94 L473.5 419.09 L474 418.49 L474.5 418.71 L475 419.12 L475.5 418.46 L476 418.49 L476.5 419.17 L477 418.64 L477.5 419.01 L478 418.77 L478.5 418.53 L479 418.92 L479.5 418.8 L480 418.67 L480.5 419.05 L481 418.7 L481.5 418.86 L482 418.41 L482.5 419.05 L483 418.63 L483.5 419.17 L484 418.98 L484.5 419.11 L485 419.08 L485.5 418.78 L486 419.06 L486.5 418.56 L487 419.12 L487.5 418.7 L488 418.51 L488.5 419.1 L489 419.03 L489.5 418.59 L490 418.82 L490.5 418.45 L491 418.93 L491.5 418.88 L492 418.43 L492.5 418.92 L493 418.43 L493.5 418.49 L494 419.04 L494.5 418.76 L495 418.45 L495.5 419.11 L496 418.52 L496.5 418.58 L497 418.6 L497.5 418.72 L498 419.12 L498.5 418.43 L499 419.12 L499.5 418.57 L500 418.62 L500.5 418.95 L501 418.65 L501.5 418.87 L502 418.6 L502.5 419.17 L503 418.45 L503.5 418.89 L504 418.56 L504.5 418.82 L505 418.55 L505.5 418.96 L506 418.76 L506.5 419.18 L507 418.81 L507.5 419.14 L508 418.51 L508.5 418.66 L509 418.86 L509.5 418.42 L510 418.44 L510.5 418.43 L511 419.13 L511.5 418.64 L512 418.62 L512.5 418.72 L513 419.19 L513.5 418.46 L514 418.85 L514.5 418.72 L515 418.55 L515.5 418.98 L516 419.18 L516.5 418.46 L517 418.98 L517.5 419.17 L518 419.09 L518.5 418.4 L519 418.61 L519.5 419.03 L520 419.08 L520.5 418.48 L521 418.67 L521.5 418.73 L522 419.1 L522.5 418.87 L523 418.44 L523.5 419.2 L524 418.86 L524.5 419.15 L525 418.4 L525.5 419.12 L526 418.44 L526.5 418.53 L527 418.61 L527.5 419.17 L528 418.64 L528.5 418.81 L529 418.81 L529.5 419.08 L530 418.79 L530.5 418.56 L531 419.09 L531.5 418.5 L532 418.86 L532.5 418.99 L533 419.01 L533.5 418.83 L534 418.68 L534.5 418.74 L535 418.49 L535.5 418.79 L536 418.79 L536.5 418.41 L537 419.03 L537.5 419.19 L538 418.94 L538.5 418.95 L539 419.1 L539.5 418.87 L540 419.17 L540.5 418.46 L541 418.81 L541.5 418.5 L541.5 420.2 Z" fill="#00ff00"/>
<path d="M495.82 420.2 V418.81 M505.04 420.2 V419.17 M500.6 420.2 V419.19 M474.28 420.2 V418.99 M507.61 420.2 V419.2 M442.46 420.2 V418.64 M511.99 420.2 V418.26 M408.37 420.2 V419.19 M406.6 420.2 V418.82 M503.06 420.2 V418.93 M508.21 420.2 V419.06 M475.41 420.2 V418.42 M488.39 420.2 V418.92 M479.41 420.2 V419.08 M504.78 420.2 V419.01 M409.98 420.2 V419.12 M454.12 420.2 V419.12 M475.21 420.2 V419.15 M449.56 420.2 V419.12 M446.59 420.2 V418.28" fill="none" stroke="#00ff00" stroke-width="0.8"/>
<rect x="390.5" y="410.4" width="151" height="2.2" fill="#0000ff"/>
<path d="M390.5 411.5 L390.5 410.31 L391 410.38 L391.5 409.68 L392 410 L392.5 409.95 L393 409.81 L393.5 410.03 L394 410.16 L394.5 410.38 L395 409.53 L395.5 409.46 L396 410.11 L396.5 409.93 L397 410.08 L397.5 410.34 L398 409.51 L398.5 409.56 L399 410.16 L399.5 410.15 L400 409.7 L400.5 409.6 L401 409.93 L401.5 410.01 L402 410.17 L402.5 409.6 L403 409.54 L403.5 409.54 L404 410.29 L404.5 409.81 L405 409.41 L405.5 409.68 L406 409.94 L406.5 410.25 L407 410.34 L407.5 409.67 L408 410.33 L408.5 409.59 L409 409.73 L409.5 409.93 L410 409.51 L410.5 409.47 L411 409.78 L411.5 410.3 L412 409.81 L412.5 409.98 L413 410.15 L413.5 409.47 L414 409.67 L414.5 410.28 L415 410.17 L415.5 410.06 L416 409.83 L416.5 410.08 L417 409.96 L417.5 409.59 L418 410.22 L418.5 409.68 L419 410.07 L419.5 409.46 L420 409.45 L420.5 410.07 L421 409.79 L421.5 410.29 L422 409.99 L422.5 409.78 L423 409.76 L423.5 410.06 L424 410.37 L424.5 410.28 L425 409.84 L425.5 410.23 L426 410.09 L426.5 409.78 L427 409.5 L427.5 409.88 L428 410.15 L428.5 409.81 L429 410.12 L429.5 409.62 L430 410.24 L430.5 410.14 L431 409.96 L431.5 409.49 L432 410.23 L432.5 410.21 L433 410.27 L433.5 410.19 L434 410.07 L434.5 410 L435 409.64 L435.5 410 L436 409.92 L436.5 410 L437 409.63 L437.5 409.5 L438 409.97 L438.5 409.48 L439 410.15 L439.5 409.42 L440 409.87 L440.5 409.72 L441 410.02 L441.5 410.13 L442 410.26 L442.5 409.51 L443 410.04 L443.5 409.7 L444 409.94 L444.5 409.87 L445 410.19 L445.5 410.22 L446 410.06 L446.5 409.72 L447 409.86 L447.5 410.4 L448 409.69 L448.5 409.97 L449 410.33 L449.5 410.14 L450 410.19 L450.5 409.58 L451 409.85 L451.5 410.07 L452 410.15 L452.5 410.11 L453 410.12 L453.5 410.05 L454 409.61 L454.5 409.61 L455 409.7 L455.5 409.52 L456 409.75 L456.5 410.29 L457 410.36 L457.5 410.24 L458 410.14 L458.5 409.87 L459 409.58 L459.5 409.81 L460 409.97 L460.5 410.16 L461 409.42 L461.5 409.65 L462 410.06 L462.5 410.35 L463 409.42 L463.5 410.14 L464 409.55 L464.5 410.28 L465 409.75 L465.5 410.04 L466 409.51 L466.5 410.1 L467 410.3 L467.5 410.2 L468 409.59 L468.5 409.42 L469 409.76 L469.5 409.72 L470 410.12 L470.5 410.13 L471 410.31 L471.5 409.42 L472 410.36 L472.5 409.79 L473 410.05 L473.5 410.21 L474 409.96 L474.5 409.47 L475 410.15 L475.5 410.24 L476 409.77 L476.5 409.74 L477 409.89 L477.5 410.22 L478 409.53 L478.5 410.29 L479 410.23 L479.5 410.16 L480 409.89 L480.5 409.92 L481 409.85 L481.5 409.67 L482 409.51 L482.5 409.93 L483 410.36 L483.5 409.57 L484 410.38 L484.5 410.08 L485 410.26 L485.5 409.8 L486 409.62 L486.5 410.27 L487 410.11 L487.5 409.55 L488 409.71 L488.5 410.29 L489 409.71 L489.5 409.61 L490 409.99 L490.5 410.24 L491 409.74 L491.5 410.08 L492 410.27 L492.5 410.24 L493 410 L493.5 410.27 L494 410.01 L494.5 409.85 L495 409.85 L495.5 410 L496 409.6 L496.5 410.31 L497 410.07 L497.5 409.47 L498 409.54 L498.5 409.48 L499 409.63 L499.5 409.86 L500 409.61 L500.5 409.83 L501 410.28 L501.5 410.14 L502 410.3 L502.5 409.52 L503 410.08 L503.5 409.99 L504 409.86 L504.5 410.3 L505 409.69 L505.5 409.6 L506 409.6 L506.5 409.52 L507 410.08 L507.5 410.25 L508 409.64 L508.5 409.71 L509 410.03 L509.5 410.06 L510 410.25 L510.5 409.57 L511 409.94 L511.5 409.59 L512 410.06 L512.5 410.08 L513 409.89 L513.5 409.65 L514 409.52 L514.5 410.05 L515 409.71 L515.5 410 L516 409.54 L516.5 409.64 L517 409.84 L517.5 410.04 L518 410.13 L518.5 409.52 L519 409.6 L519.5 410.09 L520 410.32 L520.5 410.2 L521 409.44 L521.5 410.36 L522 409.59 L522.5 409.87 L523 409.85 L523.5 409.86 L524 409.99 L524.5 409.84 L525 410.31 L525.5 409.48 L526 410.3 L526.5 410.26 L527 409.73 L527.5 409.76 L528 409.59 L528.5 409.71 L529 409.47 L529.5 410.35 L530 410.39 L530.5 410.16 L531 409.62 L531.5 410.25 L532 409.87 L532.5 409.63 L533 410.24 L533.5 409.87 L534 409.5 L534.5 409.65 L535 410 L535.5 409.92 L536 410.12 L536.5 409.44 L537 409.62 L537.5 409.72 L538 410.1 L538.5 409.67 L539 409.91 L539.5 409.6 L540 410.04 L540.5 409.52 L541 409.72 L541.5 409.95 L541.5 411.5 Z" fill="#0000ff"/>
<path d="M475.47 411.5 V409.36 M470.4 411.5 V408.63 M391.59 411.5 V408.96 M498.33 411.5 V410.17 M518.83 411.5 V410.39 M441.49 411.5 V409.67 M514.83 411.5 V410.3 M540.62 411.5 V409.85 M397.34 411.5 V410.4 M402.03 411.5 V410.03 M439.11 411.5 V410.36 M458.09 411.5 V410.4 M527.74 411.5 V409.22 M474.86 411.5 V410.22 M437.07 411.5 V409.96 M442.87 411.5 V408.54 M534.88 411.5 V409.63 M515.22 411.5 V410.4 M409.17 411.5 V410.32 M409.55 411.5 V410.25 M539.4 411.5 V409.24 M535.27 411.5 V410.38 M424 411.5 V410.4 M431.82 411.5 V410.4 M470.25 411.5 V410.35 M492.24 411.5 V410.05 M480.7 411.5 V410.35 M501.46 411.5 V409.75 M498.36 411.5 V410.19 M460.54 411.5 V410.35" fill="none" stroke="#0000ff" stroke-width="0.8"/>
<rect x="390.5" y="401.85" width="151" height="2.3" fill="#ff00ff"/>
<path d="M390.5 403 L390.5 401.83 L391 401.57 L391.5 401.48 L392 401.74 L392.5 401.33 L393 401.32 L393.5 401.34 L394 401.36 L394.5 401.56 L395 401.74 L395.5 401.69 L396 401.41 L396.5 401.26 L397 401.78 L397.5 401.85 L398 401.64 L398.5 401.64 L399 401.49 L399.5 401.78 L400 401.34 L400.5 401.65 L401 401.3 L401.5 401.65 L402 401.67 L402.5 401.74 L403 401.27 L403.5 401.5 L404 401.35 L404.5 401.81 L405 401.52 L405.5 401.41 L406 401.26 L406.5 401.29 L407 401.79 L407.5 401.63 L408 401.25 L408.5 401.53 L409 401.28 L409.5 401.7 L410 401.83 L410.5 401.28 L411 401.69 L411.5 401.51 L412 401.63 L412.5 401.5 L413 401.29 L413.5 401.28 L414 401.32 L414.5 401.7 L415 401.36 L415.5 401.84 L416 401.6 L416.5 401.28 L417 401.7 L417.5 401.63 L418 401.5 L418.5 401.71 L419 401.42 L419.5 401.46 L420 401.79 L420.5 401.3 L421 401.81 L421.5 401.43 L422 401.64 L422.5 401.76 L423 401.8 L423.5 401.25 L424 401.37 L424.5 401.57 L425 401.37 L425.5 401.27 L426 401.29 L426.5 401.53 L427 401.69 L427.5 401.54 L428 401.26 L428.5 401.41 L429 401.45 L429.5 401.34 L430 401.6 L430.5 401.51 L431 401.34 L431.5 401.73 L432 401.33 L432.5 401.84 L433 401.53 L433.5 401.51 L434 401.76 L434.5 401.3 L435 401.59 L435.5 401.74 L436 401.6 L436.5 401.5 L437 401.59 L437.5 401.85 L438 401.79 L438.5 401.42 L439 401.77 L439.5 401.7 L440 401.37 L440.5 401.33 L441 401.32 L441.5 401.75 L442 401.85 L442.5 401.4 L443 401.49 L443.5 401.63 L444 401.84 L444.5 401.59 L445 401.71 L445.5 401.5 L446 401.26 L446.5 401.72 L447 401.8 L447.5 401.43 L448 401.79 L448.5 401.72 L449 401.59 L449.5 401.26 L450 401.66 L450.5 401.66 L451 401.56 L451.5 401.75 L452 401.61 L452.5 401.43 L453 401.66 L453.5 401.37 L454 401.74 L454.5 401.79 L455 401.47 L455.5 401.58 L456 401.3 L456.5 401.79 L457 401.4 L457.5 401.45 L458 401.63 L458.5 401.77 L459 401.48 L459.5 401.4 L460 401.57 L460.5 401.57 L461 401.44 L461.5 401.48 L462 401.6 L462.5 401.74 L463 401.57 L463.5 401.52 L464 401.31 L464.5 401.25 L465 401.52 L465.5 401.65 L466 401.72 L466.5 401.47 L467 401.41 L467.5 401.7 L468 401.44 L468.5 401.25 L469 401.62 L469.5 401.29 L470 401.59 L470.5 401.46 L471 401.33 L471.5 401.73 L472 401.64 L472.5 401.26 L473 401.81 L473.5 401.67 L474 401.56 L474.5 401.4 L475 401.47 L475.5 401.29 L476 401.45 L476.5 401.85 L477 401.81 L477.5 401.83 L478 401.59 L478.5 401.83 L479 401.53 L479.5 401.47 L480 401.73 L480.5 401.34 L481 401.6 L481.5 401.27 L482 401.64 L482.5 401.48 L483 401.52 L483.5 401.69 L484 401.38 L484.5 401.85 L485 401.7 L485.5 401.66 L486 401.32 L486.5 401.55 L487 401.83 L487.5 401.67 L488 401.48 L488.5 401.36 L489 401.78 L489.5 401.38 L490 401.62 L490.5 401.54 L491 401.6 L491.5 401.59 L492 401.26 L492.5 401.3 L493 401.3 L493.5 401.41 L494 401.43 L494.5 401.77 L495 401.83 L495.5 401.35 L496 401.45 L496.5 401.47 L497 401.66 L497.5 401.69 L498 401.3 L498.5 401.53 L499 401.84 L499.5 401.65 L500 401.64 L500.5 401.81 L501 401.26 L501.5 401.31 L502 401.36 L502.5 401.85 L503 401.6 L503.5 401.78 L504 401.41 L504.5 401.36 L505 401.38 L505.5 401.37 L506 401.78 L506.5 401.84 L507 401.79 L507.5 401.34 L508 401.35 L508.5 401.54 L509 401.71 L509.5 401.34 L510 401.78 L510.5 401.66 L511 401.85 L511.5 401.26 L512 401.6 L512.5 401.39 L513 401.37 L513.5 401.5 L514 401.26 L514.5 401.39 L515 401.29 L515.5 401.27 L516 401.8 L516.5 401.4 L517 401.71 L517.5 401.66 L518 401.65 L518.5 401.26 L519 401.81 L519.5 401.59 L520 401.77 L520.5 401.25 L521 401.55 L521.5 401.43 L522 401.54 L522.5 401.39 L523 401.65 L523.5 401.6 L524 401.4 L524.5 401.43 L525 401.32 L525.5 401.66 L526 401.34 L526.5 401.41 L527 401.51 L527.5 401.61 L528 401.51 L528.5 401.8 L529 401.79 L529.5 401.66 L530 401.78 L530.5 401.82 L531 401.42 L531.5 401.41 L532 401.48 L532.5 401.73 L533 401.42 L533.5 401.35 L534 401.48 L534.5 401.71 L535 401.51 L535.5 401.61 L536 401.69 L536.5 401.76 L537 401.33 L537.5 401.47 L538 401.29 L538.5 401.75 L539 401.69 L539.5 401.54 L540 401.81 L540.5 401.67 L541 401.53 L541.5 401.56 L541.5 403 Z" fill="#ff00ff"/>
<path d="M398.5 403 V384.2 M448.4 403 V378 M508.2 403 V390.9 M537.3 403 V393.6" fill="none" stroke="#ff00ff" stroke-width="0.8"/>
<path d="M527.85 403 V401.47 M486.76 403 V401.45 M509.09 403 V401.75 M390.59 403 V399.96 M510.16 403 V401.85 M407.39 403 V401.83 M489.86 403 V401.85 M393.52 403 V401.61 M391.42 403 V401.82 M448.21 403 V401.83 M390.87 403 V401.81 M427.31 403 V401.78 M453.09 403 V401.76 M439.44 403 V401.85 M516.93 403 V401.05" fill="none" stroke="#ff00ff" stroke-width="0.8"/>
<rect x="390.5" y="372.2" width="151" height="2.8" fill="#000"/>
<path d="M390.5 373.6 L390.5 371.61 L391 372.2 L391.5 371.92 L392 371.12 L392.5 371.65 L393 371.95 L393.5 371.22 L394 371.13 L394.5 372.05 L395 371.6 L395.5 371.53 L396 372.06 L396.5 371.82 L397 371.46 L397.5 371.39 L398 371.45 L398.5 371.46 L399 371.75 L399.5 372.12 L400 372.18 L400.5 371.19 L401 371.16 L401.5 371.11 L402 372.11 L402.5 371.28 L403 371.99 L403.5 371.78 L404 371.96 L404.5 371.17 L405 371.22 L405.5 371.2 L406 371.74 L406.5 371.08 L407 371.89 L407.5 371.51 L408 371.39 L408.5 371.92 L409 371.74 L409.5 372.08 L410 371.24 L410.5 371.98 L411 372.04 L411.5 371.87 L412 371.43 L412.5 371.44 L413 371.57 L413.5 371.18 L414 371.3 L414.5 371.95 L415 371.56 L415.5 372 L416 371.91 L416.5 372.02 L417 372.11 L417.5 371.78 L418 371.14 L418.5 371.41 L419 372.09 L419.5 371.94 L420 371.49 L420.5 371.56 L421 372.17 L421.5 372.09 L422 371.52 L422.5 371.48 L423 372.1 L423.5 371.27 L424 371.91 L424.5 371.49 L425 371.56 L425.5 371.79 L426 371.06 L426.5 371.73 L427 371.69 L427.5 371.55 L428 371.19 L428.5 371.01 L429 371.28 L429.5 371.55 L430 371.34 L430.5 371.43 L431 371.05 L431.5 371.04 L432 371.29 L432.5 371.94 L433 371.52 L433.5 371.67 L434 371.92 L434.5 371.26 L435 371.93 L435.5 371.35 L436 371.61 L436.5 371.69 L437 371.35 L437.5 371.33 L438 371.01 L438.5 371 L439 371.24 L439.5 371.88 L440 371.4 L440.5 371.61 L441 371.07 L441.5 371.66 L442 371.77 L442.5 372.17 L443 371.64 L443.5 371.56 L444 371.83 L444.5 372.07 L445 371.62 L445.5 372.12 L446 371.99 L446.5 371.67 L447 371.78 L447.5 371.6 L448 371.56 L448.5 371.73 L449 372.04 L449.5 372.18 L450 371.53 L450.5 371.04 L451 371.86 L451.5 371.78 L452 371.82 L452.5 371.31 L453 371.61 L453.5 371.24 L454 372.19 L454.5 372.04 L455 371.95 L455.5 371.76 L456 371.72 L456.5 371.74 L457 371.04 L457.5 371.67 L458 371.51 L458.5 371.04 L459 371.43 L459.5 371.49 L460 371.21 L460.5 371.8 L461 372.16 L461.5 371.05 L462 371.56 L462.5 371.5 L463 372.12 L463.5 371.31 L464 371.75 L464.5 371.43 L465 371.86 L465.5 371.1 L466 371.76 L466.5 371.87 L467 371.13 L467.5 371.93 L468 371.87 L468.5 371.62 L469 371.02 L469.5 372.06 L470 371.95 L470.5 371.25 L471 372.11 L471.5 371.7 L472 371.26 L472.5 371.34 L473 371.25 L473.5 372.06 L474 371.13 L474.5 371.77 L475 371.22 L475.5 371.63 L476 371.13 L476.5 371.63 L477 371.89 L477.5 372.02 L478 371.6 L478.5 372.14 L479 372 L479.5 371.15 L480 371.51 L480.5 371.16 L481 372.02 L481.5 371.62 L482 371.64 L482.5 372.07 L483 371.88 L483.5 371.09 L484 371.33 L484.5 371.59 L485 371.47 L485.5 371.17 L486 371.06 L486.5 371.49 L487 372.14 L487.5 371.15 L488 372 L488.5 371.91 L489 372.04 L489.5 371.59 L490 371.5 L490.5 371.65 L491 371.64 L491.5 372.03 L492 371.34 L492.5 371.55 L493 371.83 L493.5 371.2 L494 371.07 L494.5 371.09 L495 371.02 L495.5 372.12 L496 371.73 L496.5 371.66 L497 371.89 L497.5 371.31 L498 371.11 L498.5 372.03 L499 371.59 L499.5 371.04 L500 371.13 L500.5 371.66 L501 372.07 L501.5 371.65 L502 371.58 L502.5 371.26 L503 371.98 L503.5 371.86 L504 371.02 L504.5 372.19 L505 371.47 L505.5 372.09 L506 371.3 L506.5 371.69 L507 371.09 L507.5 371.93 L508 371.15 L508.5 371.93 L509 372.14 L509.5 372.1 L510 372.11 L510.5 371.73 L511 371.03 L511.5 371.77 L512 371.34 L512.5 372.16 L513 371.58 L513.5 371.55 L514 372.08 L514.5 371.5 L515 371.66 L515.5 371.81 L516 371.2 L516.5 371.37 L517 372.06 L517.5 372.07 L518 372.14 L518.5 371.88 L519 371.44 L519.5 371.04 L520 371.04 L520.5 371.16 L521 372.05 L521.5 371.25 L522 371.29 L522.5 371.63 L523 371.01 L523.5 371.48 L524 372.06 L524.5 371.94 L525 372.04 L525.5 371.47 L526 371.45 L526.5 371.17 L527 372.19 L527.5 372.19 L528 371.03 L528.5 371.89 L529 371.88 L529.5 371.16 L530 372.07 L530.5 371.25 L531 371.12 L531.5 371.53 L532 371.47 L532.5 372.19 L533 371.47 L533.5 371.46 L534 371.27 L534.5 371.58 L535 372.06 L535.5 371.93 L536 371.42 L536.5 372.1 L537 372.07 L537.5 371.9 L538 371.24 L538.5 371.54 L539 371.77 L539.5 371.04 L540 371.5 L540.5 371.91 L541 371.52 L541.5 371.17 L541.5 373.6 Z" fill="#000"/>
<path d="M426.5 373.6 V365.1 M480 373.6 V337.3 M505.5 373.6 V366.4" fill="none" stroke="#222" stroke-width="0.6"/>
<path d="M446.15 373.6 V372.04 M477.69 373.6 V370.28 M486.92 373.6 V372.19 M478.39 373.6 V372.13 M461.98 373.6 V371.48 M393.55 373.6 V371.94 M437.93 373.6 V371.77 M514.42 373.6 V372 M485.59 373.6 V372.15 M429.15 373.6 V371.93 M470.91 373.6 V372.18 M506.03 373.6 V371.95 M444.19 373.6 V372.17 M516.86 373.6 V370.73 M532.16 373.6 V372.17 M401.25 373.6 V371.7 M394.24 373.6 V370.94 M493.04 373.6 V372.12 M457.16 373.6 V371.56 M414.69 373.6 V372.1 M509.31 373.6 V371.57 M478.89 373.6 V372.2 M423.28 373.6 V372.17 M395.25 373.6 V371.68 M476.99 373.6 V370.62 M474.22 373.6 V370.65 M461.3 373.6 V371.92 M432.98 373.6 V372 M531.96 373.6 V371.97 M390.82 373.6 V372.11 M420.37 373.6 V371.72 M467.39 373.6 V371.98 M530.5 373.6 V371.31 M403.68 373.6 V372.2 M496.31 373.6 V371.77 M489.02 373.6 V371.95 M395.91 373.6 V372.02 M516.65 373.6 V371.76 M397.17 373.6 V372.2 M527.11 373.6 V371.88" fill="none" stroke="#000" stroke-width="0.8"/>
</svg>
</body></html>
